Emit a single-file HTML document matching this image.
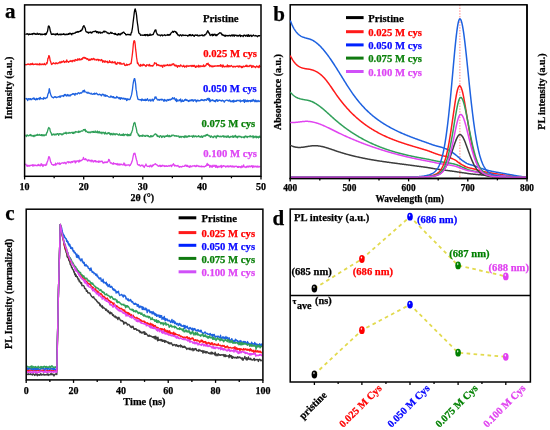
<!DOCTYPE html>
<html><head><meta charset="utf-8"><style>
html,body{margin:0;padding:0;background:#fff;width:550px;height:430px;overflow:hidden}
svg{display:block;will-change:transform}
text{font-family:"Liberation Serif",serif;font-weight:bold;stroke-width:0.25px;paint-order:stroke fill}
</style></head><body>
<svg width="550" height="430" viewBox="0 0 550 430">
<rect width="550" height="430" fill="#fff"/>
<text x="5" y="18.2" font-size="21" font-family="Liberation Serif, serif" font-weight="bold" stroke="#000">a</text>
<path d="M25.40,34.20 L25.85,34.34 L26.30,34.08 L26.75,33.81 L27.20,34.01 L27.65,33.77 L28.10,34.25 L28.55,34.83 L29.00,34.00 L29.45,33.95 L29.90,34.45 L30.35,34.40 L30.80,34.29 L31.25,33.82 L31.70,34.23 L32.15,34.56 L32.60,33.65 L33.05,34.05 L33.50,33.40 L33.95,33.68 L34.40,33.44 L34.85,34.16 L35.30,33.70 L35.75,34.40 L36.20,34.35 L36.65,34.20 L37.10,33.15 L37.55,34.05 L38.00,34.27 L38.45,34.34 L38.90,33.61 L39.35,34.09 L39.80,33.86 L40.25,33.94 L40.70,34.79 L41.15,33.95 L41.60,34.30 L42.05,34.72 L42.50,34.06 L42.95,34.27 L43.40,34.38 L43.85,34.36 L44.30,33.78 L44.75,34.36 L45.20,34.92 L45.65,33.54 L46.10,34.40 L46.55,33.53 L47.00,32.15 L47.45,31.69 L47.90,29.08 L48.35,26.32 L48.80,25.93 L49.25,26.54 L49.70,27.76 L50.15,30.22 L50.60,31.76 L51.05,33.41 L51.50,34.50 L51.95,33.89 L52.40,34.41 L52.85,34.16 L53.30,34.43 L53.75,33.84 L54.20,34.12 L54.65,34.29 L55.10,34.78 L55.55,34.90 L56.00,33.78 L56.45,34.02 L56.90,34.67 L57.35,33.48 L57.80,34.17 L58.25,34.33 L58.70,34.94 L59.15,34.68 L59.60,34.22 L60.05,34.20 L60.50,34.25 L60.95,35.04 L61.40,34.16 L61.85,34.21 L62.30,34.49 L62.75,34.27 L63.20,34.23 L63.65,33.81 L64.10,34.30 L64.55,34.09 L65.00,34.81 L65.45,34.57 L65.90,34.25 L66.35,34.54 L66.80,34.08 L67.25,34.68 L67.70,34.19 L68.15,34.43 L68.60,33.56 L69.05,34.27 L69.50,33.31 L69.95,33.12 L70.40,33.85 L70.85,33.53 L71.30,33.94 L71.75,34.80 L72.20,33.33 L72.65,33.33 L73.10,33.60 L73.55,33.61 L74.00,33.17 L74.45,33.02 L74.90,33.27 L75.35,33.03 L75.80,32.17 L76.25,32.43 L76.70,32.31 L77.15,31.66 L77.60,32.10 L78.05,31.46 L78.50,32.16 L78.95,31.70 L79.40,31.57 L79.85,31.20 L80.30,31.35 L80.75,30.39 L81.20,30.56 L81.65,30.78 L82.10,28.89 L82.55,29.12 L83.00,26.70 L83.45,26.76 L83.90,25.56 L84.35,26.62 L84.80,27.38 L85.25,28.04 L85.70,30.67 L86.15,31.83 L86.60,31.86 L87.05,32.16 L87.50,32.41 L87.95,32.15 L88.40,33.13 L88.85,32.41 L89.30,32.64 L89.75,32.30 L90.20,32.36 L90.65,32.02 L91.10,33.10 L91.55,32.37 L92.00,32.75 L92.45,32.18 L92.90,31.70 L93.35,31.70 L93.80,31.44 L94.25,31.58 L94.70,31.34 L95.15,31.37 L95.60,30.94 L96.05,31.31 L96.50,32.56 L96.95,31.69 L97.40,31.69 L97.85,32.48 L98.30,33.11 L98.75,31.94 L99.20,32.59 L99.65,32.48 L100.10,32.02 L100.55,33.18 L101.00,32.85 L101.45,32.87 L101.90,32.43 L102.35,32.84 L102.80,32.19 L103.25,32.11 L103.70,31.38 L104.15,31.07 L104.60,32.05 L105.05,31.20 L105.50,31.69 L105.95,31.81 L106.40,31.97 L106.85,32.29 L107.30,33.10 L107.75,32.90 L108.20,33.10 L108.65,33.23 L109.10,33.74 L109.55,33.46 L110.00,33.24 L110.45,32.73 L110.90,32.29 L111.35,33.29 L111.80,33.29 L112.25,32.84 L112.70,33.24 L113.15,33.48 L113.60,33.66 L114.05,33.87 L114.50,33.42 L114.95,34.47 L115.40,33.36 L115.85,34.43 L116.30,34.35 L116.75,34.60 L117.20,35.11 L117.65,34.98 L118.10,33.83 L118.55,33.62 L119.00,34.78 L119.45,33.98 L119.90,34.45 L120.35,34.82 L120.80,33.62 L121.25,33.21 L121.70,33.93 L122.15,33.34 L122.60,32.71 L123.05,32.51 L123.50,32.11 L123.95,32.15 L124.40,33.29 L124.85,33.46 L125.30,33.57 L125.75,34.79 L126.20,34.67 L126.65,34.94 L127.10,34.34 L127.55,34.51 L128.00,34.37 L128.45,34.42 L128.90,34.90 L129.35,34.43 L129.80,34.86 L130.25,34.65 L130.70,35.01 L131.15,32.74 L131.60,32.54 L132.05,30.20 L132.50,27.55 L132.95,23.45 L133.40,19.88 L133.85,16.31 L134.30,12.31 L134.75,9.89 L135.20,8.83 L135.65,10.38 L136.10,12.36 L136.55,15.02 L137.00,19.83 L137.45,23.28 L137.90,26.17 L138.35,30.09 L138.80,32.84 L139.25,33.51 L139.70,33.70 L140.15,34.22 L140.60,35.37 L141.05,35.03 L141.50,35.03 L141.95,35.00 L142.40,35.05 L142.85,35.41 L143.30,35.30 L143.75,35.15 L144.20,34.59 L144.65,35.29 L145.10,34.76 L145.55,35.56 L146.00,34.50 L146.45,35.01 L146.90,35.07 L147.35,34.48 L147.80,35.86 L148.25,35.74 L148.70,34.88 L149.15,35.44 L149.60,35.27 L150.05,33.92 L150.50,35.22 L150.95,35.07 L151.40,35.12 L151.85,34.55 L152.30,34.78 L152.75,34.52 L153.20,34.58 L153.65,33.34 L154.10,32.10 L154.55,31.71 L155.00,30.04 L155.45,30.00 L155.90,29.91 L156.35,32.44 L156.80,33.30 L157.25,34.23 L157.70,34.78 L158.15,34.91 L158.60,35.15 L159.05,35.02 L159.50,35.07 L159.95,35.20 L160.40,35.86 L160.85,35.43 L161.30,35.16 L161.75,34.93 L162.20,34.90 L162.65,35.91 L163.10,35.42 L163.55,35.23 L164.00,35.05 L164.45,34.71 L164.90,35.18 L165.35,35.61 L165.80,35.04 L166.25,35.11 L166.70,35.12 L167.15,35.26 L167.60,34.47 L168.05,35.05 L168.50,34.70 L168.95,35.36 L169.40,34.42 L169.85,34.75 L170.30,34.80 L170.75,33.50 L171.20,32.85 L171.65,32.67 L172.10,32.10 L172.55,31.28 L173.00,31.70 L173.45,32.31 L173.90,31.32 L174.35,31.45 L174.80,31.24 L175.25,32.06 L175.70,31.63 L176.15,32.05 L176.60,33.55 L177.05,33.05 L177.50,34.42 L177.95,35.05 L178.40,34.83 L178.85,35.21 L179.30,36.01 L179.75,35.14 L180.20,35.01 L180.65,34.70 L181.10,35.34 L181.55,35.99 L182.00,35.76 L182.45,34.91 L182.90,34.95 L183.35,35.12 L183.80,35.48 L184.25,35.26 L184.70,35.45 L185.15,35.49 L185.60,35.22 L186.05,35.34 L186.50,35.46 L186.95,35.33 L187.40,35.60 L187.85,36.22 L188.30,35.65 L188.75,35.41 L189.20,34.63 L189.65,35.56 L190.10,34.52 L190.55,34.76 L191.00,35.78 L191.45,35.72 L191.90,35.34 L192.35,34.64 L192.80,35.24 L193.25,35.11 L193.70,35.70 L194.15,36.44 L194.60,35.52 L195.05,35.08 L195.50,34.90 L195.95,35.41 L196.40,35.36 L196.85,34.92 L197.30,35.50 L197.75,34.93 L198.20,35.95 L198.65,35.93 L199.10,35.95 L199.55,35.25 L200.00,35.70 L200.45,35.41 L200.90,35.30 L201.35,35.32 L201.80,34.89 L202.25,34.83 L202.70,35.84 L203.15,35.40 L203.60,35.57 L204.05,35.90 L204.50,34.60 L204.95,34.84 L205.40,34.91 L205.85,34.40 L206.30,33.21 L206.75,32.90 L207.20,31.74 L207.65,30.75 L208.10,31.08 L208.55,32.54 L209.00,33.27 L209.45,33.02 L209.90,35.06 L210.35,35.03 L210.80,35.45 L211.25,34.64 L211.70,34.59 L212.15,34.13 L212.60,35.72 L213.05,34.48 L213.50,35.31 L213.95,34.38 L214.40,34.86 L214.85,34.16 L215.30,34.87 L215.75,35.59 L216.20,34.64 L216.65,35.67 L217.10,35.23 L217.55,34.39 L218.00,34.30 L218.45,33.90 L218.90,33.65 L219.35,33.08 L219.80,32.75 L220.25,33.01 L220.70,32.91 L221.15,33.17 L221.60,34.18 L222.05,35.04 L222.50,34.31 L222.95,35.27 L223.40,35.15 L223.85,35.10 L224.30,35.98 L224.75,35.39 L225.20,36.31 L225.65,35.30 L226.10,35.83 L226.55,35.55 L227.00,35.32 L227.45,35.93 L227.90,35.60 L228.35,35.94 L228.80,35.65 L229.25,35.19 L229.70,35.63 L230.15,35.71 L230.60,36.12 L231.05,35.28 L231.50,35.67 L231.95,34.92 L232.40,35.99 L232.85,35.21 L233.30,34.89 L233.75,35.68 L234.20,36.21 L234.65,35.03 L235.10,35.23 L235.55,35.39 L236.00,35.22 L236.45,35.90 L236.90,35.37 L237.35,35.41 L237.80,36.00 L238.25,35.40 L238.70,35.94 L239.15,35.31 L239.60,35.20 L240.05,34.93 L240.50,36.59 L240.95,35.62 L241.40,35.87 L241.85,35.75 L242.30,35.84 L242.75,35.80 L243.20,36.63 L243.65,35.31 L244.10,35.08 L244.55,35.33 L245.00,35.19 L245.45,36.13 L245.90,36.16 L246.35,35.37 L246.80,35.18 L247.25,35.65 L247.70,36.43 L248.15,34.54 L248.60,36.05 L249.05,35.33 L249.50,36.29 L249.95,35.34 L250.40,35.70 L250.85,35.15 L251.30,35.40 L251.75,36.46 L252.20,36.21 L252.65,35.66 L253.10,35.46 L253.55,35.00 L254.00,35.68 L254.45,35.84 L254.90,35.82 L255.35,35.82 L255.80,35.36 L256.25,35.84 L256.70,35.86 L257.15,36.46 L257.60,36.72 L258.05,35.82 L258.50,35.54 L258.95,35.86 L259.40,35.62 L259.85,35.56 L260.30,35.87" fill="none" stroke="#000000" stroke-width="1.3" stroke-linejoin="round"/>
<path d="M25.40,63.93 L25.85,64.92 L26.30,64.49 L26.75,64.71 L27.20,64.45 L27.65,64.12 L28.10,63.99 L28.55,64.41 L29.00,64.22 L29.45,64.69 L29.90,64.55 L30.35,63.73 L30.80,64.59 L31.25,63.74 L31.70,64.17 L32.15,64.36 L32.60,63.29 L33.05,64.58 L33.50,64.61 L33.95,64.42 L34.40,64.26 L34.85,64.28 L35.30,63.91 L35.75,64.33 L36.20,64.15 L36.65,64.53 L37.10,63.74 L37.55,64.60 L38.00,64.53 L38.45,64.35 L38.90,64.16 L39.35,64.74 L39.80,63.40 L40.25,64.66 L40.70,64.51 L41.15,64.52 L41.60,64.56 L42.05,63.92 L42.50,64.14 L42.95,64.66 L43.40,64.51 L43.85,64.36 L44.30,63.30 L44.75,64.51 L45.20,64.86 L45.65,64.71 L46.10,64.14 L46.55,62.77 L47.00,63.60 L47.45,61.67 L47.90,58.37 L48.35,58.11 L48.80,55.67 L49.25,55.84 L49.70,57.60 L50.15,60.70 L50.60,61.46 L51.05,62.97 L51.50,64.41 L51.95,64.50 L52.40,63.51 L52.85,63.40 L53.30,62.75 L53.75,63.04 L54.20,63.66 L54.65,63.59 L55.10,63.37 L55.55,63.84 L56.00,62.73 L56.45,63.10 L56.90,63.52 L57.35,63.37 L57.80,63.60 L58.25,63.13 L58.70,62.65 L59.15,62.98 L59.60,62.10 L60.05,61.65 L60.50,62.92 L60.95,62.47 L61.40,62.61 L61.85,61.34 L62.30,62.07 L62.75,61.85 L63.20,61.62 L63.65,60.71 L64.10,61.79 L64.55,62.45 L65.00,62.07 L65.45,61.40 L65.90,61.68 L66.35,62.06 L66.80,59.88 L67.25,61.38 L67.70,61.70 L68.15,61.71 L68.60,62.24 L69.05,61.82 L69.50,61.25 L69.95,61.17 L70.40,61.38 L70.85,60.51 L71.30,60.73 L71.75,61.23 L72.20,61.78 L72.65,60.44 L73.10,60.43 L73.55,60.51 L74.00,61.12 L74.45,60.23 L74.90,61.06 L75.35,59.53 L75.80,59.94 L76.25,59.87 L76.70,60.39 L77.15,60.49 L77.60,58.90 L78.05,59.20 L78.50,59.89 L78.95,59.24 L79.40,58.66 L79.85,60.13 L80.30,59.72 L80.75,59.61 L81.20,58.86 L81.65,59.55 L82.10,58.52 L82.55,59.02 L83.00,57.53 L83.45,57.33 L83.90,57.85 L84.35,57.32 L84.80,58.29 L85.25,58.26 L85.70,57.81 L86.15,58.65 L86.60,58.59 L87.05,59.49 L87.50,58.65 L87.95,58.82 L88.40,59.84 L88.85,60.48 L89.30,60.35 L89.75,59.21 L90.20,59.32 L90.65,60.13 L91.10,59.16 L91.55,58.67 L92.00,59.36 L92.45,59.59 L92.90,58.85 L93.35,58.40 L93.80,58.57 L94.25,59.87 L94.70,59.06 L95.15,59.48 L95.60,59.74 L96.05,60.04 L96.50,59.52 L96.95,60.08 L97.40,59.31 L97.85,59.69 L98.30,59.35 L98.75,60.71 L99.20,60.08 L99.65,59.72 L100.10,60.03 L100.55,60.18 L101.00,60.81 L101.45,59.50 L101.90,59.92 L102.35,60.39 L102.80,62.22 L103.25,61.35 L103.70,60.79 L104.15,61.37 L104.60,62.26 L105.05,60.97 L105.50,60.97 L105.95,62.00 L106.40,61.66 L106.85,61.85 L107.30,61.23 L107.75,62.77 L108.20,62.73 L108.65,62.13 L109.10,62.28 L109.55,60.74 L110.00,62.43 L110.45,62.01 L110.90,62.47 L111.35,62.71 L111.80,62.18 L112.25,61.45 L112.70,62.77 L113.15,62.18 L113.60,62.51 L114.05,62.42 L114.50,62.66 L114.95,61.56 L115.40,63.75 L115.85,63.25 L116.30,63.84 L116.75,64.43 L117.20,63.33 L117.65,62.30 L118.10,62.92 L118.55,62.80 L119.00,63.29 L119.45,63.71 L119.90,62.52 L120.35,63.99 L120.80,62.94 L121.25,64.09 L121.70,63.90 L122.15,63.84 L122.60,64.04 L123.05,63.82 L123.50,63.83 L123.95,63.24 L124.40,64.28 L124.85,65.46 L125.30,65.58 L125.75,65.24 L126.20,64.91 L126.65,64.13 L127.10,65.44 L127.55,64.59 L128.00,64.62 L128.45,64.51 L128.90,64.76 L129.35,64.41 L129.80,64.49 L130.25,63.54 L130.70,63.25 L131.15,63.53 L131.60,59.96 L132.05,56.72 L132.50,53.16 L132.95,48.79 L133.40,43.51 L133.85,41.07 L134.30,40.67 L134.75,41.40 L135.20,44.36 L135.65,49.45 L136.10,52.63 L136.55,57.16 L137.00,59.99 L137.45,63.41 L137.90,62.72 L138.35,64.25 L138.80,64.73 L139.25,65.63 L139.70,65.69 L140.15,66.20 L140.60,64.44 L141.05,65.86 L141.50,65.24 L141.95,65.04 L142.40,65.77 L142.85,64.91 L143.30,64.23 L143.75,65.26 L144.20,64.60 L144.65,65.12 L145.10,65.74 L145.55,65.71 L146.00,66.49 L146.45,65.43 L146.90,64.64 L147.35,65.11 L147.80,65.02 L148.25,64.85 L148.70,65.85 L149.15,65.21 L149.60,64.42 L150.05,66.03 L150.50,65.55 L150.95,65.84 L151.40,65.68 L151.85,65.98 L152.30,65.56 L152.75,66.13 L153.20,65.37 L153.65,64.93 L154.10,64.40 L154.55,62.75 L155.00,63.16 L155.45,63.05 L155.90,63.61 L156.35,63.18 L156.80,65.54 L157.25,65.10 L157.70,64.65 L158.15,64.54 L158.60,65.50 L159.05,65.65 L159.50,65.30 L159.95,65.79 L160.40,65.36 L160.85,66.08 L161.30,65.32 L161.75,65.73 L162.20,66.35 L162.65,67.31 L163.10,65.16 L163.55,65.49 L164.00,65.27 L164.45,66.25 L164.90,65.10 L165.35,65.50 L165.80,65.77 L166.25,65.21 L166.70,65.22 L167.15,65.51 L167.60,64.53 L168.05,64.91 L168.50,65.50 L168.95,65.79 L169.40,65.51 L169.85,64.44 L170.30,65.07 L170.75,65.63 L171.20,65.26 L171.65,64.66 L172.10,63.99 L172.55,64.78 L173.00,64.01 L173.45,63.70 L173.90,64.06 L174.35,65.60 L174.80,65.09 L175.25,65.88 L175.70,65.10 L176.15,66.12 L176.60,65.32 L177.05,65.68 L177.50,67.32 L177.95,66.32 L178.40,65.59 L178.85,65.85 L179.30,66.10 L179.75,66.64 L180.20,65.62 L180.65,64.88 L181.10,65.76 L181.55,65.94 L182.00,66.00 L182.45,66.73 L182.90,66.13 L183.35,66.43 L183.80,65.29 L184.25,66.47 L184.70,67.21 L185.15,66.42 L185.60,66.12 L186.05,66.06 L186.50,67.04 L186.95,65.42 L187.40,65.91 L187.85,66.26 L188.30,66.43 L188.75,65.73 L189.20,66.18 L189.65,65.83 L190.10,66.07 L190.55,65.93 L191.00,65.32 L191.45,66.00 L191.90,66.54 L192.35,65.44 L192.80,65.88 L193.25,66.43 L193.70,65.39 L194.15,66.15 L194.60,65.40 L195.05,66.73 L195.50,67.44 L195.95,67.27 L196.40,65.92 L196.85,66.50 L197.30,66.14 L197.75,66.13 L198.20,67.00 L198.65,65.28 L199.10,66.71 L199.55,66.05 L200.00,66.93 L200.45,66.20 L200.90,65.69 L201.35,66.26 L201.80,66.54 L202.25,66.13 L202.70,66.40 L203.15,65.80 L203.60,64.82 L204.05,66.62 L204.50,66.43 L204.95,65.96 L205.40,65.63 L205.85,65.79 L206.30,64.35 L206.75,63.66 L207.20,63.61 L207.65,64.38 L208.10,63.12 L208.55,65.17 L209.00,64.64 L209.45,64.84 L209.90,66.59 L210.35,65.97 L210.80,65.34 L211.25,65.95 L211.70,66.74 L212.15,66.90 L212.60,65.94 L213.05,66.44 L213.50,66.63 L213.95,65.82 L214.40,66.42 L214.85,66.19 L215.30,65.89 L215.75,65.90 L216.20,66.22 L216.65,66.15 L217.10,65.71 L217.55,65.66 L218.00,66.41 L218.45,65.67 L218.90,65.86 L219.35,65.88 L219.80,65.42 L220.25,66.44 L220.70,64.69 L221.15,65.86 L221.60,65.40 L222.05,66.92 L222.50,67.00 L222.95,64.94 L223.40,65.61 L223.85,66.64 L224.30,66.75 L224.75,66.73 L225.20,66.26 L225.65,66.58 L226.10,66.70 L226.55,66.27 L227.00,66.93 L227.45,64.96 L227.90,66.70 L228.35,65.71 L228.80,66.91 L229.25,66.20 L229.70,65.81 L230.15,66.57 L230.60,65.80 L231.05,65.80 L231.50,65.41 L231.95,66.34 L232.40,66.66 L232.85,66.98 L233.30,66.29 L233.75,67.00 L234.20,66.39 L234.65,66.33 L235.10,66.73 L235.55,67.02 L236.00,66.19 L236.45,66.25 L236.90,66.30 L237.35,66.45 L237.80,65.87 L238.25,67.03 L238.70,66.18 L239.15,66.70 L239.60,65.93 L240.05,66.64 L240.50,66.67 L240.95,66.18 L241.40,67.65 L241.85,66.67 L242.30,67.51 L242.75,67.03 L243.20,66.06 L243.65,66.23 L244.10,66.72 L244.55,66.50 L245.00,66.50 L245.45,66.30 L245.90,65.39 L246.35,66.35 L246.80,65.15 L247.25,66.71 L247.70,66.06 L248.15,66.07 L248.60,66.37 L249.05,66.67 L249.50,65.65 L249.95,65.46 L250.40,65.88 L250.85,65.29 L251.30,65.94 L251.75,67.48 L252.20,65.90 L252.65,66.93 L253.10,65.72 L253.55,66.72 L254.00,66.35 L254.45,66.51 L254.90,66.90 L255.35,67.61 L255.80,66.68 L256.25,66.64 L256.70,65.99 L257.15,66.92 L257.60,66.43 L258.05,67.08 L258.50,66.56 L258.95,67.63 L259.40,65.40 L259.85,66.42 L260.30,67.13" fill="none" stroke="#ff1a1a" stroke-width="1.3" stroke-linejoin="round"/>
<path d="M25.40,99.01 L25.85,98.76 L26.30,99.05 L26.75,98.43 L27.20,99.25 L27.65,100.52 L28.10,99.80 L28.55,98.56 L29.00,98.68 L29.45,98.93 L29.90,99.70 L30.35,98.69 L30.80,98.75 L31.25,99.61 L31.70,99.59 L32.15,98.90 L32.60,98.48 L33.05,98.23 L33.50,98.69 L33.95,97.83 L34.40,99.46 L34.85,98.68 L35.30,99.28 L35.75,100.03 L36.20,99.63 L36.65,98.33 L37.10,99.43 L37.55,99.57 L38.00,98.50 L38.45,98.36 L38.90,98.81 L39.35,97.96 L39.80,99.63 L40.25,97.47 L40.70,98.16 L41.15,98.59 L41.60,98.59 L42.05,98.78 L42.50,98.81 L42.95,98.51 L43.40,99.22 L43.85,97.38 L44.30,98.52 L44.75,98.09 L45.20,98.51 L45.65,98.50 L46.10,97.75 L46.55,97.60 L47.00,97.77 L47.45,96.37 L47.90,94.04 L48.35,93.42 L48.80,91.71 L49.25,88.76 L49.70,90.22 L50.15,93.03 L50.60,94.10 L51.05,95.57 L51.50,96.53 L51.95,96.97 L52.40,97.40 L52.85,97.27 L53.30,97.95 L53.75,97.27 L54.20,97.19 L54.65,96.71 L55.10,97.27 L55.55,96.74 L56.00,97.07 L56.45,97.67 L56.90,97.23 L57.35,97.23 L57.80,97.08 L58.25,96.84 L58.70,96.66 L59.15,96.49 L59.60,97.00 L60.05,95.91 L60.50,97.17 L60.95,96.37 L61.40,95.86 L61.85,95.92 L62.30,95.74 L62.75,96.12 L63.20,95.56 L63.65,96.50 L64.10,95.36 L64.55,94.46 L65.00,95.23 L65.45,94.44 L65.90,95.44 L66.35,95.97 L66.80,95.66 L67.25,94.49 L67.70,94.72 L68.15,96.04 L68.60,95.16 L69.05,94.91 L69.50,95.41 L69.95,96.10 L70.40,95.39 L70.85,94.68 L71.30,94.72 L71.75,94.79 L72.20,94.04 L72.65,93.73 L73.10,94.27 L73.55,93.65 L74.00,94.08 L74.45,94.10 L74.90,95.27 L75.35,93.46 L75.80,93.80 L76.25,93.72 L76.70,94.00 L77.15,94.28 L77.60,93.39 L78.05,93.16 L78.50,92.66 L78.95,93.00 L79.40,93.76 L79.85,93.43 L80.30,92.76 L80.75,92.98 L81.20,93.01 L81.65,93.01 L82.10,92.07 L82.55,91.89 L83.00,90.66 L83.45,90.74 L83.90,92.13 L84.35,90.07 L84.80,91.29 L85.25,91.92 L85.70,91.95 L86.15,92.05 L86.60,92.74 L87.05,92.97 L87.50,93.06 L87.95,92.16 L88.40,93.16 L88.85,92.81 L89.30,93.01 L89.75,93.46 L90.20,93.72 L90.65,93.89 L91.10,93.16 L91.55,93.98 L92.00,94.16 L92.45,94.18 L92.90,94.37 L93.35,93.57 L93.80,93.60 L94.25,94.21 L94.70,93.05 L95.15,93.98 L95.60,93.63 L96.05,93.78 L96.50,93.09 L96.95,93.62 L97.40,94.17 L97.85,94.74 L98.30,94.87 L98.75,94.35 L99.20,94.36 L99.65,94.09 L100.10,94.84 L100.55,94.56 L101.00,95.11 L101.45,95.82 L101.90,94.92 L102.35,94.20 L102.80,94.63 L103.25,94.39 L103.70,94.62 L104.15,96.08 L104.60,95.57 L105.05,94.70 L105.50,95.98 L105.95,96.40 L106.40,95.60 L106.85,95.51 L107.30,95.79 L107.75,96.22 L108.20,96.50 L108.65,96.88 L109.10,96.99 L109.55,97.06 L110.00,97.24 L110.45,96.94 L110.90,95.82 L111.35,96.68 L111.80,97.01 L112.25,96.70 L112.70,97.50 L113.15,96.88 L113.60,96.65 L114.05,98.03 L114.50,97.69 L114.95,97.52 L115.40,97.98 L115.85,98.13 L116.30,97.81 L116.75,96.35 L117.20,97.40 L117.65,97.59 L118.10,97.37 L118.55,98.09 L119.00,98.70 L119.45,97.85 L119.90,97.55 L120.35,99.36 L120.80,98.05 L121.25,97.69 L121.70,98.55 L122.15,98.72 L122.60,98.15 L123.05,99.03 L123.50,98.38 L123.95,98.19 L124.40,98.85 L124.85,99.23 L125.30,98.50 L125.75,99.08 L126.20,98.89 L126.65,100.54 L127.10,98.64 L127.55,99.84 L128.00,99.08 L128.45,99.06 L128.90,99.52 L129.35,99.55 L129.80,99.57 L130.25,98.64 L130.70,97.34 L131.15,96.06 L131.60,94.63 L132.05,91.95 L132.50,89.09 L132.95,85.02 L133.40,82.18 L133.85,80.20 L134.30,78.67 L134.75,78.60 L135.20,81.05 L135.65,84.15 L136.10,89.40 L136.55,91.42 L137.00,95.34 L137.45,97.04 L137.90,99.03 L138.35,99.48 L138.80,99.34 L139.25,99.53 L139.70,99.81 L140.15,99.92 L140.60,99.56 L141.05,99.86 L141.50,100.78 L141.95,98.97 L142.40,100.06 L142.85,99.43 L143.30,100.05 L143.75,100.42 L144.20,99.94 L144.65,100.41 L145.10,99.12 L145.55,100.61 L146.00,99.68 L146.45,100.36 L146.90,100.13 L147.35,98.62 L147.80,99.63 L148.25,100.18 L148.70,100.92 L149.15,100.23 L149.60,100.22 L150.05,99.31 L150.50,100.88 L150.95,101.09 L151.40,100.11 L151.85,99.97 L152.30,99.15 L152.75,100.41 L153.20,101.17 L153.65,99.68 L154.10,99.42 L154.55,98.40 L155.00,97.04 L155.45,98.10 L155.90,96.84 L156.35,97.87 L156.80,98.77 L157.25,99.70 L157.70,99.89 L158.15,100.15 L158.60,99.67 L159.05,99.45 L159.50,100.22 L159.95,99.81 L160.40,99.49 L160.85,99.51 L161.30,99.95 L161.75,99.20 L162.20,99.48 L162.65,99.33 L163.10,100.33 L163.55,100.46 L164.00,101.34 L164.45,99.42 L164.90,99.87 L165.35,100.75 L165.80,100.13 L166.25,100.07 L166.70,101.19 L167.15,100.07 L167.60,99.61 L168.05,99.50 L168.50,100.38 L168.95,100.30 L169.40,99.28 L169.85,99.35 L170.30,99.99 L170.75,99.78 L171.20,98.85 L171.65,99.28 L172.10,99.02 L172.55,97.58 L173.00,98.33 L173.45,98.79 L173.90,98.41 L174.35,97.78 L174.80,99.07 L175.25,99.91 L175.70,100.61 L176.15,98.73 L176.60,101.52 L177.05,99.57 L177.50,100.78 L177.95,100.98 L178.40,100.86 L178.85,100.42 L179.30,99.71 L179.75,100.69 L180.20,99.96 L180.65,98.97 L181.10,101.92 L181.55,100.75 L182.00,101.37 L182.45,99.87 L182.90,101.18 L183.35,101.25 L183.80,101.23 L184.25,100.37 L184.70,99.72 L185.15,100.29 L185.60,99.18 L186.05,99.46 L186.50,100.45 L186.95,99.86 L187.40,100.31 L187.85,100.35 L188.30,101.47 L188.75,101.13 L189.20,100.39 L189.65,101.08 L190.10,99.99 L190.55,100.24 L191.00,100.93 L191.45,99.75 L191.90,100.28 L192.35,99.71 L192.80,100.50 L193.25,101.34 L193.70,100.03 L194.15,100.57 L194.60,99.96 L195.05,99.82 L195.50,99.78 L195.95,101.26 L196.40,101.76 L196.85,100.73 L197.30,100.08 L197.75,100.86 L198.20,100.29 L198.65,100.92 L199.10,100.64 L199.55,100.64 L200.00,100.82 L200.45,100.17 L200.90,100.27 L201.35,99.55 L201.80,100.26 L202.25,99.72 L202.70,100.43 L203.15,99.98 L203.60,100.56 L204.05,100.74 L204.50,99.66 L204.95,99.89 L205.40,99.62 L205.85,100.24 L206.30,100.38 L206.75,99.52 L207.20,98.60 L207.65,99.56 L208.10,98.12 L208.55,100.14 L209.00,99.37 L209.45,98.54 L209.90,101.77 L210.35,101.32 L210.80,99.95 L211.25,100.65 L211.70,100.45 L212.15,100.63 L212.60,99.76 L213.05,100.20 L213.50,100.84 L213.95,100.71 L214.40,101.25 L214.85,100.63 L215.30,101.89 L215.75,100.20 L216.20,100.74 L216.65,99.55 L217.10,99.92 L217.55,101.34 L218.00,100.09 L218.45,100.91 L218.90,100.58 L219.35,100.05 L219.80,100.43 L220.25,100.34 L220.70,100.36 L221.15,101.05 L221.60,101.00 L222.05,100.32 L222.50,100.14 L222.95,100.80 L223.40,100.59 L223.85,101.22 L224.30,102.12 L224.75,101.12 L225.20,100.64 L225.65,100.57 L226.10,100.20 L226.55,100.17 L227.00,100.12 L227.45,100.46 L227.90,100.44 L228.35,101.09 L228.80,100.47 L229.25,100.58 L229.70,100.02 L230.15,101.60 L230.60,100.98 L231.05,101.68 L231.50,101.14 L231.95,101.53 L232.40,100.57 L232.85,101.11 L233.30,102.20 L233.75,100.05 L234.20,101.37 L234.65,101.66 L235.10,100.96 L235.55,101.15 L236.00,101.44 L236.45,100.37 L236.90,100.97 L237.35,100.26 L237.80,100.37 L238.25,100.40 L238.70,100.67 L239.15,100.84 L239.60,101.01 L240.05,99.96 L240.50,101.88 L240.95,101.42 L241.40,101.18 L241.85,100.57 L242.30,100.73 L242.75,101.09 L243.20,101.02 L243.65,99.84 L244.10,101.21 L244.55,102.44 L245.00,99.75 L245.45,101.36 L245.90,101.01 L246.35,100.74 L246.80,101.58 L247.25,100.14 L247.70,100.91 L248.15,101.64 L248.60,100.71 L249.05,100.59 L249.50,100.89 L249.95,100.58 L250.40,101.71 L250.85,100.32 L251.30,101.33 L251.75,100.13 L252.20,101.22 L252.65,100.79 L253.10,99.39 L253.55,100.85 L254.00,100.25 L254.45,100.61 L254.90,101.73 L255.35,100.23 L255.80,100.27 L256.25,101.69 L256.70,100.94 L257.15,101.75 L257.60,101.06 L258.05,100.39 L258.50,100.85 L258.95,101.59 L259.40,101.43 L259.85,100.90 L260.30,100.93" fill="none" stroke="#1e62e0" stroke-width="1.3" stroke-linejoin="round"/>
<path d="M25.40,135.47 L25.85,135.20 L26.30,136.62 L26.75,135.53 L27.20,134.88 L27.65,135.25 L28.10,135.93 L28.55,135.88 L29.00,135.43 L29.45,135.13 L29.90,135.51 L30.35,134.55 L30.80,134.76 L31.25,135.94 L31.70,135.21 L32.15,135.69 L32.60,136.16 L33.05,135.83 L33.50,135.47 L33.95,136.65 L34.40,135.82 L34.85,135.23 L35.30,135.84 L35.75,135.65 L36.20,134.92 L36.65,135.44 L37.10,135.29 L37.55,134.26 L38.00,135.26 L38.45,135.19 L38.90,135.09 L39.35,134.39 L39.80,135.11 L40.25,135.27 L40.70,135.34 L41.15,134.62 L41.60,135.61 L42.05,134.55 L42.50,135.09 L42.95,135.94 L43.40,134.79 L43.85,134.87 L44.30,135.74 L44.75,134.89 L45.20,134.88 L45.65,135.06 L46.10,135.27 L46.55,132.91 L47.00,132.79 L47.45,131.37 L47.90,129.74 L48.35,128.40 L48.80,127.52 L49.25,128.19 L49.70,128.44 L50.15,130.46 L50.60,132.13 L51.05,132.72 L51.50,134.00 L51.95,135.27 L52.40,134.71 L52.85,134.22 L53.30,134.54 L53.75,134.04 L54.20,134.67 L54.65,134.97 L55.10,133.98 L55.55,134.29 L56.00,134.99 L56.45,134.05 L56.90,134.39 L57.35,133.67 L57.80,133.75 L58.25,133.88 L58.70,135.32 L59.15,133.85 L59.60,133.74 L60.05,133.68 L60.50,133.86 L60.95,134.26 L61.40,133.96 L61.85,134.94 L62.30,133.88 L62.75,134.52 L63.20,133.83 L63.65,133.96 L64.10,132.79 L64.55,133.46 L65.00,133.45 L65.45,133.31 L65.90,132.21 L66.35,133.83 L66.80,133.08 L67.25,133.01 L67.70,133.06 L68.15,133.03 L68.60,133.33 L69.05,132.36 L69.50,132.50 L69.95,133.13 L70.40,133.01 L70.85,132.67 L71.30,132.52 L71.75,132.33 L72.20,132.72 L72.65,133.35 L73.10,132.08 L73.55,133.46 L74.00,133.05 L74.45,132.29 L74.90,132.93 L75.35,131.66 L75.80,131.48 L76.25,131.68 L76.70,132.13 L77.15,132.14 L77.60,132.01 L78.05,132.31 L78.50,131.05 L78.95,132.46 L79.40,131.37 L79.85,131.74 L80.30,131.80 L80.75,131.27 L81.20,130.97 L81.65,130.91 L82.10,131.13 L82.55,131.08 L83.00,130.71 L83.45,129.56 L83.90,129.54 L84.35,129.50 L84.80,130.46 L85.25,129.40 L85.70,131.56 L86.15,130.94 L86.60,131.04 L87.05,131.85 L87.50,132.35 L87.95,132.05 L88.40,132.47 L88.85,131.99 L89.30,132.61 L89.75,132.62 L90.20,131.90 L90.65,132.75 L91.10,132.07 L91.55,132.04 L92.00,131.50 L92.45,131.86 L92.90,132.47 L93.35,131.34 L93.80,132.44 L94.25,132.30 L94.70,132.29 L95.15,130.95 L95.60,132.13 L96.05,132.58 L96.50,131.83 L96.95,132.33 L97.40,131.01 L97.85,132.72 L98.30,132.02 L98.75,132.90 L99.20,131.45 L99.65,132.88 L100.10,132.41 L100.55,133.03 L101.00,132.12 L101.45,132.33 L101.90,133.95 L102.35,132.30 L102.80,132.42 L103.25,132.70 L103.70,132.34 L104.15,133.60 L104.60,133.94 L105.05,132.66 L105.50,132.14 L105.95,133.79 L106.40,133.80 L106.85,133.70 L107.30,133.93 L107.75,132.87 L108.20,133.31 L108.65,132.69 L109.10,132.72 L109.55,134.09 L110.00,133.24 L110.45,134.91 L110.90,133.75 L111.35,133.41 L111.80,134.25 L112.25,134.86 L112.70,134.18 L113.15,133.30 L113.60,134.22 L114.05,134.83 L114.50,133.85 L114.95,133.74 L115.40,134.78 L115.85,134.34 L116.30,133.71 L116.75,134.15 L117.20,134.00 L117.65,134.62 L118.10,134.57 L118.55,135.18 L119.00,134.99 L119.45,133.78 L119.90,134.91 L120.35,135.22 L120.80,135.02 L121.25,135.38 L121.70,134.55 L122.15,134.37 L122.60,135.45 L123.05,134.39 L123.50,133.83 L123.95,135.61 L124.40,134.69 L124.85,134.96 L125.30,134.39 L125.75,134.47 L126.20,134.59 L126.65,135.06 L127.10,135.50 L127.55,134.06 L128.00,135.76 L128.45,134.72 L128.90,134.77 L129.35,135.69 L129.80,135.15 L130.25,134.09 L130.70,135.48 L131.15,133.22 L131.60,132.68 L132.05,131.11 L132.50,129.90 L132.95,126.82 L133.40,125.69 L133.85,123.21 L134.30,123.43 L134.75,122.46 L135.20,123.62 L135.65,126.48 L136.10,127.63 L136.55,129.59 L137.00,132.66 L137.45,133.17 L137.90,133.66 L138.35,135.29 L138.80,134.72 L139.25,136.27 L139.70,136.47 L140.15,135.58 L140.60,135.59 L141.05,136.06 L141.50,135.99 L141.95,135.46 L142.40,136.32 L142.85,134.90 L143.30,135.79 L143.75,135.82 L144.20,135.90 L144.65,136.23 L145.10,135.40 L145.55,136.41 L146.00,135.99 L146.45,135.74 L146.90,135.36 L147.35,135.47 L147.80,136.32 L148.25,135.60 L148.70,136.18 L149.15,136.73 L149.60,136.72 L150.05,137.02 L150.50,136.00 L150.95,135.57 L151.40,136.71 L151.85,136.28 L152.30,136.64 L152.75,135.84 L153.20,136.18 L153.65,135.56 L154.10,134.97 L154.55,134.38 L155.00,134.01 L155.45,133.87 L155.90,134.11 L156.35,134.98 L156.80,134.67 L157.25,136.39 L157.70,135.74 L158.15,136.57 L158.60,136.11 L159.05,136.09 L159.50,137.37 L159.95,136.09 L160.40,135.57 L160.85,135.88 L161.30,136.10 L161.75,137.47 L162.20,136.40 L162.65,136.80 L163.10,135.74 L163.55,136.49 L164.00,136.67 L164.45,137.29 L164.90,135.92 L165.35,136.64 L165.80,136.48 L166.25,135.75 L166.70,136.30 L167.15,136.17 L167.60,135.03 L168.05,136.63 L168.50,136.57 L168.95,135.99 L169.40,135.43 L169.85,136.89 L170.30,136.09 L170.75,136.35 L171.20,136.39 L171.65,135.15 L172.10,135.73 L172.55,135.05 L173.00,135.12 L173.45,135.14 L173.90,135.30 L174.35,136.07 L174.80,135.70 L175.25,135.73 L175.70,135.82 L176.15,136.30 L176.60,135.72 L177.05,136.00 L177.50,136.29 L177.95,136.04 L178.40,136.30 L178.85,136.04 L179.30,137.49 L179.75,137.12 L180.20,136.64 L180.65,136.36 L181.10,137.60 L181.55,136.57 L182.00,136.35 L182.45,136.57 L182.90,136.57 L183.35,137.18 L183.80,136.40 L184.25,137.57 L184.70,135.93 L185.15,136.80 L185.60,135.87 L186.05,137.42 L186.50,136.24 L186.95,136.39 L187.40,136.94 L187.85,137.12 L188.30,135.82 L188.75,136.24 L189.20,135.67 L189.65,136.51 L190.10,136.39 L190.55,136.25 L191.00,136.07 L191.45,136.24 L191.90,136.04 L192.35,136.74 L192.80,137.29 L193.25,135.40 L193.70,136.40 L194.15,136.23 L194.60,136.74 L195.05,135.94 L195.50,136.39 L195.95,135.90 L196.40,136.86 L196.85,136.53 L197.30,136.39 L197.75,136.68 L198.20,136.35 L198.65,135.63 L199.10,136.81 L199.55,136.65 L200.00,136.41 L200.45,137.04 L200.90,137.17 L201.35,135.90 L201.80,136.07 L202.25,137.35 L202.70,137.29 L203.15,136.10 L203.60,135.85 L204.05,136.13 L204.50,136.16 L204.95,135.46 L205.40,136.15 L205.85,135.12 L206.30,134.77 L206.75,135.55 L207.20,134.41 L207.65,134.71 L208.10,135.29 L208.55,135.76 L209.00,135.53 L209.45,136.08 L209.90,135.84 L210.35,137.40 L210.80,136.86 L211.25,135.93 L211.70,136.55 L212.15,136.95 L212.60,136.82 L213.05,137.56 L213.50,137.32 L213.95,136.27 L214.40,136.52 L214.85,135.86 L215.30,136.71 L215.75,136.66 L216.20,138.06 L216.65,136.63 L217.10,135.43 L217.55,136.21 L218.00,136.65 L218.45,135.90 L218.90,136.11 L219.35,136.39 L219.80,136.78 L220.25,136.50 L220.70,136.11 L221.15,137.03 L221.60,136.31 L222.05,136.33 L222.50,135.85 L222.95,136.18 L223.40,136.97 L223.85,135.72 L224.30,136.58 L224.75,137.01 L225.20,136.41 L225.65,136.75 L226.10,136.01 L226.55,137.35 L227.00,137.24 L227.45,136.76 L227.90,135.67 L228.35,136.06 L228.80,137.18 L229.25,137.58 L229.70,136.81 L230.15,137.33 L230.60,136.31 L231.05,136.55 L231.50,136.65 L231.95,136.89 L232.40,135.82 L232.85,137.18 L233.30,137.39 L233.75,136.03 L234.20,135.92 L234.65,136.86 L235.10,136.31 L235.55,135.37 L236.00,137.12 L236.45,136.76 L236.90,136.42 L237.35,137.85 L237.80,136.76 L238.25,136.27 L238.70,136.75 L239.15,136.12 L239.60,136.28 L240.05,136.91 L240.50,136.39 L240.95,136.45 L241.40,137.62 L241.85,137.18 L242.30,137.15 L242.75,137.00 L243.20,136.98 L243.65,137.52 L244.10,136.71 L244.55,137.74 L245.00,136.20 L245.45,136.58 L245.90,135.97 L246.35,136.54 L246.80,137.02 L247.25,137.53 L247.70,136.37 L248.15,136.74 L248.60,136.54 L249.05,136.34 L249.50,136.09 L249.95,136.78 L250.40,135.80 L250.85,136.81 L251.30,136.77 L251.75,136.39 L252.20,136.20 L252.65,136.00 L253.10,137.79 L253.55,136.03 L254.00,137.62 L254.45,137.10 L254.90,136.57 L255.35,136.14 L255.80,137.35 L256.25,137.73 L256.70,136.27 L257.15,136.62 L257.60,137.36 L258.05,136.97 L258.50,137.89 L258.95,136.48 L259.40,137.09 L259.85,136.11 L260.30,137.95" fill="none" stroke="#31a05a" stroke-width="1.3" stroke-linejoin="round"/>
<path d="M25.40,164.96 L25.85,164.15 L26.30,165.29 L26.75,165.28 L27.20,166.41 L27.65,165.17 L28.10,165.35 L28.55,165.68 L29.00,166.23 L29.45,165.32 L29.90,165.92 L30.35,165.63 L30.80,165.18 L31.25,165.38 L31.70,165.35 L32.15,164.83 L32.60,166.00 L33.05,164.56 L33.50,165.96 L33.95,165.84 L34.40,165.26 L34.85,164.88 L35.30,165.17 L35.75,165.55 L36.20,165.69 L36.65,165.43 L37.10,165.81 L37.55,164.95 L38.00,165.37 L38.45,164.37 L38.90,165.64 L39.35,165.30 L39.80,164.97 L40.25,165.83 L40.70,165.55 L41.15,163.61 L41.60,165.17 L42.05,164.33 L42.50,165.70 L42.95,166.46 L43.40,164.79 L43.85,165.10 L44.30,164.90 L44.75,165.19 L45.20,165.30 L45.65,165.52 L46.10,163.98 L46.55,164.82 L47.00,162.44 L47.45,161.64 L47.90,160.36 L48.35,158.47 L48.80,156.58 L49.25,156.74 L49.70,157.89 L50.15,159.74 L50.60,162.08 L51.05,162.10 L51.50,163.95 L51.95,164.51 L52.40,164.68 L52.85,164.68 L53.30,165.25 L53.75,164.66 L54.20,164.82 L54.65,164.61 L55.10,165.25 L55.55,163.17 L56.00,164.87 L56.45,163.97 L56.90,163.91 L57.35,163.48 L57.80,162.94 L58.25,163.70 L58.70,163.48 L59.15,164.08 L59.60,162.94 L60.05,164.48 L60.50,163.79 L60.95,163.44 L61.40,163.13 L61.85,163.03 L62.30,162.78 L62.75,163.04 L63.20,163.28 L63.65,163.12 L64.10,162.37 L64.55,162.94 L65.00,162.53 L65.45,163.04 L65.90,163.92 L66.35,163.17 L66.80,162.59 L67.25,161.80 L67.70,161.85 L68.15,161.64 L68.60,162.90 L69.05,162.01 L69.50,162.40 L69.95,161.96 L70.40,162.29 L70.85,162.94 L71.30,161.73 L71.75,161.85 L72.20,161.54 L72.65,162.40 L73.10,161.29 L73.55,161.17 L74.00,160.97 L74.45,160.90 L74.90,161.88 L75.35,162.97 L75.80,160.96 L76.25,161.98 L76.70,161.54 L77.15,160.74 L77.60,161.15 L78.05,161.12 L78.50,160.82 L78.95,162.21 L79.40,160.05 L79.85,161.23 L80.30,161.10 L80.75,160.44 L81.20,160.61 L81.65,160.68 L82.10,159.87 L82.55,159.54 L83.00,159.23 L83.45,157.37 L83.90,159.12 L84.35,159.60 L84.80,159.14 L85.25,159.54 L85.70,158.65 L86.15,159.77 L86.60,159.72 L87.05,160.08 L87.50,161.09 L87.95,160.20 L88.40,160.62 L88.85,159.67 L89.30,160.64 L89.75,160.80 L90.20,160.37 L90.65,160.38 L91.10,161.83 L91.55,160.15 L92.00,160.26 L92.45,160.42 L92.90,161.55 L93.35,162.08 L93.80,161.14 L94.25,160.60 L94.70,160.79 L95.15,161.65 L95.60,160.61 L96.05,161.95 L96.50,161.97 L96.95,161.28 L97.40,161.65 L97.85,161.75 L98.30,162.25 L98.75,160.87 L99.20,162.15 L99.65,161.35 L100.10,161.20 L100.55,161.73 L101.00,161.62 L101.45,161.26 L101.90,160.99 L102.35,161.41 L102.80,162.79 L103.25,163.14 L103.70,162.48 L104.15,162.85 L104.60,161.98 L105.05,162.29 L105.50,162.56 L105.95,161.87 L106.40,161.99 L106.85,162.66 L107.30,162.43 L107.75,161.71 L108.20,161.39 L108.65,159.37 L109.10,159.58 L109.55,160.40 L110.00,161.94 L110.45,163.03 L110.90,163.12 L111.35,162.94 L111.80,163.16 L112.25,163.86 L112.70,163.87 L113.15,164.29 L113.60,162.72 L114.05,163.50 L114.50,163.55 L114.95,163.94 L115.40,163.65 L115.85,163.68 L116.30,164.46 L116.75,164.19 L117.20,163.51 L117.65,164.94 L118.10,164.81 L118.55,164.00 L119.00,164.83 L119.45,164.02 L119.90,165.10 L120.35,164.41 L120.80,164.14 L121.25,164.43 L121.70,164.26 L122.15,164.84 L122.60,164.87 L123.05,164.84 L123.50,164.56 L123.95,162.90 L124.40,165.00 L124.85,163.95 L125.30,165.17 L125.75,165.69 L126.20,165.26 L126.65,164.93 L127.10,165.08 L127.55,165.14 L128.00,164.94 L128.45,164.94 L128.90,164.75 L129.35,165.87 L129.80,165.09 L130.25,165.38 L130.70,164.26 L131.15,163.70 L131.60,162.47 L132.05,161.33 L132.50,159.72 L132.95,157.43 L133.40,155.06 L133.85,153.54 L134.30,154.11 L134.75,153.11 L135.20,154.01 L135.65,156.53 L136.10,158.26 L136.55,159.96 L137.00,161.26 L137.45,164.26 L137.90,164.28 L138.35,165.11 L138.80,165.18 L139.25,164.76 L139.70,164.96 L140.15,165.99 L140.60,166.03 L141.05,165.70 L141.50,165.21 L141.95,165.07 L142.40,165.69 L142.85,165.08 L143.30,166.39 L143.75,166.54 L144.20,167.47 L144.65,166.40 L145.10,165.60 L145.55,165.45 L146.00,164.04 L146.45,165.62 L146.90,165.86 L147.35,166.49 L147.80,166.30 L148.25,166.30 L148.70,166.10 L149.15,166.35 L149.60,166.79 L150.05,165.41 L150.50,165.75 L150.95,165.23 L151.40,166.88 L151.85,166.66 L152.30,166.28 L152.75,165.04 L153.20,165.53 L153.65,164.92 L154.10,164.64 L154.55,164.07 L155.00,164.19 L155.45,163.64 L155.90,164.54 L156.35,164.60 L156.80,164.77 L157.25,165.29 L157.70,165.42 L158.15,166.32 L158.60,165.83 L159.05,166.20 L159.50,165.85 L159.95,165.26 L160.40,166.58 L160.85,165.50 L161.30,166.46 L161.75,166.32 L162.20,165.18 L162.65,165.58 L163.10,165.82 L163.55,165.65 L164.00,165.45 L164.45,166.51 L164.90,165.98 L165.35,166.32 L165.80,165.88 L166.25,166.28 L166.70,165.70 L167.15,166.10 L167.60,166.43 L168.05,166.12 L168.50,165.83 L168.95,165.44 L169.40,166.06 L169.85,166.07 L170.30,165.61 L170.75,165.17 L171.20,165.71 L171.65,166.61 L172.10,164.92 L172.55,165.17 L173.00,165.16 L173.45,163.58 L173.90,165.17 L174.35,164.87 L174.80,166.20 L175.25,165.48 L175.70,165.35 L176.15,165.79 L176.60,166.10 L177.05,165.77 L177.50,166.10 L177.95,165.41 L178.40,166.04 L178.85,166.60 L179.30,167.27 L179.75,166.58 L180.20,166.34 L180.65,166.84 L181.10,166.76 L181.55,167.11 L182.00,166.80 L182.45,166.14 L182.90,166.35 L183.35,166.31 L183.80,166.38 L184.25,166.32 L184.70,165.78 L185.15,165.06 L185.60,165.85 L186.05,165.11 L186.50,166.26 L186.95,166.23 L187.40,165.31 L187.85,166.61 L188.30,166.71 L188.75,166.29 L189.20,167.15 L189.65,167.27 L190.10,165.58 L190.55,166.81 L191.00,166.49 L191.45,166.48 L191.90,166.76 L192.35,165.86 L192.80,165.93 L193.25,165.80 L193.70,165.84 L194.15,166.21 L194.60,165.47 L195.05,165.69 L195.50,166.59 L195.95,166.23 L196.40,166.48 L196.85,165.24 L197.30,165.85 L197.75,165.97 L198.20,166.30 L198.65,165.96 L199.10,166.80 L199.55,166.26 L200.00,166.30 L200.45,166.30 L200.90,166.69 L201.35,166.04 L201.80,166.92 L202.25,166.56 L202.70,166.39 L203.15,166.33 L203.60,166.59 L204.05,166.84 L204.50,166.76 L204.95,166.34 L205.40,166.41 L205.85,165.69 L206.30,165.92 L206.75,164.83 L207.20,163.44 L207.65,165.28 L208.10,164.80 L208.55,164.46 L209.00,165.40 L209.45,165.37 L209.90,167.25 L210.35,166.51 L210.80,165.44 L211.25,166.64 L211.70,166.13 L212.15,167.41 L212.60,165.78 L213.05,165.12 L213.50,166.40 L213.95,166.17 L214.40,166.14 L214.85,165.19 L215.30,166.60 L215.75,167.29 L216.20,165.32 L216.65,167.02 L217.10,166.07 L217.55,167.67 L218.00,166.62 L218.45,166.28 L218.90,167.00 L219.35,166.68 L219.80,166.07 L220.25,166.79 L220.70,166.12 L221.15,165.42 L221.60,167.52 L222.05,166.21 L222.50,166.07 L222.95,166.60 L223.40,165.55 L223.85,165.67 L224.30,166.14 L224.75,166.13 L225.20,166.46 L225.65,167.04 L226.10,166.16 L226.55,166.70 L227.00,166.76 L227.45,165.84 L227.90,166.56 L228.35,165.92 L228.80,167.02 L229.25,166.69 L229.70,166.45 L230.15,165.71 L230.60,166.51 L231.05,166.03 L231.50,166.84 L231.95,166.39 L232.40,166.01 L232.85,166.97 L233.30,166.86 L233.75,166.14 L234.20,167.11 L234.65,166.30 L235.10,166.30 L235.55,166.54 L236.00,166.06 L236.45,166.24 L236.90,166.39 L237.35,167.32 L237.80,167.31 L238.25,166.34 L238.70,167.38 L239.15,166.47 L239.60,166.70 L240.05,166.98 L240.50,166.66 L240.95,167.83 L241.40,166.64 L241.85,165.85 L242.30,167.23 L242.75,166.28 L243.20,166.35 L243.65,164.87 L244.10,167.07 L244.55,166.97 L245.00,166.96 L245.45,167.06 L245.90,167.46 L246.35,166.50 L246.80,167.05 L247.25,166.12 L247.70,166.34 L248.15,167.12 L248.60,166.76 L249.05,165.81 L249.50,166.74 L249.95,166.45 L250.40,166.10 L250.85,166.79 L251.30,166.33 L251.75,165.69 L252.20,165.95 L252.65,167.53 L253.10,165.73 L253.55,166.69 L254.00,166.90 L254.45,166.92 L254.90,165.90 L255.35,166.40 L255.80,166.65 L256.25,167.02 L256.70,166.23 L257.15,165.94 L257.60,167.14 L258.05,167.20 L258.50,166.79 L258.95,166.26 L259.40,166.82 L259.85,166.66 L260.30,167.06" fill="none" stroke="#e044f0" stroke-width="1.3" stroke-linejoin="round"/>
<rect x="24.6" y="4.9" width="236.4" height="171.4" fill="none" stroke="#000" stroke-width="1.5"/>
<line x1="24.60" y1="176.3" x2="24.60" y2="179.5" stroke="#000" stroke-width="1.3"/>
<text x="24.60" y="189.6" font-size="10" text-anchor="middle" font-family="Liberation Serif, serif" font-weight="bold" stroke="#000">10</text>
<line x1="54.15" y1="176.3" x2="54.15" y2="178.3" stroke="#000" stroke-width="1.3"/>
<line x1="83.70" y1="176.3" x2="83.70" y2="179.5" stroke="#000" stroke-width="1.3"/>
<text x="83.70" y="189.6" font-size="10" text-anchor="middle" font-family="Liberation Serif, serif" font-weight="bold" stroke="#000">20</text>
<line x1="113.25" y1="176.3" x2="113.25" y2="178.3" stroke="#000" stroke-width="1.3"/>
<line x1="142.80" y1="176.3" x2="142.80" y2="179.5" stroke="#000" stroke-width="1.3"/>
<text x="142.80" y="189.6" font-size="10" text-anchor="middle" font-family="Liberation Serif, serif" font-weight="bold" stroke="#000">30</text>
<line x1="172.35" y1="176.3" x2="172.35" y2="178.3" stroke="#000" stroke-width="1.3"/>
<line x1="201.90" y1="176.3" x2="201.90" y2="179.5" stroke="#000" stroke-width="1.3"/>
<text x="201.90" y="189.6" font-size="10" text-anchor="middle" font-family="Liberation Serif, serif" font-weight="bold" stroke="#000">40</text>
<line x1="231.45" y1="176.3" x2="231.45" y2="178.3" stroke="#000" stroke-width="1.3"/>
<line x1="261.00" y1="176.3" x2="261.00" y2="179.5" stroke="#000" stroke-width="1.3"/>
<text x="261.00" y="189.6" font-size="10" text-anchor="middle" font-family="Liberation Serif, serif" font-weight="bold" stroke="#000">50</text>
<text x="142.3" y="200.8" font-size="10" text-anchor="middle" font-family="Liberation Serif, serif" font-weight="bold" stroke="#000">2θ (°)</text>
<text transform="translate(12.3,87.9) rotate(-90)" font-size="10" text-anchor="middle" font-family="Liberation Serif, serif" font-weight="bold" stroke="#000">Intensity (a.u.)</text>
<text x="203.0" y="22.2" font-size="10.7" fill="#000000" font-family="Liberation Serif, serif" font-weight="bold" stroke="#000000">Pristine</text>
<text x="203.2" y="57.1" font-size="10.7" fill="#ff0000" font-family="Liberation Serif, serif" font-weight="bold" stroke="#ff0000">0.025 M cys</text>
<text x="203.0" y="92.4" font-size="10.7" fill="#0a0aff" font-family="Liberation Serif, serif" font-weight="bold" stroke="#0a0aff">0.050 M cys</text>
<text x="201.5" y="126.6" font-size="10.7" fill="#0a800a" font-family="Liberation Serif, serif" font-weight="bold" stroke="#0a800a">0.075 M cys</text>
<text x="203.2" y="156.5" font-size="10.7" fill="#dd44f4" font-family="Liberation Serif, serif" font-weight="bold" stroke="#dd44f4">0.100 M cys</text>
<text x="273.3" y="20.6" font-size="21" font-family="Liberation Serif, serif" font-weight="bold" stroke="#000">b</text>
<line x1="459.9" y1="4.8" x2="459.9" y2="178.4" stroke="#ff7070" stroke-width="0.9" stroke-dasharray="1.4,1.4"/>
<rect x="290.2" y="4.8" width="236.8" height="173.6" fill="none" stroke="#000" stroke-width="1.5"/>
<path d="M290.30,145.11 L290.80,145.40 L291.30,145.67 L291.80,145.91 L292.30,146.14 L292.80,146.34 L293.30,146.52 L293.80,146.69 L294.30,146.83 L294.80,146.96 L295.30,147.07 L295.80,147.17 L296.30,147.25 L296.80,147.32 L297.30,147.37 L297.80,147.41 L298.30,147.43 L298.80,147.45 L299.30,147.45 L299.80,147.44 L300.30,147.42 L300.80,147.40 L301.30,147.36 L301.80,147.32 L302.30,147.27 L302.80,147.21 L303.30,147.15 L303.80,147.08 L304.30,147.01 L304.80,146.93 L305.30,146.85 L305.80,146.77 L306.30,146.69 L306.80,146.60 L307.30,146.52 L307.80,146.44 L308.30,146.35 L308.80,146.27 L309.30,146.19 L309.80,146.12 L310.30,146.05 L310.80,145.98 L311.30,145.92 L311.80,145.87 L312.30,145.82 L312.80,145.78 L313.30,145.74 L313.80,145.72 L314.30,145.70 L314.80,145.70 L315.30,145.70 L315.80,145.71 L316.30,145.74 L316.80,145.77 L317.30,145.81 L317.80,145.85 L318.30,145.91 L318.80,145.97 L319.30,146.04 L319.80,146.12 L320.30,146.20 L320.80,146.29 L321.30,146.39 L321.80,146.50 L322.30,146.60 L322.80,146.72 L323.30,146.84 L323.80,146.97 L324.30,147.10 L324.80,147.23 L325.30,147.37 L325.80,147.51 L326.30,147.66 L326.80,147.81 L327.30,147.97 L327.80,148.12 L328.30,148.28 L328.80,148.45 L329.30,148.61 L329.80,148.78 L330.30,148.95 L330.80,149.12 L331.30,149.29 L331.80,149.46 L332.30,149.63 L332.80,149.81 L333.30,149.98 L333.80,150.15 L334.30,150.33 L334.80,150.50 L335.30,150.67 L335.80,150.85 L336.30,151.02 L336.80,151.18 L337.30,151.35 L337.80,151.52 L338.30,151.68 L338.80,151.84 L339.30,152.00 L339.80,152.16 L340.30,152.32 L340.80,152.48 L341.30,152.63 L341.80,152.78 L342.30,152.94 L342.80,153.09 L343.30,153.24 L343.80,153.38 L344.30,153.53 L344.80,153.67 L345.30,153.82 L345.80,153.96 L346.30,154.10 L346.80,154.24 L347.30,154.38 L347.80,154.51 L348.30,154.65 L348.80,154.78 L349.30,154.91 L349.80,155.05 L350.30,155.18 L350.80,155.30 L351.30,155.43 L351.80,155.56 L352.30,155.68 L352.80,155.81 L353.30,155.93 L353.80,156.05 L354.30,156.17 L354.80,156.29 L355.30,156.41 L355.80,156.53 L356.30,156.64 L356.80,156.76 L357.30,156.87 L357.80,156.98 L358.30,157.09 L358.80,157.20 L359.30,157.31 L359.80,157.42 L360.30,157.53 L360.80,157.64 L361.30,157.74 L361.80,157.84 L362.30,157.95 L362.80,158.05 L363.30,158.15 L363.80,158.25 L364.30,158.35 L364.80,158.45 L365.30,158.55 L365.80,158.64 L366.30,158.74 L366.80,158.84 L367.30,158.93 L367.80,159.02 L368.30,159.12 L368.80,159.21 L369.30,159.30 L369.80,159.39 L370.30,159.48 L370.80,159.57 L371.30,159.66 L371.80,159.74 L372.30,159.83 L372.80,159.91 L373.30,160.00 L373.80,160.08 L374.30,160.17 L374.80,160.25 L375.30,160.33 L375.80,160.41 L376.30,160.50 L376.80,160.58 L377.30,160.66 L377.80,160.73 L378.30,160.81 L378.80,160.89 L379.30,160.97 L379.80,161.05 L380.30,161.12 L380.80,161.20 L381.30,161.27 L381.80,161.35 L382.30,161.42 L382.80,161.50 L383.30,161.57 L383.80,161.64 L384.30,161.72 L384.80,161.79 L385.30,161.86 L385.80,161.93 L386.30,162.00 L386.80,162.07 L387.30,162.14 L387.80,162.21 L388.30,162.28 L388.80,162.35 L389.30,162.42 L389.80,162.49 L390.30,162.56 L390.80,162.63 L391.30,162.69 L391.80,162.76 L392.30,162.83 L392.80,162.90 L393.30,162.96 L393.80,163.03 L394.30,163.10 L394.80,163.16 L395.30,163.23 L395.80,163.30 L396.30,163.36 L396.80,163.43 L397.30,163.49 L397.80,163.56 L398.30,163.62 L398.80,163.69 L399.30,163.76 L399.80,163.82 L400.30,163.89 L400.80,163.95 L401.30,164.02 L401.80,164.08 L402.30,164.15 L402.80,164.21 L403.30,164.28 L403.80,164.34 L404.30,164.41 L404.80,164.47 L405.30,164.54 L405.80,164.60 L406.30,164.67 L406.80,164.74 L407.30,164.80 L407.80,164.87 L408.30,164.93 L408.80,165.00 L409.30,165.07 L409.80,165.13 L410.30,165.20 L410.80,165.27 L411.30,165.33 L411.80,165.40 L412.30,165.47 L412.80,165.53 L413.30,165.60 L413.80,165.67 L414.30,165.73 L414.80,165.80 L415.30,165.87 L415.80,165.94 L416.30,166.00 L416.80,166.07 L417.30,166.14 L417.80,166.20 L418.30,166.27 L418.80,166.34 L419.30,166.41 L419.80,166.48 L420.30,166.54 L420.80,166.61 L421.30,166.68 L421.80,166.75 L422.30,166.81 L422.80,166.88 L423.30,166.95 L423.80,167.02 L424.30,167.09 L424.80,167.15 L425.30,167.22 L425.80,167.29 L426.30,167.36 L426.80,167.42 L427.30,167.49 L427.80,167.56 L428.30,167.64 L428.80,167.73 L429.30,167.82 L429.80,167.91 L430.30,168.00 L430.80,168.10 L431.30,168.19 L431.80,168.28 L432.30,168.36 L432.80,168.45 L433.30,168.54 L433.80,168.63 L434.30,168.71 L434.80,168.79 L435.30,168.87 L435.80,168.95 L436.30,169.03 L436.80,169.11 L437.30,169.19 L437.80,169.26 L438.30,169.34 L438.80,169.41 L439.30,169.49 L439.80,169.56 L440.30,169.63 L440.80,169.69 L441.30,169.75 L441.80,169.81 L442.30,169.87 L442.80,169.94 L443.30,170.00 L443.80,170.06 L444.30,170.12 L444.80,170.19 L445.30,170.25 L445.80,170.31 L446.30,170.38 L446.80,170.44 L447.30,170.50 L447.80,170.57 L448.30,170.63 L448.80,170.70 L449.30,170.76 L449.80,170.83 L450.30,170.90 L450.80,170.96 L451.30,171.03 L451.80,171.10 L452.30,171.17 L452.80,171.24 L453.30,171.31 L453.80,171.38 L454.30,171.45 L454.80,171.52 L455.30,171.60 L455.80,171.67 L456.30,171.74 L456.80,171.82 L457.30,171.89 L457.80,171.97 L458.30,172.04 L458.80,172.12 L459.30,172.19 L459.80,172.27 L460.30,172.34 L460.80,172.42 L461.30,172.49 L461.80,172.57 L462.30,172.64 L462.80,172.71 L463.30,172.79 L463.80,172.87 L464.30,172.95 L464.80,173.03 L465.30,173.11 L465.80,173.19 L466.30,173.27 L466.80,173.35 L467.30,173.42 L467.80,173.50 L468.30,173.57 L468.80,173.64 L469.30,173.71 L469.80,173.78 L470.30,173.84 L470.80,173.89 L471.30,173.95 L471.80,174.01 L472.30,174.06 L472.80,174.11 L473.30,174.17 L473.80,174.22 L474.30,174.27 L474.80,174.31 L475.30,174.36 L475.80,174.41 L476.30,174.45 L476.80,174.50 L477.30,174.55 L477.80,174.59 L478.30,174.64 L478.80,174.68 L479.30,174.73 L479.80,174.77 L480.30,174.82 L480.80,174.86 L481.30,174.90 L481.80,174.95 L482.30,174.99 L482.80,175.03 L483.30,175.07 L483.80,175.11 L484.30,175.15 L484.80,175.19 L485.30,175.24 L485.80,175.28 L486.30,175.31 L486.80,175.35 L487.30,175.39 L487.80,175.43 L488.30,175.47 L488.80,175.51 L489.30,175.55 L489.80,175.58 L490.30,175.62 L490.80,175.66 L491.30,175.70 L491.80,175.73 L492.30,175.77 L492.80,175.81 L493.30,175.84 L493.80,175.88 L494.30,175.91 L494.80,175.95 L495.30,175.98 L495.80,176.02 L496.30,176.05 L496.80,176.09 L497.30,176.12 L497.80,176.16 L498.30,176.19 L498.80,176.22 L499.30,176.25 L499.80,176.29 L500.30,176.32 L500.80,176.35 L501.30,176.38 L501.80,176.42 L502.30,176.45 L502.80,176.48 L503.30,176.52 L503.80,176.55 L504.30,176.58 L504.80,176.61 L505.30,176.64 L505.80,176.67 L506.30,176.70 L506.80,176.73 L507.30,176.76 L507.80,176.79 L508.30,176.82 L508.80,176.84 L509.30,176.87 L509.80,176.89 L510.30,176.91 L510.80,176.94 L511.30,176.96 L511.80,176.98 L512.30,177.00 L512.80,177.01 L513.30,177.03 L513.80,177.05 L514.30,177.07 L514.80,177.09 L515.30,177.10 L515.80,177.12 L516.30,177.14 L516.80,177.16 L517.30,177.17 L517.80,177.19 L518.30,177.21 L518.80,177.23 L519.30,177.25 L519.80,177.27 L520.30,177.29 L520.80,177.30 L521.30,177.32 L521.80,177.34 L522.30,177.36 L522.80,177.38 L523.30,177.40 L523.80,177.42 L524.30,177.44 L524.80,177.45 L525.30,177.47 L525.80,177.49 L526.30,177.50" fill="none" stroke="#3c3c3c" stroke-width="1.5"/>
<path d="M290.30,55.54 L290.80,56.56 L291.30,57.51 L291.80,58.42 L292.30,59.27 L292.80,60.07 L293.30,60.83 L293.80,61.53 L294.30,62.19 L294.80,62.81 L295.30,63.39 L295.80,63.92 L296.30,64.42 L296.80,64.88 L297.30,65.30 L297.80,65.70 L298.30,66.05 L298.80,66.38 L299.30,66.68 L299.80,66.96 L300.30,67.21 L300.80,67.43 L301.30,67.63 L301.80,67.81 L302.30,67.98 L302.80,68.13 L303.30,68.26 L303.80,68.38 L304.30,68.48 L304.80,68.58 L305.30,68.67 L305.80,68.75 L306.30,68.82 L306.80,68.90 L307.30,68.97 L307.80,69.04 L308.30,69.11 L308.80,69.18 L309.30,69.26 L309.80,69.35 L310.30,69.45 L310.80,69.55 L311.30,69.67 L311.80,69.80 L312.30,69.94 L312.80,70.10 L313.30,70.27 L313.80,70.45 L314.30,70.65 L314.80,70.86 L315.30,71.09 L315.80,71.34 L316.30,71.60 L316.80,71.87 L317.30,72.16 L317.80,72.47 L318.30,72.79 L318.80,73.13 L319.30,73.49 L319.80,73.87 L320.30,74.26 L320.80,74.67 L321.30,75.09 L321.80,75.54 L322.30,76.00 L322.80,76.48 L323.30,76.98 L323.80,77.50 L324.30,78.04 L324.80,78.60 L325.30,79.18 L325.80,79.78 L326.30,80.39 L326.80,81.03 L327.30,81.68 L327.80,82.34 L328.30,83.02 L328.80,83.70 L329.30,84.40 L329.80,85.11 L330.30,85.83 L330.80,86.55 L331.30,87.28 L331.80,88.02 L332.30,88.75 L332.80,89.49 L333.30,90.23 L333.80,90.97 L334.30,91.70 L334.80,92.44 L335.30,93.16 L335.80,93.89 L336.30,94.60 L336.80,95.31 L337.30,96.01 L337.80,96.70 L338.30,97.38 L338.80,98.06 L339.30,98.72 L339.80,99.39 L340.30,100.04 L340.80,100.69 L341.30,101.33 L341.80,101.96 L342.30,102.58 L342.80,103.20 L343.30,103.81 L343.80,104.42 L344.30,105.01 L344.80,105.60 L345.30,106.19 L345.80,106.76 L346.30,107.33 L346.80,107.90 L347.30,108.45 L347.80,109.01 L348.30,109.55 L348.80,110.09 L349.30,110.62 L349.80,111.15 L350.30,111.66 L350.80,112.18 L351.30,112.69 L351.80,113.19 L352.30,113.68 L352.80,114.17 L353.30,114.66 L353.80,115.13 L354.30,115.61 L354.80,116.07 L355.30,116.53 L355.80,116.99 L356.30,117.44 L356.80,117.88 L357.30,118.32 L357.80,118.76 L358.30,119.19 L358.80,119.61 L359.30,120.03 L359.80,120.45 L360.30,120.85 L360.80,121.26 L361.30,121.66 L361.80,122.05 L362.30,122.44 L362.80,122.83 L363.30,123.21 L363.80,123.58 L364.30,123.96 L364.80,124.32 L365.30,124.69 L365.80,125.05 L366.30,125.40 L366.80,125.75 L367.30,126.10 L367.80,126.44 L368.30,126.78 L368.80,127.11 L369.30,127.44 L369.80,127.77 L370.30,128.09 L370.80,128.41 L371.30,128.73 L371.80,129.04 L372.30,129.35 L372.80,129.65 L373.30,129.95 L373.80,130.25 L374.30,130.55 L374.80,130.84 L375.30,131.13 L375.80,131.41 L376.30,131.69 L376.80,131.97 L377.30,132.25 L377.80,132.52 L378.30,132.79 L378.80,133.06 L379.30,133.32 L379.80,133.58 L380.30,133.84 L380.80,134.09 L381.30,134.35 L381.80,134.60 L382.30,134.84 L382.80,135.09 L383.30,135.33 L383.80,135.57 L384.30,135.80 L384.80,136.04 L385.30,136.27 L385.80,136.50 L386.30,136.72 L386.80,136.95 L387.30,137.17 L387.80,137.39 L388.30,137.60 L388.80,137.82 L389.30,138.03 L389.80,138.24 L390.30,138.45 L390.80,138.65 L391.30,138.86 L391.80,139.06 L392.30,139.26 L392.80,139.46 L393.30,139.65 L393.80,139.85 L394.30,140.04 L394.80,140.23 L395.30,140.42 L395.80,140.60 L396.30,140.79 L396.80,140.97 L397.30,141.16 L397.80,141.34 L398.30,141.51 L398.80,141.69 L399.30,141.87 L399.80,142.04 L400.30,142.22 L400.80,142.39 L401.30,142.56 L401.80,142.73 L402.30,142.89 L402.80,143.06 L403.30,143.23 L403.80,143.39 L404.30,143.55 L404.80,143.72 L405.30,143.88 L405.80,144.04 L406.30,144.20 L406.80,144.36 L407.30,144.51 L407.80,144.67 L408.30,144.83 L408.80,144.98 L409.30,145.14 L409.80,145.29 L410.30,145.44 L410.80,145.59 L411.30,145.75 L411.80,145.90 L412.30,146.05 L412.80,146.20 L413.30,146.35 L413.80,146.50 L414.30,146.65 L414.80,146.80 L415.30,146.95 L415.80,147.10 L416.30,147.24 L416.80,147.39 L417.30,147.54 L417.80,147.69 L418.30,147.84 L418.80,147.98 L419.30,148.13 L419.80,148.28 L420.30,148.43 L420.80,148.58 L421.30,148.73 L421.80,148.87 L422.30,149.02 L422.80,149.17 L423.30,149.32 L423.80,149.47 L424.30,149.62 L424.80,149.77 L425.30,149.92 L425.80,150.08 L426.30,150.23 L426.80,150.38 L427.30,150.54 L427.80,150.69 L428.30,150.86 L428.80,151.05 L429.30,151.24 L429.80,151.43 L430.30,151.63 L430.80,151.82 L431.30,152.02 L431.80,152.21 L432.30,152.40 L432.80,152.60 L433.30,152.79 L433.80,152.98 L434.30,153.16 L434.80,153.35 L435.30,153.53 L435.80,153.71 L436.30,153.88 L436.80,154.05 L437.30,154.22 L437.80,154.38 L438.30,154.55 L438.80,154.70 L439.30,154.86 L439.80,155.01 L440.30,155.14 L440.80,155.27 L441.30,155.40 L441.80,155.53 L442.30,155.65 L442.80,155.76 L443.30,155.88 L443.80,155.99 L444.30,156.11 L444.80,156.23 L445.30,156.35 L445.80,156.47 L446.30,156.60 L446.80,156.74 L447.30,156.89 L447.80,157.04 L448.30,157.21 L448.80,157.37 L449.30,157.55 L449.80,157.73 L450.30,157.91 L450.80,158.11 L451.30,158.30 L451.80,158.50 L452.30,158.70 L452.80,158.91 L453.30,159.12 L453.80,159.34 L454.30,159.57 L454.80,159.82 L455.30,160.09 L455.80,160.39 L456.30,160.74 L456.80,161.14 L457.30,161.55 L457.80,161.95 L458.30,162.33 L458.80,162.67 L459.30,163.01 L459.80,163.34 L460.30,163.67 L460.80,163.98 L461.30,164.29 L461.80,164.59 L462.30,164.88 L462.80,165.15 L463.30,165.43 L463.80,165.70 L464.30,165.97 L464.80,166.23 L465.30,166.48 L465.80,166.72 L466.30,166.93 L466.80,167.13 L467.30,167.30 L467.80,167.46 L468.30,167.61 L468.80,167.74 L469.30,167.87 L469.80,167.99 L470.30,168.11 L470.80,168.23 L471.30,168.34 L471.80,168.46 L472.30,168.57 L472.80,168.69 L473.30,168.82 L473.80,168.95 L474.30,169.09 L474.80,169.24 L475.30,169.39 L475.80,169.54 L476.30,169.69 L476.80,169.84 L477.30,169.99 L477.80,170.14 L478.30,170.29 L478.80,170.44 L479.30,170.58 L479.80,170.72 L480.30,170.85 L480.80,170.98 L481.30,171.10 L481.80,171.21 L482.30,171.33 L482.80,171.44 L483.30,171.54 L483.80,171.65 L484.30,171.75 L484.80,171.85 L485.30,171.94 L485.80,172.04 L486.30,172.13 L486.80,172.23 L487.30,172.32 L487.80,172.41 L488.30,172.50 L488.80,172.59 L489.30,172.68 L489.80,172.76 L490.30,172.85 L490.80,172.94 L491.30,173.03 L491.80,173.11 L492.30,173.19 L492.80,173.28 L493.30,173.36 L493.80,173.44 L494.30,173.52 L494.80,173.60 L495.30,173.68 L495.80,173.76 L496.30,173.84 L496.80,173.92 L497.30,173.99 L497.80,174.07 L498.30,174.14 L498.80,174.22 L499.30,174.30 L499.80,174.37 L500.30,174.44 L500.80,174.52 L501.30,174.59 L501.80,174.67 L502.30,174.74 L502.80,174.81 L503.30,174.89 L503.80,174.96 L504.30,175.03 L504.80,175.10 L505.30,175.17 L505.80,175.24 L506.30,175.31 L506.80,175.38 L507.30,175.45 L507.80,175.52 L508.30,175.58 L508.80,175.65 L509.30,175.71 L509.80,175.78 L510.30,175.84 L510.80,175.90 L511.30,175.96 L511.80,176.02 L512.30,176.08 L512.80,176.14 L513.30,176.20 L513.80,176.25 L514.30,176.31 L514.80,176.37 L515.30,176.42 L515.80,176.47 L516.30,176.53 L516.80,176.58 L517.30,176.63 L517.80,176.68 L518.30,176.73 L518.80,176.78 L519.30,176.83 L519.80,176.87 L520.30,176.92 L520.80,176.97 L521.30,177.01 L521.80,177.06 L522.30,177.10 L522.80,177.14 L523.30,177.19 L523.80,177.23 L524.30,177.27 L524.80,177.31 L525.30,177.35 L525.80,177.38 L526.30,177.40" fill="none" stroke="#ff1a1a" stroke-width="1.5"/>
<path d="M290.30,20.52 L290.80,21.83 L291.30,23.06 L291.80,24.23 L292.30,25.33 L292.80,26.37 L293.30,27.34 L293.80,28.26 L294.30,29.12 L294.80,29.92 L295.30,30.67 L295.80,31.37 L296.30,32.02 L296.80,32.62 L297.30,33.18 L297.80,33.70 L298.30,34.17 L298.80,34.61 L299.30,35.02 L299.80,35.39 L300.30,35.73 L300.80,36.04 L301.30,36.32 L301.80,36.58 L302.30,36.82 L302.80,37.03 L303.30,37.23 L303.80,37.41 L304.30,37.58 L304.80,37.74 L305.30,37.88 L305.80,38.02 L306.30,38.16 L306.80,38.29 L307.30,38.42 L307.80,38.55 L308.30,38.69 L308.80,38.83 L309.30,38.98 L309.80,39.14 L310.30,39.32 L310.80,39.50 L311.30,39.71 L311.80,39.93 L312.30,40.17 L312.80,40.43 L313.30,40.71 L313.80,41.01 L314.30,41.32 L314.80,41.65 L315.30,42.00 L315.80,42.36 L316.30,42.74 L316.80,43.14 L317.30,43.55 L317.80,43.98 L318.30,44.42 L318.80,44.87 L319.30,45.35 L319.80,45.83 L320.30,46.33 L320.80,46.85 L321.30,47.37 L321.80,47.91 L322.30,48.46 L322.80,49.03 L323.30,49.61 L323.80,50.20 L324.30,50.80 L324.80,51.41 L325.30,52.03 L325.80,52.66 L326.30,53.31 L326.80,53.96 L327.30,54.63 L327.80,55.30 L328.30,55.98 L328.80,56.67 L329.30,57.37 L329.80,58.08 L330.30,58.80 L330.80,59.52 L331.30,60.25 L331.80,60.99 L332.30,61.74 L332.80,62.49 L333.30,63.25 L333.80,64.01 L334.30,64.78 L334.80,65.56 L335.30,66.34 L335.80,67.12 L336.30,67.91 L336.80,68.70 L337.30,69.50 L337.80,70.30 L338.30,71.10 L338.80,71.91 L339.30,72.71 L339.80,73.52 L340.30,74.33 L340.80,75.14 L341.30,75.95 L341.80,76.76 L342.30,77.57 L342.80,78.38 L343.30,79.19 L343.80,79.99 L344.30,80.80 L344.80,81.60 L345.30,82.40 L345.80,83.20 L346.30,83.99 L346.80,84.78 L347.30,85.56 L347.80,86.34 L348.30,87.12 L348.80,87.89 L349.30,88.65 L349.80,89.41 L350.30,90.16 L350.80,90.91 L351.30,91.65 L351.80,92.38 L352.30,93.10 L352.80,93.81 L353.30,94.51 L353.80,95.21 L354.30,95.90 L354.80,96.57 L355.30,97.24 L355.80,97.90 L356.30,98.55 L356.80,99.20 L357.30,99.83 L357.80,100.46 L358.30,101.07 L358.80,101.68 L359.30,102.28 L359.80,102.88 L360.30,103.46 L360.80,104.04 L361.30,104.61 L361.80,105.17 L362.30,105.73 L362.80,106.28 L363.30,106.82 L363.80,107.35 L364.30,107.88 L364.80,108.40 L365.30,108.91 L365.80,109.41 L366.30,109.91 L366.80,110.40 L367.30,110.89 L367.80,111.36 L368.30,111.84 L368.80,112.30 L369.30,112.76 L369.80,113.21 L370.30,113.66 L370.80,114.10 L371.30,114.54 L371.80,114.96 L372.30,115.39 L372.80,115.81 L373.30,116.22 L373.80,116.62 L374.30,117.02 L374.80,117.42 L375.30,117.81 L375.80,118.20 L376.30,118.58 L376.80,118.95 L377.30,119.32 L377.80,119.69 L378.30,120.05 L378.80,120.41 L379.30,120.76 L379.80,121.11 L380.30,121.45 L380.80,121.79 L381.30,122.13 L381.80,122.46 L382.30,122.78 L382.80,123.11 L383.30,123.43 L383.80,123.74 L384.30,124.05 L384.80,124.36 L385.30,124.67 L385.80,124.97 L386.30,125.27 L386.80,125.56 L387.30,125.86 L387.80,126.15 L388.30,126.43 L388.80,126.72 L389.30,127.00 L389.80,127.27 L390.30,127.55 L390.80,127.82 L391.30,128.09 L391.80,128.36 L392.30,128.62 L392.80,128.88 L393.30,129.14 L393.80,129.40 L394.30,129.65 L394.80,129.91 L395.30,130.15 L395.80,130.40 L396.30,130.65 L396.80,130.89 L397.30,131.13 L397.80,131.37 L398.30,131.60 L398.80,131.84 L399.30,132.07 L399.80,132.30 L400.30,132.52 L400.80,132.75 L401.30,132.97 L401.80,133.19 L402.30,133.41 L402.80,133.63 L403.30,133.85 L403.80,134.06 L404.30,134.27 L404.80,134.48 L405.30,134.69 L405.80,134.90 L406.30,135.11 L406.80,135.31 L407.30,135.51 L407.80,135.72 L408.30,135.92 L408.80,136.11 L409.30,136.31 L409.80,136.51 L410.30,136.70 L410.80,136.90 L411.30,137.09 L411.80,137.28 L412.30,137.47 L412.80,137.66 L413.30,137.85 L413.80,138.03 L414.30,138.22 L414.80,138.41 L415.30,138.59 L415.80,138.77 L416.30,138.96 L416.80,139.14 L417.30,139.32 L417.80,139.50 L418.30,139.68 L418.80,139.86 L419.30,140.04 L419.80,140.22 L420.30,140.40 L420.80,140.57 L421.30,140.75 L421.80,140.93 L422.30,141.10 L422.80,141.28 L423.30,141.46 L423.80,141.63 L424.30,141.81 L424.80,141.98 L425.30,142.16 L425.80,142.33 L426.30,142.51 L426.80,142.68 L427.30,142.86 L427.80,143.03 L428.30,143.21 L428.80,143.40 L429.30,143.59 L429.80,143.78 L430.30,143.97 L430.80,144.15 L431.30,144.33 L431.80,144.51 L432.30,144.68 L432.80,144.85 L433.30,145.01 L433.80,145.17 L434.30,145.33 L434.80,145.48 L435.30,145.63 L435.80,145.77 L436.30,145.90 L436.80,146.04 L437.30,146.17 L437.80,146.29 L438.30,146.42 L438.80,146.54 L439.30,146.66 L439.80,146.78 L440.30,146.91 L440.80,147.07 L441.30,147.23 L441.80,147.39 L442.30,147.55 L442.80,147.71 L443.30,147.88 L443.80,148.05 L444.30,148.23 L444.80,148.41 L445.30,148.60 L445.80,148.79 L446.30,149.00 L446.80,149.21 L447.30,149.44 L447.80,149.67 L448.30,149.93 L448.80,150.19 L449.30,150.47 L449.80,150.76 L450.30,151.06 L450.80,151.37 L451.30,151.68 L451.80,152.00 L452.30,152.33 L452.80,152.68 L453.30,153.04 L453.80,153.42 L454.30,153.80 L454.80,154.19 L455.30,154.59 L455.80,154.98 L456.30,155.38 L456.80,155.78 L457.30,156.20 L457.80,156.63 L458.30,157.06 L458.80,157.50 L459.30,157.94 L459.80,158.38 L460.30,158.81 L460.80,159.23 L461.30,159.64 L461.80,160.04 L462.30,160.41 L462.80,160.77 L463.30,161.12 L463.80,161.46 L464.30,161.80 L464.80,162.14 L465.30,162.46 L465.80,162.77 L466.30,163.06 L466.80,163.34 L467.30,163.59 L467.80,163.82 L468.30,164.02 L468.80,164.20 L469.30,164.37 L469.80,164.52 L470.30,164.67 L470.80,164.80 L471.30,164.94 L471.80,165.07 L472.30,165.21 L472.80,165.35 L473.30,165.50 L473.80,165.67 L474.30,165.84 L474.80,166.01 L475.30,166.20 L475.80,166.38 L476.30,166.57 L476.80,166.76 L477.30,166.95 L477.80,167.14 L478.30,167.33 L478.80,167.52 L479.30,167.71 L479.80,167.89 L480.30,168.06 L480.80,168.24 L481.30,168.40 L481.80,168.56 L482.30,168.72 L482.80,168.88 L483.30,169.04 L483.80,169.19 L484.30,169.35 L484.80,169.50 L485.30,169.65 L485.80,169.79 L486.30,169.94 L486.80,170.08 L487.30,170.22 L487.80,170.35 L488.30,170.48 L488.80,170.61 L489.30,170.73 L489.80,170.85 L490.30,170.97 L490.80,171.08 L491.30,171.19 L491.80,171.29 L492.30,171.39 L492.80,171.49 L493.30,171.59 L493.80,171.68 L494.30,171.78 L494.80,171.87 L495.30,171.96 L495.80,172.05 L496.30,172.14 L496.80,172.23 L497.30,172.32 L497.80,172.40 L498.30,172.49 L498.80,172.58 L499.30,172.67 L499.80,172.76 L500.30,172.86 L500.80,172.95 L501.30,173.04 L501.80,173.13 L502.30,173.22 L502.80,173.31 L503.30,173.40 L503.80,173.49 L504.30,173.58 L504.80,173.67 L505.30,173.76 L505.80,173.85 L506.30,173.94 L506.80,174.03 L507.30,174.12 L507.80,174.21 L508.30,174.30 L508.80,174.39 L509.30,174.48 L509.80,174.56 L510.30,174.65 L510.80,174.74 L511.30,174.83 L511.80,174.92 L512.30,175.01 L512.80,175.10 L513.30,175.19 L513.80,175.28 L514.30,175.37 L514.80,175.46 L515.30,175.54 L515.80,175.63 L516.30,175.72 L516.80,175.80 L517.30,175.89 L517.80,175.97 L518.30,176.05 L518.80,176.13 L519.30,176.21 L519.80,176.29 L520.30,176.36 L520.80,176.44 L521.30,176.52 L521.80,176.59 L522.30,176.67 L522.80,176.74 L523.30,176.82 L523.80,176.89 L524.30,176.96 L524.80,177.03 L525.30,177.10 L525.80,177.17 L526.30,177.20" fill="none" stroke="#1e62e0" stroke-width="1.5"/>
<path d="M290.30,92.02 L290.80,92.64 L291.30,93.22 L291.80,93.77 L292.30,94.28 L292.80,94.76 L293.30,95.21 L293.80,95.63 L294.30,96.01 L294.80,96.37 L295.30,96.71 L295.80,97.02 L296.30,97.30 L296.80,97.56 L297.30,97.80 L297.80,98.03 L298.30,98.23 L298.80,98.41 L299.30,98.58 L299.80,98.74 L300.30,98.88 L300.80,99.01 L301.30,99.13 L301.80,99.24 L302.30,99.34 L302.80,99.44 L303.30,99.53 L303.80,99.62 L304.30,99.70 L304.80,99.78 L305.30,99.87 L305.80,99.95 L306.30,100.04 L306.80,100.13 L307.30,100.23 L307.80,100.33 L308.30,100.44 L308.80,100.57 L309.30,100.70 L309.80,100.84 L310.30,101.00 L310.80,101.17 L311.30,101.36 L311.80,101.56 L312.30,101.78 L312.80,102.00 L313.30,102.24 L313.80,102.50 L314.30,102.76 L314.80,103.04 L315.30,103.33 L315.80,103.63 L316.30,103.94 L316.80,104.26 L317.30,104.59 L317.80,104.93 L318.30,105.28 L318.80,105.64 L319.30,106.00 L319.80,106.38 L320.30,106.76 L320.80,107.15 L321.30,107.54 L321.80,107.94 L322.30,108.35 L322.80,108.77 L323.30,109.19 L323.80,109.61 L324.30,110.04 L324.80,110.47 L325.30,110.91 L325.80,111.35 L326.30,111.80 L326.80,112.24 L327.30,112.69 L327.80,113.14 L328.30,113.59 L328.80,114.05 L329.30,114.50 L329.80,114.96 L330.30,115.41 L330.80,115.87 L331.30,116.32 L331.80,116.77 L332.30,117.23 L332.80,117.68 L333.30,118.12 L333.80,118.57 L334.30,119.01 L334.80,119.45 L335.30,119.88 L335.80,120.32 L336.30,120.75 L336.80,121.17 L337.30,121.59 L337.80,122.01 L338.30,122.43 L338.80,122.84 L339.30,123.25 L339.80,123.65 L340.30,124.05 L340.80,124.45 L341.30,124.85 L341.80,125.24 L342.30,125.63 L342.80,126.01 L343.30,126.40 L343.80,126.78 L344.30,127.15 L344.80,127.53 L345.30,127.90 L345.80,128.26 L346.30,128.63 L346.80,128.99 L347.30,129.35 L347.80,129.70 L348.30,130.05 L348.80,130.40 L349.30,130.75 L349.80,131.09 L350.30,131.43 L350.80,131.77 L351.30,132.10 L351.80,132.43 L352.30,132.76 L352.80,133.09 L353.30,133.41 L353.80,133.73 L354.30,134.05 L354.80,134.36 L355.30,134.67 L355.80,134.98 L356.30,135.29 L356.80,135.59 L357.30,135.89 L357.80,136.19 L358.30,136.48 L358.80,136.78 L359.30,137.07 L359.80,137.35 L360.30,137.64 L360.80,137.92 L361.30,138.20 L361.80,138.48 L362.30,138.75 L362.80,139.02 L363.30,139.29 L363.80,139.56 L364.30,139.82 L364.80,140.08 L365.30,140.34 L365.80,140.60 L366.30,140.86 L366.80,141.11 L367.30,141.36 L367.80,141.61 L368.30,141.85 L368.80,142.09 L369.30,142.33 L369.80,142.57 L370.30,142.81 L370.80,143.04 L371.30,143.27 L371.80,143.50 L372.30,143.73 L372.80,143.96 L373.30,144.18 L373.80,144.40 L374.30,144.62 L374.80,144.84 L375.30,145.05 L375.80,145.26 L376.30,145.47 L376.80,145.68 L377.30,145.89 L377.80,146.09 L378.30,146.29 L378.80,146.49 L379.30,146.69 L379.80,146.89 L380.30,147.08 L380.80,147.27 L381.30,147.46 L381.80,147.65 L382.30,147.84 L382.80,148.02 L383.30,148.21 L383.80,148.39 L384.30,148.57 L384.80,148.75 L385.30,148.92 L385.80,149.10 L386.30,149.27 L386.80,149.44 L387.30,149.61 L387.80,149.78 L388.30,149.94 L388.80,150.11 L389.30,150.27 L389.80,150.43 L390.30,150.59 L390.80,150.75 L391.30,150.90 L391.80,151.06 L392.30,151.21 L392.80,151.36 L393.30,151.51 L393.80,151.66 L394.30,151.81 L394.80,151.95 L395.30,152.10 L395.80,152.24 L396.30,152.38 L396.80,152.52 L397.30,152.66 L397.80,152.80 L398.30,152.93 L398.80,153.07 L399.30,153.20 L399.80,153.33 L400.30,153.46 L400.80,153.59 L401.30,153.72 L401.80,153.85 L402.30,153.98 L402.80,154.10 L403.30,154.22 L403.80,154.35 L404.30,154.47 L404.80,154.59 L405.30,154.71 L405.80,154.83 L406.30,154.94 L406.80,155.06 L407.30,155.17 L407.80,155.29 L408.30,155.40 L408.80,155.51 L409.30,155.62 L409.80,155.73 L410.30,155.84 L410.80,155.95 L411.30,156.06 L411.80,156.17 L412.30,156.27 L412.80,156.38 L413.30,156.48 L413.80,156.58 L414.30,156.69 L414.80,156.79 L415.30,156.89 L415.80,156.99 L416.30,157.09 L416.80,157.19 L417.30,157.29 L417.80,157.38 L418.30,157.48 L418.80,157.58 L419.30,157.67 L419.80,157.77 L420.30,157.86 L420.80,157.96 L421.30,158.05 L421.80,158.14 L422.30,158.23 L422.80,158.33 L423.30,158.42 L423.80,158.51 L424.30,158.60 L424.80,158.69 L425.30,158.78 L425.80,158.87 L426.30,158.96 L426.80,159.04 L427.30,159.13 L427.80,159.22 L428.30,159.32 L428.80,159.43 L429.30,159.55 L429.80,159.66 L430.30,159.77 L430.80,159.89 L431.30,160.00 L431.80,160.11 L432.30,160.22 L432.80,160.33 L433.30,160.44 L433.80,160.54 L434.30,160.65 L434.80,160.75 L435.30,160.84 L435.80,160.94 L436.30,161.03 L436.80,161.12 L437.30,161.21 L437.80,161.30 L438.30,161.39 L438.80,161.47 L439.30,161.55 L439.80,161.63 L440.30,161.71 L440.80,161.78 L441.30,161.86 L441.80,161.93 L442.30,162.01 L442.80,162.08 L443.30,162.15 L443.80,162.22 L444.30,162.29 L444.80,162.36 L445.30,162.43 L445.80,162.50 L446.30,162.57 L446.80,162.64 L447.30,162.72 L447.80,162.79 L448.30,162.87 L448.80,162.95 L449.30,163.04 L449.80,163.12 L450.30,163.21 L450.80,163.30 L451.30,163.40 L451.80,163.50 L452.30,163.61 L452.80,163.72 L453.30,163.84 L453.80,163.96 L454.30,164.09 L454.80,164.23 L455.30,164.37 L455.80,164.52 L456.30,164.68 L456.80,164.83 L457.30,165.00 L457.80,165.18 L458.30,165.37 L458.80,165.58 L459.30,165.79 L459.80,166.01 L460.30,166.23 L460.80,166.46 L461.30,166.68 L461.80,166.91 L462.30,167.13 L462.80,167.34 L463.30,167.56 L463.80,167.79 L464.30,168.02 L464.80,168.26 L465.30,168.49 L465.80,168.72 L466.30,168.94 L466.80,169.15 L467.30,169.35 L467.80,169.53 L468.30,169.70 L468.80,169.85 L469.30,170.00 L469.80,170.14 L470.30,170.28 L470.80,170.41 L471.30,170.54 L471.80,170.66 L472.30,170.78 L472.80,170.90 L473.30,171.03 L473.80,171.15 L474.30,171.27 L474.80,171.40 L475.30,171.52 L475.80,171.65 L476.30,171.77 L476.80,171.89 L477.30,172.01 L477.80,172.12 L478.30,172.24 L478.80,172.35 L479.30,172.46 L479.80,172.56 L480.30,172.67 L480.80,172.76 L481.30,172.86 L481.80,172.95 L482.30,173.04 L482.80,173.12 L483.30,173.21 L483.80,173.29 L484.30,173.37 L484.80,173.45 L485.30,173.53 L485.80,173.60 L486.30,173.68 L486.80,173.75 L487.30,173.82 L487.80,173.90 L488.30,173.97 L488.80,174.04 L489.30,174.10 L489.80,174.17 L490.30,174.24 L490.80,174.31 L491.30,174.37 L491.80,174.44 L492.30,174.50 L492.80,174.57 L493.30,174.63 L493.80,174.69 L494.30,174.75 L494.80,174.81 L495.30,174.87 L495.80,174.93 L496.30,174.99 L496.80,175.04 L497.30,175.10 L497.80,175.16 L498.30,175.21 L498.80,175.27 L499.30,175.32 L499.80,175.38 L500.30,175.43 L500.80,175.49 L501.30,175.54 L501.80,175.59 L502.30,175.65 L502.80,175.70 L503.30,175.75 L503.80,175.81 L504.30,175.86 L504.80,175.91 L505.30,175.96 L505.80,176.01 L506.30,176.06 L506.80,176.11 L507.30,176.16 L507.80,176.20 L508.30,176.25 L508.80,176.29 L509.30,176.34 L509.80,176.38 L510.30,176.43 L510.80,176.47 L511.30,176.51 L511.80,176.55 L512.30,176.59 L512.80,176.63 L513.30,176.66 L513.80,176.70 L514.30,176.74 L514.80,176.78 L515.30,176.81 L515.80,176.85 L516.30,176.88 L516.80,176.92 L517.30,176.95 L517.80,176.99 L518.30,177.02 L518.80,177.05 L519.30,177.09 L519.80,177.12 L520.30,177.15 L520.80,177.19 L521.30,177.22 L521.80,177.25 L522.30,177.28 L522.80,177.31 L523.30,177.34 L523.80,177.37 L524.30,177.40 L524.80,177.43 L525.30,177.46 L525.80,177.49 L526.30,177.50" fill="none" stroke="#31a05a" stroke-width="1.5"/>
<path d="M290.30,122.38 L290.80,122.42 L291.30,122.46 L291.80,122.48 L292.30,122.49 L292.80,122.50 L293.30,122.49 L293.80,122.48 L294.30,122.45 L294.80,122.42 L295.30,122.39 L295.80,122.35 L296.30,122.30 L296.80,122.25 L297.30,122.19 L297.80,122.14 L298.30,122.08 L298.80,122.02 L299.30,121.95 L299.80,121.89 L300.30,121.83 L300.80,121.76 L301.30,121.70 L301.80,121.65 L302.30,121.59 L302.80,121.54 L303.30,121.49 L303.80,121.45 L304.30,121.41 L304.80,121.38 L305.30,121.36 L305.80,121.34 L306.30,121.33 L306.80,121.33 L307.30,121.34 L307.80,121.36 L308.30,121.39 L308.80,121.43 L309.30,121.47 L309.80,121.53 L310.30,121.59 L310.80,121.66 L311.30,121.74 L311.80,121.82 L312.30,121.92 L312.80,122.02 L313.30,122.12 L313.80,122.24 L314.30,122.36 L314.80,122.49 L315.30,122.62 L315.80,122.76 L316.30,122.91 L316.80,123.06 L317.30,123.22 L317.80,123.38 L318.30,123.55 L318.80,123.73 L319.30,123.91 L319.80,124.09 L320.30,124.28 L320.80,124.47 L321.30,124.67 L321.80,124.87 L322.30,125.08 L322.80,125.29 L323.30,125.50 L323.80,125.72 L324.30,125.94 L324.80,126.16 L325.30,126.39 L325.80,126.62 L326.30,126.85 L326.80,127.08 L327.30,127.32 L327.80,127.56 L328.30,127.80 L328.80,128.04 L329.30,128.28 L329.80,128.53 L330.30,128.77 L330.80,129.02 L331.30,129.27 L331.80,129.52 L332.30,129.77 L332.80,130.02 L333.30,130.27 L333.80,130.52 L334.30,130.76 L334.80,131.01 L335.30,131.26 L335.80,131.51 L336.30,131.76 L336.80,132.00 L337.30,132.25 L337.80,132.49 L338.30,132.73 L338.80,132.97 L339.30,133.22 L339.80,133.45 L340.30,133.69 L340.80,133.93 L341.30,134.17 L341.80,134.40 L342.30,134.63 L342.80,134.87 L343.30,135.10 L343.80,135.33 L344.30,135.56 L344.80,135.79 L345.30,136.01 L345.80,136.24 L346.30,136.47 L346.80,136.69 L347.30,136.91 L347.80,137.13 L348.30,137.36 L348.80,137.58 L349.30,137.79 L349.80,138.01 L350.30,138.23 L350.80,138.45 L351.30,138.66 L351.80,138.87 L352.30,139.09 L352.80,139.30 L353.30,139.51 L353.80,139.72 L354.30,139.93 L354.80,140.14 L355.30,140.34 L355.80,140.55 L356.30,140.75 L356.80,140.96 L357.30,141.16 L357.80,141.36 L358.30,141.56 L358.80,141.76 L359.30,141.96 L359.80,142.16 L360.30,142.36 L360.80,142.55 L361.30,142.75 L361.80,142.94 L362.30,143.13 L362.80,143.32 L363.30,143.52 L363.80,143.71 L364.30,143.89 L364.80,144.08 L365.30,144.27 L365.80,144.46 L366.30,144.64 L366.80,144.83 L367.30,145.01 L367.80,145.19 L368.30,145.37 L368.80,145.55 L369.30,145.73 L369.80,145.91 L370.30,146.09 L370.80,146.27 L371.30,146.44 L371.80,146.62 L372.30,146.79 L372.80,146.97 L373.30,147.14 L373.80,147.31 L374.30,147.48 L374.80,147.65 L375.30,147.82 L375.80,147.99 L376.30,148.16 L376.80,148.32 L377.30,148.49 L377.80,148.65 L378.30,148.81 L378.80,148.98 L379.30,149.14 L379.80,149.30 L380.30,149.46 L380.80,149.62 L381.30,149.78 L381.80,149.94 L382.30,150.09 L382.80,150.25 L383.30,150.40 L383.80,150.56 L384.30,150.71 L384.80,150.86 L385.30,151.01 L385.80,151.17 L386.30,151.32 L386.80,151.46 L387.30,151.61 L387.80,151.76 L388.30,151.91 L388.80,152.05 L389.30,152.20 L389.80,152.34 L390.30,152.49 L390.80,152.63 L391.30,152.77 L391.80,152.91 L392.30,153.05 L392.80,153.19 L393.30,153.33 L393.80,153.47 L394.30,153.60 L394.80,153.74 L395.30,153.88 L395.80,154.01 L396.30,154.15 L396.80,154.28 L397.30,154.41 L397.80,154.54 L398.30,154.67 L398.80,154.80 L399.30,154.93 L399.80,155.06 L400.30,155.19 L400.80,155.32 L401.30,155.44 L401.80,155.57 L402.30,155.69 L402.80,155.82 L403.30,155.94 L403.80,156.06 L404.30,156.19 L404.80,156.31 L405.30,156.43 L405.80,156.55 L406.30,156.67 L406.80,156.79 L407.30,156.90 L407.80,157.02 L408.30,157.14 L408.80,157.25 L409.30,157.37 L409.80,157.48 L410.30,157.60 L410.80,157.71 L411.30,157.82 L411.80,157.93 L412.30,158.04 L412.80,158.15 L413.30,158.26 L413.80,158.37 L414.30,158.48 L414.80,158.59 L415.30,158.69 L415.80,158.80 L416.30,158.91 L416.80,159.01 L417.30,159.11 L417.80,159.22 L418.30,159.32 L418.80,159.42 L419.30,159.52 L419.80,159.63 L420.30,159.73 L420.80,159.83 L421.30,159.92 L421.80,160.02 L422.30,160.12 L422.80,160.22 L423.30,160.31 L423.80,160.41 L424.30,160.51 L424.80,160.60 L425.30,160.70 L425.80,160.79 L426.30,160.88 L426.80,160.97 L427.30,161.07 L427.80,161.16 L428.30,161.25 L428.80,161.35 L429.30,161.45 L429.80,161.55 L430.30,161.65 L430.80,161.75 L431.30,161.86 L431.80,161.96 L432.30,162.06 L432.80,162.17 L433.30,162.27 L433.80,162.37 L434.30,162.48 L434.80,162.58 L435.30,162.69 L435.80,162.79 L436.30,162.90 L436.80,163.00 L437.30,163.11 L437.80,163.21 L438.30,163.31 L438.80,163.41 L439.30,163.51 L439.80,163.61 L440.30,163.70 L440.80,163.78 L441.30,163.86 L441.80,163.94 L442.30,164.01 L442.80,164.08 L443.30,164.15 L443.80,164.22 L444.30,164.28 L444.80,164.35 L445.30,164.41 L445.80,164.48 L446.30,164.54 L446.80,164.61 L447.30,164.68 L447.80,164.75 L448.30,164.83 L448.80,164.90 L449.30,164.98 L449.80,165.07 L450.30,165.15 L450.80,165.24 L451.30,165.34 L451.80,165.44 L452.30,165.54 L452.80,165.65 L453.30,165.76 L453.80,165.87 L454.30,166.00 L454.80,166.12 L455.30,166.25 L455.80,166.40 L456.30,166.55 L456.80,166.72 L457.30,166.89 L457.80,167.07 L458.30,167.25 L458.80,167.44 L459.30,167.64 L459.80,167.83 L460.30,168.02 L460.80,168.21 L461.30,168.40 L461.80,168.59 L462.30,168.76 L462.80,168.93 L463.30,169.11 L463.80,169.28 L464.30,169.46 L464.80,169.63 L465.30,169.80 L465.80,169.97 L466.30,170.13 L466.80,170.28 L467.30,170.42 L467.80,170.55 L468.30,170.67 L468.80,170.77 L469.30,170.87 L469.80,170.96 L470.30,171.05 L470.80,171.13 L471.30,171.21 L471.80,171.29 L472.30,171.37 L472.80,171.46 L473.30,171.54 L473.80,171.64 L474.30,171.74 L474.80,171.84 L475.30,171.94 L475.80,172.04 L476.30,172.15 L476.80,172.26 L477.30,172.36 L477.80,172.47 L478.30,172.57 L478.80,172.68 L479.30,172.78 L479.80,172.88 L480.30,172.97 L480.80,173.06 L481.30,173.15 L481.80,173.24 L482.30,173.33 L482.80,173.41 L483.30,173.50 L483.80,173.58 L484.30,173.66 L484.80,173.74 L485.30,173.82 L485.80,173.90 L486.30,173.98 L486.80,174.05 L487.30,174.13 L487.80,174.20 L488.30,174.27 L488.80,174.34 L489.30,174.41 L489.80,174.47 L490.30,174.54 L490.80,174.60 L491.30,174.66 L491.80,174.72 L492.30,174.78 L492.80,174.84 L493.30,174.90 L493.80,174.96 L494.30,175.01 L494.80,175.07 L495.30,175.12 L495.80,175.17 L496.30,175.23 L496.80,175.28 L497.30,175.33 L497.80,175.38 L498.30,175.43 L498.80,175.48 L499.30,175.53 L499.80,175.58 L500.30,175.63 L500.80,175.68 L501.30,175.73 L501.80,175.78 L502.30,175.83 L502.80,175.87 L503.30,175.92 L503.80,175.97 L504.30,176.02 L504.80,176.06 L505.30,176.11 L505.80,176.15 L506.30,176.20 L506.80,176.24 L507.30,176.29 L507.80,176.33 L508.30,176.37 L508.80,176.41 L509.30,176.45 L509.80,176.49 L510.30,176.52 L510.80,176.56 L511.30,176.59 L511.80,176.62 L512.30,176.66 L512.80,176.69 L513.30,176.72 L513.80,176.75 L514.30,176.78 L514.80,176.81 L515.30,176.84 L515.80,176.87 L516.30,176.90 L516.80,176.93 L517.30,176.96 L517.80,176.99 L518.30,177.02 L518.80,177.05 L519.30,177.08 L519.80,177.11 L520.30,177.14 L520.80,177.18 L521.30,177.21 L521.80,177.24 L522.30,177.27 L522.80,177.30 L523.30,177.33 L523.80,177.36 L524.30,177.39 L524.80,177.43 L525.30,177.46 L525.80,177.49 L526.30,177.50" fill="none" stroke="#e044f0" stroke-width="1.5"/>
<path d="M291.00,177.30 L291.40,177.30 L291.80,177.30 L292.20,177.30 L292.60,177.30 L293.00,177.30 L293.40,177.30 L293.80,177.30 L294.20,177.30 L294.60,177.30 L295.00,177.30 L295.40,177.30 L295.80,177.30 L296.20,177.30 L296.60,177.30 L297.00,177.30 L297.40,177.30 L297.80,177.30 L298.20,177.30 L298.60,177.30 L299.00,177.30 L299.40,177.30 L299.80,177.30 L300.20,177.30 L300.60,177.30 L301.00,177.30 L301.40,177.30 L301.80,177.30 L302.20,177.30 L302.60,177.30 L303.00,177.30 L303.40,177.30 L303.80,177.30 L304.20,177.30 L304.60,177.30 L305.00,177.30 L305.40,177.30 L305.80,177.30 L306.20,177.30 L306.60,177.30 L307.00,177.30 L307.40,177.30 L307.80,177.30 L308.20,177.30 L308.60,177.30 L309.00,177.30 L309.40,177.30 L309.80,177.30 L310.20,177.30 L310.60,177.30 L311.00,177.30 L311.40,177.30 L311.80,177.30 L312.20,177.30 L312.60,177.30 L313.00,177.30 L313.40,177.30 L313.80,177.30 L314.20,177.30 L314.60,177.30 L315.00,177.30 L315.40,177.30 L315.80,177.30 L316.20,177.30 L316.60,177.30 L317.00,177.30 L317.40,177.30 L317.80,177.30 L318.20,177.30 L318.60,177.30 L319.00,177.30 L319.40,177.30 L319.80,177.30 L320.20,177.30 L320.60,177.30 L321.00,177.30 L321.40,177.30 L321.80,177.30 L322.20,177.30 L322.60,177.30 L323.00,177.30 L323.40,177.30 L323.80,177.30 L324.20,177.30 L324.60,177.30 L325.00,177.30 L325.40,177.30 L325.80,177.30 L326.20,177.30 L326.60,177.30 L327.00,177.30 L327.40,177.30 L327.80,177.30 L328.20,177.30 L328.60,177.30 L329.00,177.30 L329.40,177.30 L329.80,177.30 L330.20,177.30 L330.60,177.30 L331.00,177.30 L331.40,177.30 L331.80,177.30 L332.20,177.30 L332.60,177.30 L333.00,177.30 L333.40,177.30 L333.80,177.30 L334.20,177.30 L334.60,177.30 L335.00,177.30 L335.40,177.30 L335.80,177.30 L336.20,177.30 L336.60,177.30 L337.00,177.30 L337.40,177.30 L337.80,177.30 L338.20,177.30 L338.60,177.30 L339.00,177.30 L339.40,177.30 L339.80,177.30 L340.20,177.30 L340.60,177.30 L341.00,177.30 L341.40,177.30 L341.80,177.30 L342.20,177.30 L342.60,177.30 L343.00,177.30 L343.40,177.30 L343.80,177.30 L344.20,177.30 L344.60,177.30 L345.00,177.30 L345.40,177.30 L345.80,177.30 L346.20,177.30 L346.60,177.30 L347.00,177.30 L347.40,177.30 L347.80,177.30 L348.20,177.30 L348.60,177.30 L349.00,177.30 L349.40,177.30 L349.80,177.30 L350.20,177.30 L350.60,177.30 L351.00,177.30 L351.40,177.30 L351.80,177.30 L352.20,177.30 L352.60,177.30 L353.00,177.30 L353.40,177.30 L353.80,177.30 L354.20,177.30 L354.60,177.30 L355.00,177.30 L355.40,177.30 L355.80,177.30 L356.20,177.30 L356.60,177.30 L357.00,177.30 L357.40,177.30 L357.80,177.30 L358.20,177.30 L358.60,177.30 L359.00,177.30 L359.40,177.30 L359.80,177.30 L360.20,177.30 L360.60,177.30 L361.00,177.30 L361.40,177.30 L361.80,177.30 L362.20,177.30 L362.60,177.30 L363.00,177.30 L363.40,177.30 L363.80,177.30 L364.20,177.30 L364.60,177.30 L365.00,177.30 L365.40,177.30 L365.80,177.30 L366.20,177.30 L366.60,177.30 L367.00,177.30 L367.40,177.30 L367.80,177.30 L368.20,177.30 L368.60,177.30 L369.00,177.30 L369.40,177.30 L369.80,177.30 L370.20,177.30 L370.60,177.30 L371.00,177.30 L371.40,177.30 L371.80,177.30 L372.20,177.30 L372.60,177.30 L373.00,177.30 L373.40,177.30 L373.80,177.30 L374.20,177.30 L374.60,177.30 L375.00,177.30 L375.40,177.30 L375.80,177.30 L376.20,177.30 L376.60,177.30 L377.00,177.30 L377.40,177.30 L377.80,177.30 L378.20,177.30 L378.60,177.30 L379.00,177.30 L379.40,177.30 L379.80,177.30 L380.20,177.30 L380.60,177.30 L381.00,177.30 L381.40,177.30 L381.80,177.30 L382.20,177.30 L382.60,177.30 L383.00,177.30 L383.40,177.30 L383.80,177.30 L384.20,177.30 L384.60,177.30 L385.00,177.30 L385.40,177.30 L385.80,177.30 L386.20,177.30 L386.60,177.30 L387.00,177.30 L387.40,177.30 L387.80,177.30 L388.20,177.30 L388.60,177.30 L389.00,177.30 L389.40,177.30 L389.80,177.30 L390.20,177.30 L390.60,177.30 L391.00,177.30 L391.40,177.30 L391.80,177.30 L392.20,177.30 L392.60,177.30 L393.00,177.30 L393.40,177.30 L393.80,177.29 L394.20,177.29 L394.60,177.29 L395.00,177.29 L395.40,177.29 L395.80,177.29 L396.20,177.29 L396.60,177.29 L397.00,177.29 L397.40,177.29 L397.80,177.29 L398.20,177.29 L398.60,177.29 L399.00,177.29 L399.40,177.29 L399.80,177.29 L400.20,177.29 L400.60,177.29 L401.00,177.28 L401.40,177.28 L401.80,177.28 L402.20,177.28 L402.60,177.28 L403.00,177.28 L403.40,177.28 L403.80,177.28 L404.20,177.28 L404.60,177.27 L405.00,177.27 L405.40,177.27 L405.80,177.27 L406.20,177.27 L406.60,177.27 L407.00,177.26 L407.40,177.26 L407.80,177.26 L408.20,177.26 L408.60,177.25 L409.00,177.25 L409.40,177.25 L409.80,177.25 L410.20,177.24 L410.60,177.24 L411.00,177.24 L411.40,177.23 L411.80,177.23 L412.20,177.22 L412.60,177.22 L413.00,177.22 L413.40,177.21 L413.80,177.21 L414.20,177.20 L414.60,177.20 L415.00,177.19 L415.40,177.19 L415.80,177.18 L416.20,177.17 L416.60,177.17 L417.00,177.16 L417.40,177.15 L417.80,177.14 L418.20,177.14 L418.60,177.13 L419.00,177.12 L419.40,177.11 L419.80,177.10 L420.20,177.09 L420.60,177.08 L421.00,177.07 L421.40,177.05 L421.80,177.04 L422.20,177.03 L422.60,177.01 L423.00,177.00 L423.40,176.98 L423.80,176.97 L424.20,176.95 L424.60,176.93 L425.00,176.92 L425.40,176.90 L425.80,176.88 L426.20,176.85 L426.60,176.83 L427.00,176.81 L427.40,176.78 L427.80,176.75 L428.20,176.72 L428.60,176.69 L429.00,176.66 L429.40,176.63 L429.80,176.59 L430.20,176.55 L430.60,176.51 L431.00,176.46 L431.40,176.42 L431.80,176.36 L432.20,176.31 L432.60,176.25 L433.00,176.19 L433.40,176.12 L433.80,176.04 L434.20,175.96 L434.60,175.87 L435.00,175.78 L435.40,175.68 L435.80,175.57 L436.20,175.45 L436.60,175.32 L437.00,175.18 L437.40,175.02 L437.80,174.86 L438.20,174.68 L438.60,174.48 L439.00,174.27 L439.40,174.04 L439.80,173.79 L440.20,173.53 L440.60,173.24 L441.00,172.92 L441.40,172.59 L441.80,172.22 L442.20,171.83 L442.60,171.42 L443.00,170.97 L443.40,170.49 L443.80,169.98 L444.20,169.44 L444.60,168.86 L445.00,168.24 L445.40,167.59 L445.80,166.90 L446.20,166.18 L446.60,165.41 L447.00,164.61 L447.40,163.77 L447.80,162.89 L448.20,161.97 L448.60,161.02 L449.00,160.03 L449.40,159.01 L449.80,157.95 L450.20,156.86 L450.60,155.75 L451.00,154.61 L451.40,153.45 L451.80,152.27 L452.20,151.07 L452.60,149.87 L453.00,148.66 L453.40,147.46 L453.80,146.26 L454.20,145.07 L454.60,143.91 L455.00,142.78 L455.40,141.68 L455.80,140.63 L456.20,139.64 L456.60,138.71 L457.00,137.85 L457.40,137.08 L457.80,136.40 L458.20,135.82 L458.60,135.34 L459.00,134.98 L459.40,134.74 L459.80,134.62 L460.20,134.61 L460.60,134.72 L461.00,134.93 L461.40,135.24 L461.80,135.66 L462.20,136.16 L462.60,136.76 L463.00,137.43 L463.40,138.19 L463.80,139.01 L464.20,139.89 L464.60,140.83 L465.00,141.81 L465.40,142.83 L465.80,143.89 L466.20,144.97 L466.60,146.07 L467.00,147.18 L467.40,148.30 L467.80,149.42 L468.20,150.55 L468.60,151.66 L469.00,152.77 L469.40,153.86 L469.80,154.94 L470.20,155.99 L470.60,157.03 L471.00,158.04 L471.40,159.02 L471.80,159.98 L472.20,160.90 L472.60,161.80 L473.00,162.66 L473.40,163.49 L473.80,164.29 L474.20,165.06 L474.60,165.79 L475.00,166.49 L475.40,167.16 L475.80,167.79 L476.20,168.39 L476.60,168.96 L477.00,169.50 L477.40,170.01 L477.80,170.49 L478.20,170.95 L478.60,171.37 L479.00,171.77 L479.40,172.15 L479.80,172.50 L480.20,172.82 L480.60,173.13 L481.00,173.41 L481.40,173.68 L481.80,173.93 L482.20,174.16 L482.60,174.37 L483.00,174.57 L483.40,174.75 L483.80,174.92 L484.20,175.08 L484.60,175.23 L485.00,175.36 L485.40,175.49 L485.80,175.60 L486.20,175.71 L486.60,175.81 L487.00,175.90 L487.40,175.99 L487.80,176.07 L488.20,176.14 L488.60,176.21 L489.00,176.27 L489.40,176.33 L489.80,176.39 L490.20,176.44 L490.60,176.48 L491.00,176.53 L491.40,176.57 L491.80,176.61 L492.20,176.65 L492.60,176.68 L493.00,176.71 L493.40,176.74 L493.80,176.77 L494.20,176.80 L494.60,176.82 L495.00,176.85 L495.40,176.87 L495.80,176.89 L496.20,176.91 L496.60,176.93 L497.00,176.95 L497.40,176.97 L497.80,176.98 L498.20,177.00 L498.60,177.01 L499.00,177.03 L499.40,177.04 L499.80,177.05 L500.20,177.07 L500.60,177.08 L501.00,177.09 L501.40,177.10 L501.80,177.11 L502.20,177.12 L502.60,177.13 L503.00,177.14 L503.40,177.15 L503.80,177.15 L504.20,177.16 L504.60,177.17 L505.00,177.17 L505.40,177.18 L505.80,177.19 L506.20,177.19 L506.60,177.20 L507.00,177.20 L507.40,177.21 L507.80,177.21 L508.20,177.22 L508.60,177.22 L509.00,177.23 L509.40,177.23 L509.80,177.23 L510.20,177.24 L510.60,177.24 L511.00,177.24 L511.40,177.25 L511.80,177.25 L512.20,177.25 L512.60,177.25 L513.00,177.26 L513.40,177.26 L513.80,177.26 L514.20,177.26 L514.60,177.27 L515.00,177.27 L515.40,177.27 L515.80,177.27 L516.20,177.27 L516.60,177.27 L517.00,177.28 L517.40,177.28 L517.80,177.28 L518.20,177.28 L518.60,177.28 L519.00,177.28 L519.40,177.28 L519.80,177.28 L520.20,177.28 L520.60,177.29 L521.00,177.29 L521.40,177.29 L521.80,177.29 L522.20,177.29 L522.60,177.29 L523.00,177.29 L523.40,177.29 L523.80,177.29 L524.20,177.29 L524.60,177.29 L525.00,177.29 L525.40,177.29 L525.80,177.29 L526.20,177.29" fill="none" stroke="#3c3c3c" stroke-width="1.5"/>
<path d="M291.00,177.30 L291.40,177.30 L291.80,177.30 L292.20,177.30 L292.60,177.30 L293.00,177.30 L293.40,177.30 L293.80,177.30 L294.20,177.30 L294.60,177.30 L295.00,177.30 L295.40,177.30 L295.80,177.30 L296.20,177.30 L296.60,177.30 L297.00,177.30 L297.40,177.30 L297.80,177.30 L298.20,177.30 L298.60,177.30 L299.00,177.30 L299.40,177.30 L299.80,177.30 L300.20,177.30 L300.60,177.30 L301.00,177.30 L301.40,177.30 L301.80,177.30 L302.20,177.30 L302.60,177.30 L303.00,177.30 L303.40,177.30 L303.80,177.30 L304.20,177.30 L304.60,177.30 L305.00,177.30 L305.40,177.30 L305.80,177.30 L306.20,177.30 L306.60,177.30 L307.00,177.30 L307.40,177.30 L307.80,177.30 L308.20,177.30 L308.60,177.30 L309.00,177.30 L309.40,177.30 L309.80,177.30 L310.20,177.30 L310.60,177.30 L311.00,177.30 L311.40,177.30 L311.80,177.30 L312.20,177.30 L312.60,177.30 L313.00,177.30 L313.40,177.30 L313.80,177.30 L314.20,177.30 L314.60,177.30 L315.00,177.30 L315.40,177.30 L315.80,177.30 L316.20,177.30 L316.60,177.30 L317.00,177.30 L317.40,177.30 L317.80,177.30 L318.20,177.30 L318.60,177.30 L319.00,177.30 L319.40,177.30 L319.80,177.30 L320.20,177.30 L320.60,177.30 L321.00,177.30 L321.40,177.30 L321.80,177.30 L322.20,177.30 L322.60,177.30 L323.00,177.30 L323.40,177.30 L323.80,177.30 L324.20,177.30 L324.60,177.30 L325.00,177.30 L325.40,177.30 L325.80,177.30 L326.20,177.30 L326.60,177.30 L327.00,177.30 L327.40,177.30 L327.80,177.30 L328.20,177.30 L328.60,177.30 L329.00,177.30 L329.40,177.30 L329.80,177.30 L330.20,177.30 L330.60,177.30 L331.00,177.30 L331.40,177.30 L331.80,177.30 L332.20,177.30 L332.60,177.30 L333.00,177.30 L333.40,177.30 L333.80,177.30 L334.20,177.30 L334.60,177.30 L335.00,177.30 L335.40,177.30 L335.80,177.30 L336.20,177.30 L336.60,177.30 L337.00,177.30 L337.40,177.30 L337.80,177.30 L338.20,177.30 L338.60,177.30 L339.00,177.30 L339.40,177.30 L339.80,177.30 L340.20,177.30 L340.60,177.30 L341.00,177.30 L341.40,177.30 L341.80,177.30 L342.20,177.30 L342.60,177.30 L343.00,177.30 L343.40,177.30 L343.80,177.30 L344.20,177.30 L344.60,177.30 L345.00,177.30 L345.40,177.30 L345.80,177.30 L346.20,177.30 L346.60,177.30 L347.00,177.30 L347.40,177.30 L347.80,177.30 L348.20,177.30 L348.60,177.30 L349.00,177.30 L349.40,177.30 L349.80,177.30 L350.20,177.30 L350.60,177.30 L351.00,177.30 L351.40,177.30 L351.80,177.30 L352.20,177.30 L352.60,177.30 L353.00,177.30 L353.40,177.30 L353.80,177.30 L354.20,177.30 L354.60,177.30 L355.00,177.30 L355.40,177.30 L355.80,177.30 L356.20,177.30 L356.60,177.30 L357.00,177.30 L357.40,177.30 L357.80,177.30 L358.20,177.30 L358.60,177.30 L359.00,177.30 L359.40,177.30 L359.80,177.30 L360.20,177.30 L360.60,177.30 L361.00,177.30 L361.40,177.30 L361.80,177.30 L362.20,177.30 L362.60,177.30 L363.00,177.30 L363.40,177.30 L363.80,177.30 L364.20,177.30 L364.60,177.30 L365.00,177.30 L365.40,177.30 L365.80,177.30 L366.20,177.30 L366.60,177.30 L367.00,177.30 L367.40,177.30 L367.80,177.30 L368.20,177.30 L368.60,177.30 L369.00,177.30 L369.40,177.30 L369.80,177.30 L370.20,177.30 L370.60,177.30 L371.00,177.30 L371.40,177.30 L371.80,177.30 L372.20,177.30 L372.60,177.30 L373.00,177.30 L373.40,177.30 L373.80,177.30 L374.20,177.30 L374.60,177.30 L375.00,177.30 L375.40,177.30 L375.80,177.30 L376.20,177.30 L376.60,177.30 L377.00,177.30 L377.40,177.30 L377.80,177.30 L378.20,177.30 L378.60,177.30 L379.00,177.30 L379.40,177.30 L379.80,177.30 L380.20,177.30 L380.60,177.30 L381.00,177.30 L381.40,177.30 L381.80,177.30 L382.20,177.30 L382.60,177.30 L383.00,177.30 L383.40,177.30 L383.80,177.30 L384.20,177.30 L384.60,177.30 L385.00,177.30 L385.40,177.30 L385.80,177.30 L386.20,177.30 L386.60,177.30 L387.00,177.30 L387.40,177.30 L387.80,177.30 L388.20,177.30 L388.60,177.30 L389.00,177.30 L389.40,177.30 L389.80,177.29 L390.20,177.29 L390.60,177.29 L391.00,177.29 L391.40,177.29 L391.80,177.29 L392.20,177.29 L392.60,177.29 L393.00,177.29 L393.40,177.29 L393.80,177.29 L394.20,177.29 L394.60,177.29 L395.00,177.29 L395.40,177.29 L395.80,177.29 L396.20,177.29 L396.60,177.28 L397.00,177.28 L397.40,177.28 L397.80,177.28 L398.20,177.28 L398.60,177.28 L399.00,177.28 L399.40,177.28 L399.80,177.27 L400.20,177.27 L400.60,177.27 L401.00,177.27 L401.40,177.27 L401.80,177.27 L402.20,177.26 L402.60,177.26 L403.00,177.26 L403.40,177.26 L403.80,177.25 L404.20,177.25 L404.60,177.25 L405.00,177.25 L405.40,177.24 L405.80,177.24 L406.20,177.24 L406.60,177.23 L407.00,177.23 L407.40,177.22 L407.80,177.22 L408.20,177.22 L408.60,177.21 L409.00,177.21 L409.40,177.20 L409.80,177.20 L410.20,177.19 L410.60,177.18 L411.00,177.18 L411.40,177.17 L411.80,177.16 L412.20,177.16 L412.60,177.15 L413.00,177.14 L413.40,177.13 L413.80,177.12 L414.20,177.11 L414.60,177.10 L415.00,177.09 L415.40,177.08 L415.80,177.07 L416.20,177.06 L416.60,177.04 L417.00,177.03 L417.40,177.02 L417.80,177.00 L418.20,176.98 L418.60,176.97 L419.00,176.95 L419.40,176.93 L419.80,176.91 L420.20,176.89 L420.60,176.87 L421.00,176.85 L421.40,176.83 L421.80,176.80 L422.20,176.78 L422.60,176.75 L423.00,176.72 L423.40,176.70 L423.80,176.67 L424.20,176.63 L424.60,176.60 L425.00,176.56 L425.40,176.53 L425.80,176.49 L426.20,176.45 L426.60,176.40 L427.00,176.36 L427.40,176.31 L427.80,176.26 L428.20,176.21 L428.60,176.15 L429.00,176.09 L429.40,176.03 L429.80,175.96 L430.20,175.89 L430.60,175.82 L431.00,175.74 L431.40,175.66 L431.80,175.57 L432.20,175.47 L432.60,175.37 L433.00,175.26 L433.40,175.14 L433.80,175.01 L434.20,174.88 L434.60,174.73 L435.00,174.57 L435.40,174.39 L435.80,174.21 L436.20,174.00 L436.60,173.78 L437.00,173.54 L437.40,173.27 L437.80,172.98 L438.20,172.67 L438.60,172.33 L439.00,171.95 L439.40,171.55 L439.80,171.10 L440.20,170.62 L440.60,170.09 L441.00,169.51 L441.40,168.88 L441.80,168.20 L442.20,167.46 L442.60,166.66 L443.00,165.79 L443.40,164.86 L443.80,163.85 L444.20,162.76 L444.60,161.60 L445.00,160.35 L445.40,159.01 L445.80,157.58 L446.20,156.06 L446.60,154.45 L447.00,152.74 L447.40,150.94 L447.80,149.04 L448.20,147.04 L448.60,144.95 L449.00,142.77 L449.40,140.49 L449.80,138.13 L450.20,135.68 L450.60,133.16 L451.00,130.57 L451.40,127.91 L451.80,125.21 L452.20,122.46 L452.60,119.68 L453.00,116.88 L453.40,114.08 L453.80,111.30 L454.20,108.54 L454.60,105.84 L455.00,103.22 L455.40,100.68 L455.80,98.27 L456.20,96.00 L456.60,93.90 L457.00,91.99 L457.40,90.30 L457.80,88.85 L458.20,87.67 L458.60,86.76 L459.00,86.15 L459.40,85.84 L459.80,85.83 L460.20,86.07 L460.60,86.56 L461.00,87.28 L461.40,88.23 L461.80,89.39 L462.20,90.75 L462.60,92.30 L463.00,94.02 L463.40,95.89 L463.80,97.89 L464.20,100.02 L464.60,102.24 L465.00,104.54 L465.40,106.92 L465.80,109.34 L466.20,111.80 L466.60,114.28 L467.00,116.78 L467.40,119.27 L467.80,121.75 L468.20,124.21 L468.60,126.64 L469.00,129.04 L469.40,131.38 L469.80,133.68 L470.20,135.93 L470.60,138.11 L471.00,140.23 L471.40,142.27 L471.80,144.25 L472.20,146.16 L472.60,147.99 L473.00,149.75 L473.40,151.43 L473.80,153.03 L474.20,154.56 L474.60,156.01 L475.00,157.39 L475.40,158.69 L475.80,159.92 L476.20,161.09 L476.60,162.18 L477.00,163.21 L477.40,164.18 L477.80,165.08 L478.20,165.93 L478.60,166.72 L479.00,167.46 L479.40,168.14 L479.80,168.78 L480.20,169.38 L480.60,169.93 L481.00,170.44 L481.40,170.91 L481.80,171.35 L482.20,171.76 L482.60,172.13 L483.00,172.48 L483.40,172.80 L483.80,173.10 L484.20,173.37 L484.60,173.62 L485.00,173.86 L485.40,174.07 L485.80,174.27 L486.20,174.46 L486.60,174.63 L487.00,174.79 L487.40,174.93 L487.80,175.07 L488.20,175.20 L488.60,175.32 L489.00,175.43 L489.40,175.53 L489.80,175.62 L490.20,175.71 L490.60,175.80 L491.00,175.88 L491.40,175.95 L491.80,176.02 L492.20,176.09 L492.60,176.15 L493.00,176.21 L493.40,176.26 L493.80,176.31 L494.20,176.36 L494.60,176.41 L495.00,176.45 L495.40,176.49 L495.80,176.53 L496.20,176.57 L496.60,176.61 L497.00,176.64 L497.40,176.67 L497.80,176.70 L498.20,176.73 L498.60,176.76 L499.00,176.79 L499.40,176.81 L499.80,176.84 L500.20,176.86 L500.60,176.88 L501.00,176.90 L501.40,176.92 L501.80,176.94 L502.20,176.96 L502.60,176.97 L503.00,176.99 L503.40,177.01 L503.80,177.02 L504.20,177.04 L504.60,177.05 L505.00,177.06 L505.40,177.07 L505.80,177.09 L506.20,177.10 L506.60,177.11 L507.00,177.12 L507.40,177.13 L507.80,177.14 L508.20,177.14 L508.60,177.15 L509.00,177.16 L509.40,177.17 L509.80,177.17 L510.20,177.18 L510.60,177.19 L511.00,177.19 L511.40,177.20 L511.80,177.20 L512.20,177.21 L512.60,177.21 L513.00,177.22 L513.40,177.22 L513.80,177.23 L514.20,177.23 L514.60,177.24 L515.00,177.24 L515.40,177.24 L515.80,177.25 L516.20,177.25 L516.60,177.25 L517.00,177.25 L517.40,177.26 L517.80,177.26 L518.20,177.26 L518.60,177.26 L519.00,177.27 L519.40,177.27 L519.80,177.27 L520.20,177.27 L520.60,177.27 L521.00,177.27 L521.40,177.28 L521.80,177.28 L522.20,177.28 L522.60,177.28 L523.00,177.28 L523.40,177.28 L523.80,177.28 L524.20,177.28 L524.60,177.29 L525.00,177.29 L525.40,177.29 L525.80,177.29 L526.20,177.29" fill="none" stroke="#ff1a1a" stroke-width="1.5"/>
<path d="M291.00,177.30 L291.40,177.30 L291.80,177.30 L292.20,177.30 L292.60,177.30 L293.00,177.30 L293.40,177.30 L293.80,177.30 L294.20,177.30 L294.60,177.30 L295.00,177.30 L295.40,177.30 L295.80,177.30 L296.20,177.30 L296.60,177.30 L297.00,177.30 L297.40,177.30 L297.80,177.30 L298.20,177.30 L298.60,177.30 L299.00,177.30 L299.40,177.30 L299.80,177.30 L300.20,177.30 L300.60,177.30 L301.00,177.30 L301.40,177.30 L301.80,177.30 L302.20,177.30 L302.60,177.30 L303.00,177.30 L303.40,177.30 L303.80,177.30 L304.20,177.30 L304.60,177.30 L305.00,177.30 L305.40,177.30 L305.80,177.30 L306.20,177.30 L306.60,177.30 L307.00,177.30 L307.40,177.30 L307.80,177.30 L308.20,177.30 L308.60,177.30 L309.00,177.30 L309.40,177.30 L309.80,177.30 L310.20,177.30 L310.60,177.30 L311.00,177.30 L311.40,177.30 L311.80,177.30 L312.20,177.30 L312.60,177.30 L313.00,177.30 L313.40,177.30 L313.80,177.30 L314.20,177.30 L314.60,177.30 L315.00,177.30 L315.40,177.30 L315.80,177.30 L316.20,177.30 L316.60,177.30 L317.00,177.30 L317.40,177.30 L317.80,177.30 L318.20,177.30 L318.60,177.30 L319.00,177.30 L319.40,177.30 L319.80,177.30 L320.20,177.30 L320.60,177.30 L321.00,177.30 L321.40,177.30 L321.80,177.30 L322.20,177.30 L322.60,177.30 L323.00,177.30 L323.40,177.30 L323.80,177.30 L324.20,177.30 L324.60,177.30 L325.00,177.30 L325.40,177.30 L325.80,177.30 L326.20,177.30 L326.60,177.30 L327.00,177.30 L327.40,177.30 L327.80,177.30 L328.20,177.30 L328.60,177.30 L329.00,177.30 L329.40,177.30 L329.80,177.30 L330.20,177.30 L330.60,177.30 L331.00,177.30 L331.40,177.30 L331.80,177.30 L332.20,177.30 L332.60,177.30 L333.00,177.30 L333.40,177.30 L333.80,177.30 L334.20,177.30 L334.60,177.30 L335.00,177.30 L335.40,177.30 L335.80,177.30 L336.20,177.30 L336.60,177.30 L337.00,177.30 L337.40,177.30 L337.80,177.30 L338.20,177.30 L338.60,177.30 L339.00,177.30 L339.40,177.30 L339.80,177.30 L340.20,177.30 L340.60,177.30 L341.00,177.30 L341.40,177.30 L341.80,177.30 L342.20,177.30 L342.60,177.30 L343.00,177.30 L343.40,177.30 L343.80,177.30 L344.20,177.30 L344.60,177.30 L345.00,177.30 L345.40,177.30 L345.80,177.30 L346.20,177.30 L346.60,177.30 L347.00,177.30 L347.40,177.30 L347.80,177.30 L348.20,177.30 L348.60,177.30 L349.00,177.30 L349.40,177.30 L349.80,177.30 L350.20,177.30 L350.60,177.30 L351.00,177.30 L351.40,177.30 L351.80,177.30 L352.20,177.30 L352.60,177.30 L353.00,177.30 L353.40,177.30 L353.80,177.30 L354.20,177.30 L354.60,177.30 L355.00,177.30 L355.40,177.30 L355.80,177.30 L356.20,177.30 L356.60,177.30 L357.00,177.30 L357.40,177.30 L357.80,177.30 L358.20,177.30 L358.60,177.30 L359.00,177.30 L359.40,177.30 L359.80,177.30 L360.20,177.30 L360.60,177.30 L361.00,177.30 L361.40,177.30 L361.80,177.30 L362.20,177.30 L362.60,177.30 L363.00,177.30 L363.40,177.30 L363.80,177.30 L364.20,177.30 L364.60,177.30 L365.00,177.30 L365.40,177.30 L365.80,177.30 L366.20,177.30 L366.60,177.30 L367.00,177.30 L367.40,177.30 L367.80,177.30 L368.20,177.30 L368.60,177.30 L369.00,177.30 L369.40,177.30 L369.80,177.30 L370.20,177.30 L370.60,177.30 L371.00,177.30 L371.40,177.30 L371.80,177.30 L372.20,177.30 L372.60,177.30 L373.00,177.30 L373.40,177.30 L373.80,177.30 L374.20,177.30 L374.60,177.30 L375.00,177.30 L375.40,177.30 L375.80,177.30 L376.20,177.30 L376.60,177.30 L377.00,177.30 L377.40,177.30 L377.80,177.30 L378.20,177.30 L378.60,177.30 L379.00,177.30 L379.40,177.30 L379.80,177.30 L380.20,177.30 L380.60,177.30 L381.00,177.30 L381.40,177.30 L381.80,177.30 L382.20,177.30 L382.60,177.30 L383.00,177.30 L383.40,177.30 L383.80,177.30 L384.20,177.30 L384.60,177.30 L385.00,177.30 L385.40,177.30 L385.80,177.29 L386.20,177.29 L386.60,177.29 L387.00,177.29 L387.40,177.29 L387.80,177.29 L388.20,177.29 L388.60,177.29 L389.00,177.29 L389.40,177.29 L389.80,177.29 L390.20,177.29 L390.60,177.29 L391.00,177.29 L391.40,177.29 L391.80,177.29 L392.20,177.28 L392.60,177.28 L393.00,177.28 L393.40,177.28 L393.80,177.28 L394.20,177.28 L394.60,177.28 L395.00,177.28 L395.40,177.28 L395.80,177.27 L396.20,177.27 L396.60,177.27 L397.00,177.27 L397.40,177.27 L397.80,177.26 L398.20,177.26 L398.60,177.26 L399.00,177.26 L399.40,177.25 L399.80,177.25 L400.20,177.25 L400.60,177.24 L401.00,177.24 L401.40,177.24 L401.80,177.23 L402.20,177.23 L402.60,177.23 L403.00,177.22 L403.40,177.22 L403.80,177.21 L404.20,177.21 L404.60,177.20 L405.00,177.20 L405.40,177.19 L405.80,177.18 L406.20,177.18 L406.60,177.17 L407.00,177.16 L407.40,177.15 L407.80,177.14 L408.20,177.14 L408.60,177.13 L409.00,177.12 L409.40,177.11 L409.80,177.10 L410.20,177.08 L410.60,177.07 L411.00,177.06 L411.40,177.05 L411.80,177.03 L412.20,177.02 L412.60,177.00 L413.00,176.99 L413.40,176.97 L413.80,176.95 L414.20,176.93 L414.60,176.91 L415.00,176.89 L415.40,176.87 L415.80,176.85 L416.20,176.82 L416.60,176.80 L417.00,176.77 L417.40,176.74 L417.80,176.71 L418.20,176.68 L418.60,176.65 L419.00,176.62 L419.40,176.58 L419.80,176.54 L420.20,176.51 L420.60,176.47 L421.00,176.42 L421.40,176.38 L421.80,176.33 L422.20,176.28 L422.60,176.23 L423.00,176.17 L423.40,176.12 L423.80,176.06 L424.20,175.99 L424.60,175.93 L425.00,175.85 L425.40,175.78 L425.80,175.70 L426.20,175.62 L426.60,175.53 L427.00,175.44 L427.40,175.34 L427.80,175.24 L428.20,175.13 L428.60,175.02 L429.00,174.90 L429.40,174.77 L429.80,174.63 L430.20,174.48 L430.60,174.32 L431.00,174.15 L431.40,173.97 L431.80,173.77 L432.20,173.57 L432.60,173.34 L433.00,173.10 L433.40,172.84 L433.80,172.56 L434.20,172.25 L434.60,171.92 L435.00,171.57 L435.40,171.18 L435.80,170.76 L436.20,170.31 L436.60,169.82 L437.00,169.28 L437.40,168.70 L437.80,168.07 L438.20,167.39 L438.60,166.65 L439.00,165.85 L439.40,164.98 L439.80,164.04 L440.20,163.03 L440.60,161.93 L441.00,160.75 L441.40,159.48 L441.80,158.11 L442.20,156.64 L442.60,155.06 L443.00,153.37 L443.40,151.56 L443.80,149.64 L444.20,147.58 L444.60,145.40 L445.00,143.09 L445.40,140.63 L445.80,138.04 L446.20,135.31 L446.60,132.44 L447.00,129.43 L447.40,126.27 L447.80,122.97 L448.20,119.53 L448.60,115.96 L449.00,112.26 L449.40,108.43 L449.80,104.48 L450.20,100.42 L450.60,96.26 L451.00,92.00 L451.40,87.67 L451.80,83.28 L452.20,78.84 L452.60,74.36 L453.00,69.88 L453.40,65.41 L453.80,60.97 L454.20,56.59 L454.60,52.30 L455.00,48.12 L455.40,44.10 L455.80,40.25 L456.20,36.62 L456.60,33.23 L457.00,30.13 L457.40,27.35 L457.80,24.91 L458.20,22.85 L458.60,21.19 L459.00,19.95 L459.40,19.16 L459.80,18.81 L460.20,18.90 L460.60,19.33 L461.00,20.10 L461.40,21.20 L461.80,22.62 L462.20,24.34 L462.60,26.36 L463.00,28.65 L463.40,31.19 L463.80,33.96 L464.20,36.94 L464.60,40.10 L465.00,43.43 L465.40,46.90 L465.80,50.48 L466.20,54.17 L466.60,57.94 L467.00,61.76 L467.40,65.63 L467.80,69.52 L468.20,73.43 L468.60,77.33 L469.00,81.21 L469.40,85.07 L469.80,88.88 L470.20,92.65 L470.60,96.35 L471.00,99.99 L471.40,103.55 L471.80,107.03 L472.20,110.42 L472.60,113.72 L473.00,116.93 L473.40,120.04 L473.80,123.04 L474.20,125.94 L474.60,128.74 L475.00,131.42 L475.40,134.00 L475.80,136.48 L476.20,138.84 L476.60,141.11 L477.00,143.26 L477.40,145.31 L477.80,147.26 L478.20,149.12 L478.60,150.87 L479.00,152.53 L479.40,154.10 L479.80,155.58 L480.20,156.98 L480.60,158.30 L481.00,159.53 L481.40,160.69 L481.80,161.78 L482.20,162.80 L482.60,163.76 L483.00,164.65 L483.40,165.48 L483.80,166.26 L484.20,166.99 L484.60,167.66 L485.00,168.29 L485.40,168.88 L485.80,169.43 L486.20,169.94 L486.60,170.41 L487.00,170.85 L487.40,171.25 L487.80,171.63 L488.20,171.99 L488.60,172.31 L489.00,172.62 L489.40,172.90 L489.80,173.17 L490.20,173.41 L490.60,173.64 L491.00,173.85 L491.40,174.05 L491.80,174.24 L492.20,174.41 L492.60,174.57 L493.00,174.72 L493.40,174.86 L493.80,175.00 L494.20,175.12 L494.60,175.24 L495.00,175.35 L495.40,175.45 L495.80,175.55 L496.20,175.64 L496.60,175.72 L497.00,175.81 L497.40,175.88 L497.80,175.95 L498.20,176.02 L498.60,176.09 L499.00,176.15 L499.40,176.21 L499.80,176.26 L500.20,176.31 L500.60,176.36 L501.00,176.41 L501.40,176.46 L501.80,176.50 L502.20,176.54 L502.60,176.58 L503.00,176.61 L503.40,176.65 L503.80,176.68 L504.20,176.71 L504.60,176.74 L505.00,176.77 L505.40,176.80 L505.80,176.82 L506.20,176.85 L506.60,176.87 L507.00,176.89 L507.40,176.91 L507.80,176.93 L508.20,176.95 L508.60,176.97 L509.00,176.99 L509.40,177.01 L509.80,177.02 L510.20,177.04 L510.60,177.05 L511.00,177.06 L511.40,177.08 L511.80,177.09 L512.20,177.10 L512.60,177.11 L513.00,177.12 L513.40,177.13 L513.80,177.14 L514.20,177.15 L514.60,177.16 L515.00,177.16 L515.40,177.17 L515.80,177.18 L516.20,177.19 L516.60,177.19 L517.00,177.20 L517.40,177.20 L517.80,177.21 L518.20,177.21 L518.60,177.22 L519.00,177.22 L519.40,177.23 L519.80,177.23 L520.20,177.24 L520.60,177.24 L521.00,177.24 L521.40,177.25 L521.80,177.25 L522.20,177.25 L522.60,177.26 L523.00,177.26 L523.40,177.26 L523.80,177.26 L524.20,177.27 L524.60,177.27 L525.00,177.27 L525.40,177.27 L525.80,177.27 L526.20,177.27" fill="none" stroke="#1e62e0" stroke-width="1.5"/>
<path d="M291.00,177.30 L291.40,177.30 L291.80,177.30 L292.20,177.30 L292.60,177.30 L293.00,177.30 L293.40,177.30 L293.80,177.30 L294.20,177.30 L294.60,177.30 L295.00,177.30 L295.40,177.30 L295.80,177.30 L296.20,177.30 L296.60,177.30 L297.00,177.30 L297.40,177.30 L297.80,177.30 L298.20,177.30 L298.60,177.30 L299.00,177.30 L299.40,177.30 L299.80,177.30 L300.20,177.30 L300.60,177.30 L301.00,177.30 L301.40,177.30 L301.80,177.30 L302.20,177.30 L302.60,177.30 L303.00,177.30 L303.40,177.30 L303.80,177.30 L304.20,177.30 L304.60,177.30 L305.00,177.30 L305.40,177.30 L305.80,177.30 L306.20,177.30 L306.60,177.30 L307.00,177.30 L307.40,177.30 L307.80,177.30 L308.20,177.30 L308.60,177.30 L309.00,177.30 L309.40,177.30 L309.80,177.30 L310.20,177.30 L310.60,177.30 L311.00,177.30 L311.40,177.30 L311.80,177.30 L312.20,177.30 L312.60,177.30 L313.00,177.30 L313.40,177.30 L313.80,177.30 L314.20,177.30 L314.60,177.30 L315.00,177.30 L315.40,177.30 L315.80,177.30 L316.20,177.30 L316.60,177.30 L317.00,177.30 L317.40,177.30 L317.80,177.30 L318.20,177.30 L318.60,177.30 L319.00,177.30 L319.40,177.30 L319.80,177.30 L320.20,177.30 L320.60,177.30 L321.00,177.30 L321.40,177.30 L321.80,177.30 L322.20,177.30 L322.60,177.30 L323.00,177.30 L323.40,177.30 L323.80,177.30 L324.20,177.30 L324.60,177.30 L325.00,177.30 L325.40,177.30 L325.80,177.30 L326.20,177.30 L326.60,177.30 L327.00,177.30 L327.40,177.30 L327.80,177.30 L328.20,177.30 L328.60,177.30 L329.00,177.30 L329.40,177.30 L329.80,177.30 L330.20,177.30 L330.60,177.30 L331.00,177.30 L331.40,177.30 L331.80,177.30 L332.20,177.30 L332.60,177.30 L333.00,177.30 L333.40,177.30 L333.80,177.30 L334.20,177.30 L334.60,177.30 L335.00,177.30 L335.40,177.30 L335.80,177.30 L336.20,177.30 L336.60,177.30 L337.00,177.30 L337.40,177.30 L337.80,177.30 L338.20,177.30 L338.60,177.30 L339.00,177.30 L339.40,177.30 L339.80,177.30 L340.20,177.30 L340.60,177.30 L341.00,177.30 L341.40,177.30 L341.80,177.30 L342.20,177.30 L342.60,177.30 L343.00,177.30 L343.40,177.30 L343.80,177.30 L344.20,177.30 L344.60,177.30 L345.00,177.30 L345.40,177.30 L345.80,177.30 L346.20,177.30 L346.60,177.30 L347.00,177.30 L347.40,177.30 L347.80,177.30 L348.20,177.30 L348.60,177.30 L349.00,177.30 L349.40,177.30 L349.80,177.30 L350.20,177.30 L350.60,177.30 L351.00,177.30 L351.40,177.30 L351.80,177.30 L352.20,177.30 L352.60,177.30 L353.00,177.30 L353.40,177.30 L353.80,177.30 L354.20,177.30 L354.60,177.30 L355.00,177.30 L355.40,177.30 L355.80,177.30 L356.20,177.30 L356.60,177.30 L357.00,177.30 L357.40,177.30 L357.80,177.30 L358.20,177.30 L358.60,177.30 L359.00,177.30 L359.40,177.30 L359.80,177.30 L360.20,177.30 L360.60,177.30 L361.00,177.30 L361.40,177.30 L361.80,177.30 L362.20,177.30 L362.60,177.30 L363.00,177.30 L363.40,177.30 L363.80,177.30 L364.20,177.30 L364.60,177.30 L365.00,177.30 L365.40,177.30 L365.80,177.30 L366.20,177.30 L366.60,177.30 L367.00,177.30 L367.40,177.30 L367.80,177.30 L368.20,177.30 L368.60,177.30 L369.00,177.30 L369.40,177.30 L369.80,177.30 L370.20,177.30 L370.60,177.30 L371.00,177.30 L371.40,177.30 L371.80,177.30 L372.20,177.30 L372.60,177.30 L373.00,177.30 L373.40,177.30 L373.80,177.30 L374.20,177.30 L374.60,177.30 L375.00,177.30 L375.40,177.30 L375.80,177.30 L376.20,177.30 L376.60,177.30 L377.00,177.30 L377.40,177.30 L377.80,177.30 L378.20,177.30 L378.60,177.30 L379.00,177.30 L379.40,177.30 L379.80,177.30 L380.20,177.30 L380.60,177.30 L381.00,177.30 L381.40,177.30 L381.80,177.30 L382.20,177.30 L382.60,177.30 L383.00,177.30 L383.40,177.30 L383.80,177.30 L384.20,177.30 L384.60,177.30 L385.00,177.30 L385.40,177.30 L385.80,177.30 L386.20,177.30 L386.60,177.30 L387.00,177.30 L387.40,177.30 L387.80,177.30 L388.20,177.30 L388.60,177.30 L389.00,177.30 L389.40,177.30 L389.80,177.30 L390.20,177.30 L390.60,177.30 L391.00,177.30 L391.40,177.30 L391.80,177.29 L392.20,177.29 L392.60,177.29 L393.00,177.29 L393.40,177.29 L393.80,177.29 L394.20,177.29 L394.60,177.29 L395.00,177.29 L395.40,177.29 L395.80,177.29 L396.20,177.29 L396.60,177.29 L397.00,177.29 L397.40,177.29 L397.80,177.29 L398.20,177.29 L398.60,177.28 L399.00,177.28 L399.40,177.28 L399.80,177.28 L400.20,177.28 L400.60,177.28 L401.00,177.28 L401.40,177.28 L401.80,177.27 L402.20,177.27 L402.60,177.27 L403.00,177.27 L403.40,177.27 L403.80,177.27 L404.20,177.26 L404.60,177.26 L405.00,177.26 L405.40,177.26 L405.80,177.26 L406.20,177.25 L406.60,177.25 L407.00,177.25 L407.40,177.24 L407.80,177.24 L408.20,177.24 L408.60,177.23 L409.00,177.23 L409.40,177.23 L409.80,177.22 L410.20,177.22 L410.60,177.21 L411.00,177.21 L411.40,177.20 L411.80,177.20 L412.20,177.19 L412.60,177.19 L413.00,177.18 L413.40,177.17 L413.80,177.17 L414.20,177.16 L414.60,177.15 L415.00,177.14 L415.40,177.13 L415.80,177.12 L416.20,177.12 L416.60,177.11 L417.00,177.09 L417.40,177.08 L417.80,177.07 L418.20,177.06 L418.60,177.05 L419.00,177.03 L419.40,177.02 L419.80,177.01 L420.20,176.99 L420.60,176.98 L421.00,176.96 L421.40,176.94 L421.80,176.92 L422.20,176.90 L422.60,176.88 L423.00,176.86 L423.40,176.84 L423.80,176.82 L424.20,176.79 L424.60,176.77 L425.00,176.74 L425.40,176.71 L425.80,176.68 L426.20,176.65 L426.60,176.62 L427.00,176.58 L427.40,176.55 L427.80,176.51 L428.20,176.47 L428.60,176.43 L429.00,176.38 L429.40,176.33 L429.80,176.29 L430.20,176.23 L430.60,176.18 L431.00,176.12 L431.40,176.06 L431.80,175.99 L432.20,175.92 L432.60,175.85 L433.00,175.77 L433.40,175.68 L433.80,175.59 L434.20,175.49 L434.60,175.39 L435.00,175.27 L435.40,175.15 L435.80,175.02 L436.20,174.88 L436.60,174.72 L437.00,174.56 L437.40,174.37 L437.80,174.17 L438.20,173.96 L438.60,173.72 L439.00,173.47 L439.40,173.19 L439.80,172.88 L440.20,172.55 L440.60,172.18 L441.00,171.78 L441.40,171.35 L441.80,170.88 L442.20,170.36 L442.60,169.81 L443.00,169.20 L443.40,168.54 L443.80,167.83 L444.20,167.05 L444.60,166.22 L445.00,165.32 L445.40,164.36 L445.80,163.32 L446.20,162.21 L446.60,161.02 L447.00,159.76 L447.40,158.41 L447.80,156.98 L448.20,155.47 L448.60,153.88 L449.00,152.19 L449.40,150.43 L449.80,148.58 L450.20,146.65 L450.60,144.65 L451.00,142.57 L451.40,140.41 L451.80,138.20 L452.20,135.92 L452.60,133.59 L453.00,131.21 L453.40,128.81 L453.80,126.37 L454.20,123.93 L454.60,121.49 L455.00,119.06 L455.40,116.67 L455.80,114.32 L456.20,112.05 L456.60,109.86 L457.00,107.78 L457.40,105.83 L457.80,104.04 L458.20,102.42 L458.60,100.99 L459.00,99.78 L459.40,98.81 L459.80,98.08 L460.20,97.61 L460.60,97.41 L461.00,97.46 L461.40,97.70 L461.80,98.15 L462.20,98.78 L462.60,99.60 L463.00,100.59 L463.40,101.74 L463.80,103.04 L464.20,104.49 L464.60,106.05 L465.00,107.73 L465.40,109.51 L465.80,111.36 L466.20,113.29 L466.60,115.28 L467.00,117.31 L467.40,119.38 L467.80,121.46 L468.20,123.56 L468.60,125.67 L469.00,127.76 L469.40,129.85 L469.80,131.91 L470.20,133.95 L470.60,135.95 L471.00,137.92 L471.40,139.84 L471.80,141.72 L472.20,143.55 L472.60,145.32 L473.00,147.04 L473.40,148.70 L473.80,150.30 L474.20,151.84 L474.60,153.32 L475.00,154.74 L475.40,156.09 L475.80,157.39 L476.20,158.62 L476.60,159.79 L477.00,160.90 L477.40,161.96 L477.80,162.95 L478.20,163.89 L478.60,164.78 L479.00,165.61 L479.40,166.40 L479.80,167.13 L480.20,167.82 L480.60,168.47 L481.00,169.07 L481.40,169.63 L481.80,170.16 L482.20,170.64 L482.60,171.10 L483.00,171.52 L483.40,171.91 L483.80,172.28 L484.20,172.61 L484.60,172.93 L485.00,173.21 L485.40,173.48 L485.80,173.73 L486.20,173.96 L486.60,174.17 L487.00,174.37 L487.40,174.55 L487.80,174.72 L488.20,174.88 L488.60,175.03 L489.00,175.16 L489.40,175.29 L489.80,175.40 L490.20,175.51 L490.60,175.61 L491.00,175.71 L491.40,175.80 L491.80,175.88 L492.20,175.96 L492.60,176.03 L493.00,176.09 L493.40,176.16 L493.80,176.22 L494.20,176.27 L494.60,176.33 L495.00,176.38 L495.40,176.42 L495.80,176.47 L496.20,176.51 L496.60,176.55 L497.00,176.59 L497.40,176.62 L497.80,176.65 L498.20,176.69 L498.60,176.72 L499.00,176.75 L499.40,176.77 L499.80,176.80 L500.20,176.82 L500.60,176.85 L501.00,176.87 L501.40,176.89 L501.80,176.91 L502.20,176.93 L502.60,176.95 L503.00,176.97 L503.40,176.98 L503.80,177.00 L504.20,177.01 L504.60,177.03 L505.00,177.04 L505.40,177.06 L505.80,177.07 L506.20,177.08 L506.60,177.09 L507.00,177.10 L507.40,177.11 L507.80,177.12 L508.20,177.13 L508.60,177.14 L509.00,177.15 L509.40,177.16 L509.80,177.16 L510.20,177.17 L510.60,177.18 L511.00,177.18 L511.40,177.19 L511.80,177.20 L512.20,177.20 L512.60,177.21 L513.00,177.21 L513.40,177.22 L513.80,177.22 L514.20,177.23 L514.60,177.23 L515.00,177.23 L515.40,177.24 L515.80,177.24 L516.20,177.24 L516.60,177.25 L517.00,177.25 L517.40,177.25 L517.80,177.26 L518.20,177.26 L518.60,177.26 L519.00,177.26 L519.40,177.26 L519.80,177.27 L520.20,177.27 L520.60,177.27 L521.00,177.27 L521.40,177.27 L521.80,177.28 L522.20,177.28 L522.60,177.28 L523.00,177.28 L523.40,177.28 L523.80,177.28 L524.20,177.28 L524.60,177.28 L525.00,177.28 L525.40,177.29 L525.80,177.29 L526.20,177.29" fill="none" stroke="#31a05a" stroke-width="1.5"/>
<path d="M291.00,177.30 L291.40,177.30 L291.80,177.30 L292.20,177.30 L292.60,177.30 L293.00,177.30 L293.40,177.30 L293.80,177.30 L294.20,177.30 L294.60,177.30 L295.00,177.30 L295.40,177.30 L295.80,177.30 L296.20,177.30 L296.60,177.30 L297.00,177.30 L297.40,177.30 L297.80,177.30 L298.20,177.30 L298.60,177.30 L299.00,177.30 L299.40,177.30 L299.80,177.30 L300.20,177.30 L300.60,177.30 L301.00,177.30 L301.40,177.30 L301.80,177.30 L302.20,177.30 L302.60,177.30 L303.00,177.30 L303.40,177.30 L303.80,177.30 L304.20,177.30 L304.60,177.30 L305.00,177.30 L305.40,177.30 L305.80,177.30 L306.20,177.30 L306.60,177.30 L307.00,177.30 L307.40,177.30 L307.80,177.30 L308.20,177.30 L308.60,177.30 L309.00,177.30 L309.40,177.30 L309.80,177.30 L310.20,177.30 L310.60,177.30 L311.00,177.30 L311.40,177.30 L311.80,177.30 L312.20,177.30 L312.60,177.30 L313.00,177.30 L313.40,177.30 L313.80,177.30 L314.20,177.30 L314.60,177.30 L315.00,177.30 L315.40,177.30 L315.80,177.30 L316.20,177.30 L316.60,177.30 L317.00,177.30 L317.40,177.30 L317.80,177.30 L318.20,177.30 L318.60,177.30 L319.00,177.30 L319.40,177.30 L319.80,177.30 L320.20,177.30 L320.60,177.30 L321.00,177.30 L321.40,177.30 L321.80,177.30 L322.20,177.30 L322.60,177.30 L323.00,177.30 L323.40,177.30 L323.80,177.30 L324.20,177.30 L324.60,177.30 L325.00,177.30 L325.40,177.30 L325.80,177.30 L326.20,177.30 L326.60,177.30 L327.00,177.30 L327.40,177.30 L327.80,177.30 L328.20,177.30 L328.60,177.30 L329.00,177.30 L329.40,177.30 L329.80,177.30 L330.20,177.30 L330.60,177.30 L331.00,177.30 L331.40,177.30 L331.80,177.30 L332.20,177.30 L332.60,177.30 L333.00,177.30 L333.40,177.30 L333.80,177.30 L334.20,177.30 L334.60,177.30 L335.00,177.30 L335.40,177.30 L335.80,177.30 L336.20,177.30 L336.60,177.30 L337.00,177.30 L337.40,177.30 L337.80,177.30 L338.20,177.30 L338.60,177.30 L339.00,177.30 L339.40,177.30 L339.80,177.30 L340.20,177.30 L340.60,177.30 L341.00,177.30 L341.40,177.30 L341.80,177.30 L342.20,177.30 L342.60,177.30 L343.00,177.30 L343.40,177.30 L343.80,177.30 L344.20,177.30 L344.60,177.30 L345.00,177.30 L345.40,177.30 L345.80,177.30 L346.20,177.30 L346.60,177.30 L347.00,177.30 L347.40,177.30 L347.80,177.30 L348.20,177.30 L348.60,177.30 L349.00,177.30 L349.40,177.30 L349.80,177.30 L350.20,177.30 L350.60,177.30 L351.00,177.30 L351.40,177.30 L351.80,177.30 L352.20,177.30 L352.60,177.30 L353.00,177.30 L353.40,177.30 L353.80,177.30 L354.20,177.30 L354.60,177.30 L355.00,177.30 L355.40,177.30 L355.80,177.30 L356.20,177.30 L356.60,177.30 L357.00,177.30 L357.40,177.30 L357.80,177.30 L358.20,177.30 L358.60,177.30 L359.00,177.30 L359.40,177.30 L359.80,177.30 L360.20,177.30 L360.60,177.30 L361.00,177.30 L361.40,177.30 L361.80,177.30 L362.20,177.30 L362.60,177.30 L363.00,177.30 L363.40,177.30 L363.80,177.30 L364.20,177.30 L364.60,177.30 L365.00,177.30 L365.40,177.30 L365.80,177.30 L366.20,177.30 L366.60,177.30 L367.00,177.30 L367.40,177.30 L367.80,177.30 L368.20,177.30 L368.60,177.30 L369.00,177.30 L369.40,177.30 L369.80,177.30 L370.20,177.30 L370.60,177.30 L371.00,177.30 L371.40,177.30 L371.80,177.30 L372.20,177.30 L372.60,177.30 L373.00,177.30 L373.40,177.30 L373.80,177.30 L374.20,177.30 L374.60,177.30 L375.00,177.30 L375.40,177.30 L375.80,177.30 L376.20,177.30 L376.60,177.30 L377.00,177.30 L377.40,177.30 L377.80,177.30 L378.20,177.30 L378.60,177.30 L379.00,177.30 L379.40,177.30 L379.80,177.30 L380.20,177.30 L380.60,177.30 L381.00,177.30 L381.40,177.30 L381.80,177.30 L382.20,177.30 L382.60,177.30 L383.00,177.30 L383.40,177.30 L383.80,177.30 L384.20,177.30 L384.60,177.30 L385.00,177.30 L385.40,177.30 L385.80,177.30 L386.20,177.30 L386.60,177.30 L387.00,177.30 L387.40,177.30 L387.80,177.30 L388.20,177.30 L388.60,177.30 L389.00,177.30 L389.40,177.30 L389.80,177.30 L390.20,177.30 L390.60,177.30 L391.00,177.30 L391.40,177.30 L391.80,177.30 L392.20,177.30 L392.60,177.30 L393.00,177.30 L393.40,177.29 L393.80,177.29 L394.20,177.29 L394.60,177.29 L395.00,177.29 L395.40,177.29 L395.80,177.29 L396.20,177.29 L396.60,177.29 L397.00,177.29 L397.40,177.29 L397.80,177.29 L398.20,177.29 L398.60,177.29 L399.00,177.29 L399.40,177.29 L399.80,177.29 L400.20,177.29 L400.60,177.28 L401.00,177.28 L401.40,177.28 L401.80,177.28 L402.20,177.28 L402.60,177.28 L403.00,177.28 L403.40,177.28 L403.80,177.27 L404.20,177.27 L404.60,177.27 L405.00,177.27 L405.40,177.27 L405.80,177.27 L406.20,177.26 L406.60,177.26 L407.00,177.26 L407.40,177.26 L407.80,177.26 L408.20,177.25 L408.60,177.25 L409.00,177.25 L409.40,177.24 L409.80,177.24 L410.20,177.24 L410.60,177.23 L411.00,177.23 L411.40,177.23 L411.80,177.22 L412.20,177.22 L412.60,177.21 L413.00,177.21 L413.40,177.20 L413.80,177.20 L414.20,177.19 L414.60,177.19 L415.00,177.18 L415.40,177.18 L415.80,177.17 L416.20,177.16 L416.60,177.15 L417.00,177.15 L417.40,177.14 L417.80,177.13 L418.20,177.12 L418.60,177.11 L419.00,177.10 L419.40,177.09 L419.80,177.08 L420.20,177.07 L420.60,177.06 L421.00,177.04 L421.40,177.03 L421.80,177.02 L422.20,177.00 L422.60,176.99 L423.00,176.97 L423.40,176.96 L423.80,176.94 L424.20,176.92 L424.60,176.90 L425.00,176.88 L425.40,176.86 L425.80,176.84 L426.20,176.81 L426.60,176.79 L427.00,176.76 L427.40,176.74 L427.80,176.71 L428.20,176.68 L428.60,176.65 L429.00,176.61 L429.40,176.58 L429.80,176.54 L430.20,176.50 L430.60,176.46 L431.00,176.42 L431.40,176.37 L431.80,176.33 L432.20,176.27 L432.60,176.22 L433.00,176.16 L433.40,176.10 L433.80,176.03 L434.20,175.96 L434.60,175.89 L435.00,175.81 L435.40,175.72 L435.80,175.62 L436.20,175.52 L436.60,175.41 L437.00,175.29 L437.40,175.16 L437.80,175.02 L438.20,174.87 L438.60,174.70 L439.00,174.51 L439.40,174.31 L439.80,174.09 L440.20,173.85 L440.60,173.59 L441.00,173.31 L441.40,172.99 L441.80,172.65 L442.20,172.28 L442.60,171.87 L443.00,171.42 L443.40,170.94 L443.80,170.41 L444.20,169.84 L444.60,169.22 L445.00,168.55 L445.40,167.83 L445.80,167.05 L446.20,166.21 L446.60,165.31 L447.00,164.35 L447.40,163.32 L447.80,162.22 L448.20,161.06 L448.60,159.82 L449.00,158.52 L449.40,157.15 L449.80,155.70 L450.20,154.19 L450.60,152.62 L451.00,150.97 L451.40,149.27 L451.80,147.51 L452.20,145.70 L452.60,143.84 L453.00,141.94 L453.40,140.01 L453.80,138.06 L454.20,136.09 L454.60,134.11 L455.00,132.15 L455.40,130.21 L455.80,128.30 L456.20,126.44 L456.60,124.65 L457.00,122.95 L457.40,121.35 L457.80,119.88 L458.20,118.55 L458.60,117.37 L459.00,116.37 L459.40,115.57 L459.80,114.96 L460.20,114.57 L460.60,114.41 L461.00,114.44 L461.40,114.64 L461.80,114.99 L462.20,115.49 L462.60,116.13 L463.00,116.91 L463.40,117.82 L463.80,118.84 L464.20,119.98 L464.60,121.21 L465.00,122.53 L465.40,123.93 L465.80,125.39 L466.20,126.91 L466.60,128.48 L467.00,130.07 L467.40,131.70 L467.80,133.34 L468.20,135.00 L468.60,136.65 L469.00,138.30 L469.40,139.94 L469.80,141.57 L470.20,143.17 L470.60,144.75 L471.00,146.30 L471.40,147.81 L471.80,149.29 L472.20,150.73 L472.60,152.13 L473.00,153.48 L473.40,154.78 L473.80,156.05 L474.20,157.26 L474.60,158.42 L475.00,159.54 L475.40,160.61 L475.80,161.62 L476.20,162.59 L476.60,163.52 L477.00,164.39 L477.40,165.22 L477.80,166.01 L478.20,166.75 L478.60,167.44 L479.00,168.10 L479.40,168.72 L479.80,169.30 L480.20,169.84 L480.60,170.35 L481.00,170.82 L481.40,171.26 L481.80,171.68 L482.20,172.06 L482.60,172.42 L483.00,172.75 L483.40,173.06 L483.80,173.34 L484.20,173.61 L484.60,173.86 L485.00,174.08 L485.40,174.30 L485.80,174.49 L486.20,174.67 L486.60,174.84 L487.00,175.00 L487.40,175.14 L487.80,175.27 L488.20,175.40 L488.60,175.51 L489.00,175.62 L489.40,175.72 L489.80,175.81 L490.20,175.89 L490.60,175.97 L491.00,176.05 L491.40,176.12 L491.80,176.18 L492.20,176.24 L492.60,176.30 L493.00,176.35 L493.40,176.40 L493.80,176.45 L494.20,176.49 L494.60,176.53 L495.00,176.57 L495.40,176.61 L495.80,176.64 L496.20,176.68 L496.60,176.71 L497.00,176.74 L497.40,176.77 L497.80,176.79 L498.20,176.82 L498.60,176.84 L499.00,176.86 L499.40,176.89 L499.80,176.91 L500.20,176.92 L500.60,176.94 L501.00,176.96 L501.40,176.98 L501.80,176.99 L502.20,177.01 L502.60,177.02 L503.00,177.04 L503.40,177.05 L503.80,177.06 L504.20,177.07 L504.60,177.09 L505.00,177.10 L505.40,177.11 L505.80,177.12 L506.20,177.13 L506.60,177.14 L507.00,177.14 L507.40,177.15 L507.80,177.16 L508.20,177.17 L508.60,177.17 L509.00,177.18 L509.40,177.19 L509.80,177.19 L510.20,177.20 L510.60,177.20 L511.00,177.21 L511.40,177.21 L511.80,177.22 L512.20,177.22 L512.60,177.23 L513.00,177.23 L513.40,177.23 L513.80,177.24 L514.20,177.24 L514.60,177.24 L515.00,177.25 L515.40,177.25 L515.80,177.25 L516.20,177.26 L516.60,177.26 L517.00,177.26 L517.40,177.26 L517.80,177.26 L518.20,177.27 L518.60,177.27 L519.00,177.27 L519.40,177.27 L519.80,177.27 L520.20,177.28 L520.60,177.28 L521.00,177.28 L521.40,177.28 L521.80,177.28 L522.20,177.28 L522.60,177.28 L523.00,177.28 L523.40,177.28 L523.80,177.29 L524.20,177.29 L524.60,177.29 L525.00,177.29 L525.40,177.29 L525.80,177.29 L526.20,177.29" fill="none" stroke="#e044f0" stroke-width="1.5"/>
<line x1="289.45" y1="178.4" x2="527.75" y2="178.4" stroke="#000" stroke-width="1.5"/>
<line x1="527.0" y1="4.8" x2="527.0" y2="178.4" stroke="#000" stroke-width="1.5"/>
<line x1="290.20" y1="178.4" x2="290.20" y2="181.4" stroke="#000" stroke-width="1.3"/>
<text x="290.20" y="190.9" font-size="9.3" text-anchor="middle" font-family="Liberation Serif, serif" font-weight="bold" stroke="#000">400</text>
<line x1="319.80" y1="178.4" x2="319.80" y2="180.4" stroke="#000" stroke-width="1.3"/>
<line x1="349.40" y1="178.4" x2="349.40" y2="181.4" stroke="#000" stroke-width="1.3"/>
<text x="349.40" y="190.9" font-size="9.3" text-anchor="middle" font-family="Liberation Serif, serif" font-weight="bold" stroke="#000">500</text>
<line x1="379.00" y1="178.4" x2="379.00" y2="180.4" stroke="#000" stroke-width="1.3"/>
<line x1="408.60" y1="178.4" x2="408.60" y2="181.4" stroke="#000" stroke-width="1.3"/>
<text x="408.60" y="190.9" font-size="9.3" text-anchor="middle" font-family="Liberation Serif, serif" font-weight="bold" stroke="#000">600</text>
<line x1="438.20" y1="178.4" x2="438.20" y2="180.4" stroke="#000" stroke-width="1.3"/>
<line x1="467.80" y1="178.4" x2="467.80" y2="181.4" stroke="#000" stroke-width="1.3"/>
<text x="467.80" y="190.9" font-size="9.3" text-anchor="middle" font-family="Liberation Serif, serif" font-weight="bold" stroke="#000">700</text>
<line x1="497.40" y1="178.4" x2="497.40" y2="180.4" stroke="#000" stroke-width="1.3"/>
<line x1="527.00" y1="178.4" x2="527.00" y2="181.4" stroke="#000" stroke-width="1.3"/>
<text x="527.00" y="190.9" font-size="9.3" text-anchor="middle" font-family="Liberation Serif, serif" font-weight="bold" stroke="#000">800</text>
<text x="375.4" y="202.3" font-size="9.3" font-family="Liberation Serif, serif" font-weight="bold" stroke="#000">Wavelength (nm)</text>
<text transform="translate(281.3,92.0) rotate(-90)" font-size="10" text-anchor="middle" font-family="Liberation Serif, serif" font-weight="bold" stroke="#000">Absorbance (a.u.)</text>
<text transform="translate(544.5,91.6) rotate(-90)" font-size="10" text-anchor="middle" font-family="Liberation Serif, serif" font-weight="bold" stroke="#000">PL intensity (a.u.)</text>
<line x1="346" y1="17.60" x2="363.6" y2="17.60" stroke="#000000" stroke-width="3"/>
<text x="368.2" y="21.80" font-size="10.7" fill="#000000" font-family="Liberation Serif, serif" font-weight="bold" stroke="#000000">Pristine</text>
<line x1="346" y1="31.70" x2="363.6" y2="31.70" stroke="#ff1a1a" stroke-width="3"/>
<text x="368.2" y="35.90" font-size="10.7" fill="#ff0000" font-family="Liberation Serif, serif" font-weight="bold" stroke="#ff0000">0.025 M cys</text>
<line x1="346" y1="44.90" x2="363.6" y2="44.90" stroke="#0022ff" stroke-width="3"/>
<text x="368.2" y="49.10" font-size="10.7" fill="#0a0aff" font-family="Liberation Serif, serif" font-weight="bold" stroke="#0a0aff">0.050 M cys</text>
<line x1="346" y1="58.10" x2="363.6" y2="58.10" stroke="#107a10" stroke-width="3"/>
<text x="368.2" y="62.30" font-size="10.7" fill="#0a800a" font-family="Liberation Serif, serif" font-weight="bold" stroke="#0a800a">0.075 M cys</text>
<line x1="346" y1="71.50" x2="363.6" y2="71.50" stroke="#d050f8" stroke-width="3"/>
<text x="368.2" y="75.70" font-size="10.7" fill="#dd44f4" font-family="Liberation Serif, serif" font-weight="bold" stroke="#dd44f4">0.100 M cys</text>
<text x="5.2" y="219.6" font-size="21" font-family="Liberation Serif, serif" font-weight="bold" stroke="#000">c</text>
<path d="M27.00,373.78 L27.45,374.46 L27.90,374.32 L28.35,373.85 L28.80,374.51 L29.25,374.42 L29.70,374.19 L30.15,374.60 L30.60,373.69 L31.05,374.37 L31.50,374.62 L31.95,374.54 L32.40,374.94 L32.85,373.80 L33.30,373.65 L33.75,374.52 L34.20,374.63 L34.65,375.46 L35.10,374.71 L35.55,373.96 L36.00,374.80 L36.45,373.98 L36.90,373.66 L37.35,375.70 L37.80,374.56 L38.25,374.76 L38.70,374.68 L39.15,375.31 L39.60,374.54 L40.05,375.01 L40.50,373.89 L40.95,373.70 L41.40,375.11 L41.85,375.14 L42.30,374.66 L42.75,374.51 L43.20,374.48 L43.65,374.06 L44.10,375.17 L44.55,374.73 L45.00,374.65 L45.45,374.59 L45.90,374.92 L46.35,374.65 L46.80,374.77 L47.25,373.82 L47.70,374.66 L48.15,375.49 L48.60,374.14 L49.05,374.34 L49.50,374.85 L49.95,374.88 L50.40,374.71 L50.85,373.59 L51.30,374.65 L51.75,373.81 L52.20,373.99 L52.65,374.67 L53.10,374.25 L53.55,374.80 L54.00,375.97 L54.45,374.79 L54.90,374.76 L55.35,373.95 L55.80,374.08 L56.25,373.87 L56.80,374.40 L58.50,290.00 L60.30,224.50 L60.80,227.23 L61.25,229.48 L61.70,232.29 L62.15,234.99 L62.60,236.70 L63.05,238.57 L63.50,240.67 L63.95,243.90 L64.40,245.50 L64.85,247.96 L65.30,249.69 L65.75,250.36 L66.20,252.63 L66.65,252.66 L67.10,256.71 L67.55,257.34 L68.00,257.69 L68.45,258.31 L68.90,260.64 L69.35,260.26 L69.80,262.18 L70.25,264.36 L70.70,264.97 L71.15,265.62 L71.60,267.65 L72.05,267.24 L72.50,269.12 L72.95,269.50 L73.40,270.16 L73.85,271.96 L74.30,271.80 L74.75,274.66 L75.20,273.74 L75.65,276.34 L76.10,274.96 L76.55,276.91 L77.00,276.40 L77.45,277.03 L77.90,278.80 L78.35,279.86 L78.80,279.19 L79.25,281.59 L79.70,280.87 L80.15,282.17 L80.60,282.99 L81.05,283.77 L81.50,282.72 L81.95,285.73 L82.40,285.60 L82.85,285.50 L83.30,285.67 L83.75,285.79 L84.20,286.59 L84.65,288.49 L85.10,288.43 L85.55,288.43 L86.00,289.40 L86.45,291.40 L86.90,290.61 L87.35,290.96 L87.80,292.84 L88.25,292.73 L88.70,292.95 L89.15,293.00 L89.60,292.84 L90.05,293.60 L90.50,294.58 L90.95,295.25 L91.40,296.13 L91.85,296.75 L92.30,296.99 L92.75,297.46 L93.20,297.06 L93.65,296.72 L94.10,298.32 L94.55,298.47 L95.00,299.13 L95.45,299.84 L95.90,299.60 L96.35,300.13 L96.80,301.27 L97.25,301.86 L97.70,301.74 L98.15,302.97 L98.60,302.89 L99.05,302.75 L99.50,303.91 L99.95,305.61 L100.40,304.22 L100.85,305.92 L101.30,306.47 L101.75,306.95 L102.20,305.72 L102.65,308.10 L103.10,307.16 L103.55,307.29 L104.00,307.69 L104.45,308.65 L104.90,308.64 L105.35,308.86 L105.80,310.26 L106.25,309.22 L106.70,309.37 L107.15,311.02 L107.60,311.32 L108.05,311.95 L108.50,310.79 L108.95,312.65 L109.40,312.58 L109.85,313.83 L110.30,312.07 L110.75,313.44 L111.20,313.44 L111.65,312.86 L112.10,313.81 L112.55,315.43 L113.00,314.65 L113.45,314.80 L113.90,316.24 L114.35,316.65 L114.80,316.97 L115.25,316.05 L115.70,316.88 L116.15,317.96 L116.60,317.10 L117.05,317.34 L117.50,318.76 L117.95,319.58 L118.40,317.99 L118.85,317.28 L119.30,318.38 L119.75,318.99 L120.20,319.90 L120.65,320.72 L121.10,320.48 L121.55,320.39 L122.00,321.27 L122.45,320.78 L122.90,321.71 L123.35,321.58 L123.80,324.18 L124.25,323.16 L124.70,322.28 L125.15,322.44 L125.60,323.11 L126.05,322.54 L126.50,323.45 L126.95,323.71 L127.40,325.11 L127.85,324.46 L128.30,324.47 L128.75,324.35 L129.20,324.72 L129.65,325.76 L130.10,325.91 L130.55,327.11 L131.00,326.13 L131.45,327.56 L131.90,327.25 L132.35,327.31 L132.80,326.16 L133.25,326.90 L133.70,328.57 L134.15,329.27 L134.60,328.68 L135.05,329.30 L135.50,328.72 L135.95,328.98 L136.40,329.01 L136.85,330.39 L137.30,330.18 L137.75,330.00 L138.20,330.16 L138.65,331.01 L139.10,331.07 L139.55,330.48 L140.00,332.49 L140.45,331.69 L140.90,331.73 L141.35,332.98 L141.80,332.88 L142.25,332.31 L142.70,332.96 L143.15,332.05 L143.60,332.56 L144.05,331.63 L144.50,334.28 L144.95,332.30 L145.40,334.31 L145.85,333.45 L146.30,333.55 L146.75,334.30 L147.20,334.82 L147.65,335.26 L148.10,336.27 L148.55,335.48 L149.00,336.04 L149.45,335.19 L149.90,336.30 L150.35,336.10 L150.80,335.86 L151.25,336.31 L151.70,336.52 L152.15,336.88 L152.60,337.21 L153.05,336.76 L153.50,336.78 L153.95,338.00 L154.40,336.47 L154.85,337.40 L155.30,339.10 L155.75,336.29 L156.20,337.88 L156.65,339.02 L157.10,337.55 L157.55,340.70 L158.00,337.24 L158.45,340.22 L158.90,340.48 L159.35,340.19 L159.80,339.56 L160.25,340.13 L160.70,339.42 L161.15,340.78 L161.60,339.59 L162.05,340.34 L162.50,341.39 L162.95,340.07 L163.40,340.76 L163.85,341.28 L164.30,340.38 L164.75,342.29 L165.20,341.87 L165.65,340.72 L166.10,341.90 L166.55,341.55 L167.00,341.78 L167.45,342.44 L167.90,342.04 L168.35,343.36 L168.80,342.34 L169.25,343.66 L169.70,343.09 L170.15,343.86 L170.60,343.03 L171.05,343.19 L171.50,342.88 L171.95,344.23 L172.40,344.62 L172.85,345.59 L173.30,345.15 L173.75,344.56 L174.20,344.37 L174.65,344.92 L175.10,344.77 L175.55,345.94 L176.00,345.71 L176.45,344.60 L176.90,344.83 L177.35,346.40 L177.80,345.79 L178.25,345.54 L178.70,346.66 L179.15,345.68 L179.60,345.89 L180.05,345.88 L180.50,344.96 L180.95,347.06 L181.40,345.73 L181.85,346.30 L182.30,346.30 L182.75,347.45 L183.20,347.01 L183.65,347.19 L184.10,346.13 L184.55,347.36 L185.00,346.50 L185.45,347.87 L185.90,348.02 L186.35,347.87 L186.80,349.43 L187.25,348.48 L187.70,348.64 L188.15,348.44 L188.60,348.31 L189.05,349.24 L189.50,349.44 L189.95,347.87 L190.40,349.63 L190.85,349.36 L191.30,349.78 L191.75,349.54 L192.20,348.45 L192.65,348.60 L193.10,350.81 L193.55,349.81 L194.00,348.74 L194.45,350.08 L194.90,349.69 L195.35,348.75 L195.80,348.54 L196.25,349.13 L196.70,350.54 L197.15,350.41 L197.60,350.37 L198.05,350.84 L198.50,351.16 L198.95,349.37 L199.40,350.73 L199.85,350.45 L200.30,350.27 L200.75,350.84 L201.20,351.23 L201.65,351.23 L202.10,350.49 L202.55,351.26 L203.00,353.10 L203.45,351.05 L203.90,350.69 L204.35,352.16 L204.80,352.47 L205.25,352.47 L205.70,351.45 L206.15,353.02 L206.60,351.86 L207.05,351.71 L207.50,352.16 L207.95,352.60 L208.40,353.26 L208.85,353.28 L209.30,352.92 L209.75,353.67 L210.20,353.16 L210.65,353.81 L211.10,352.28 L211.55,352.25 L212.00,353.98 L212.45,352.54 L212.90,353.38 L213.35,353.61 L213.80,353.42 L214.25,353.52 L214.70,354.89 L215.15,352.23 L215.60,354.69 L216.05,355.76 L216.50,354.25 L216.95,354.30 L217.40,354.89 L217.85,355.74 L218.30,353.71 L218.75,354.68 L219.20,354.56 L219.65,355.16 L220.10,354.95 L220.55,355.38 L221.00,354.69 L221.45,355.09 L221.90,354.66 L222.35,354.74 L222.80,355.18 L223.25,355.25 L223.70,354.60 L224.15,356.59 L224.60,355.47 L225.05,354.66 L225.50,356.47 L225.95,355.25 L226.40,356.20 L226.85,355.90 L227.30,356.15 L227.75,356.17 L228.20,355.71 L228.65,356.21 L229.10,357.67 L229.55,354.75 L230.00,356.43 L230.45,356.75 L230.90,355.77 L231.35,355.62 L231.80,358.15 L232.25,356.44 L232.70,358.22 L233.15,357.21 L233.60,356.95 L234.05,357.29 L234.50,357.47 L234.95,357.91 L235.40,357.45 L235.85,357.31 L236.30,357.39 L236.75,358.28 L237.20,357.96 L237.65,356.75 L238.10,357.07 L238.55,357.80 L239.00,357.19 L239.45,357.43 L239.90,357.08 L240.35,357.62 L240.80,358.16 L241.25,358.62 L241.70,357.99 L242.15,359.49 L242.60,358.04 L243.05,360.39 L243.50,358.91 L243.95,358.61 L244.40,357.97 L244.85,356.40 L245.30,358.32 L245.75,358.61 L246.20,359.89 L246.65,357.63 L247.10,359.98 L247.55,358.53 L248.00,359.27 L248.45,357.03 L248.90,358.96 L249.35,358.68 L249.80,359.45 L250.25,359.09 L250.70,358.28 L251.15,359.79 L251.60,359.66 L252.05,359.65 L252.50,359.99 L252.95,360.10 L253.40,359.37 L253.85,358.48 L254.30,358.51 L254.75,360.48 L255.20,360.08 L255.65,359.70 L256.10,359.38 L256.55,359.75 L257.00,359.79 L257.45,359.59 L257.90,359.38 L258.35,361.44 L258.80,360.13 L259.25,359.59 L259.70,359.15 L260.15,359.60 L260.60,360.66 L261.05,360.74 L261.50,360.10 L261.95,360.33" fill="none" stroke="#3c3c3c" stroke-width="1.4" stroke-linejoin="round"/>
<path d="M27.00,370.25 L27.45,369.85 L27.90,371.05 L28.35,370.59 L28.80,371.64 L29.25,370.02 L29.70,370.33 L30.15,370.84 L30.60,370.28 L31.05,369.71 L31.50,369.93 L31.95,370.45 L32.40,370.57 L32.85,370.35 L33.30,370.90 L33.75,370.90 L34.20,370.56 L34.65,370.41 L35.10,370.27 L35.55,370.68 L36.00,370.86 L36.45,370.43 L36.90,370.62 L37.35,370.24 L37.80,369.69 L38.25,369.90 L38.70,370.78 L39.15,370.62 L39.60,371.20 L40.05,370.43 L40.50,370.83 L40.95,371.06 L41.40,370.90 L41.85,370.10 L42.30,370.31 L42.75,370.46 L43.20,369.91 L43.65,370.64 L44.10,370.91 L44.55,370.16 L45.00,371.39 L45.45,370.25 L45.90,370.30 L46.35,370.28 L46.80,370.05 L47.25,370.61 L47.70,370.41 L48.15,371.23 L48.60,370.70 L49.05,370.67 L49.50,370.29 L49.95,369.69 L50.40,370.36 L50.85,369.97 L51.30,370.88 L51.75,370.38 L52.20,371.23 L52.65,370.77 L53.10,370.82 L53.55,370.52 L54.00,370.50 L54.45,370.73 L54.90,370.86 L55.35,370.04 L55.80,370.65 L56.25,371.71 L56.80,370.40 L58.50,290.00 L60.30,224.50 L60.80,227.40 L61.25,229.78 L61.70,231.82 L62.15,233.51 L62.60,237.44 L63.05,238.62 L63.50,240.65 L63.95,243.50 L64.40,245.63 L64.85,244.84 L65.30,247.70 L65.75,248.83 L66.20,250.03 L66.65,251.38 L67.10,252.27 L67.55,254.58 L68.00,255.03 L68.45,255.93 L68.90,257.60 L69.35,258.35 L69.80,259.01 L70.25,259.84 L70.70,261.74 L71.15,261.73 L71.60,262.14 L72.05,262.41 L72.50,263.56 L72.95,263.82 L73.40,265.37 L73.85,266.20 L74.30,265.28 L74.75,267.41 L75.20,268.52 L75.65,268.83 L76.10,268.68 L76.55,270.86 L77.00,270.10 L77.45,270.32 L77.90,271.01 L78.35,272.34 L78.80,273.60 L79.25,274.29 L79.70,274.17 L80.15,273.72 L80.60,274.63 L81.05,274.99 L81.50,276.01 L81.95,275.40 L82.40,277.23 L82.85,278.10 L83.30,278.04 L83.75,278.95 L84.20,278.45 L84.65,278.57 L85.10,279.62 L85.55,281.34 L86.00,281.71 L86.45,281.13 L86.90,282.75 L87.35,282.13 L87.80,283.86 L88.25,283.58 L88.70,283.37 L89.15,284.68 L89.60,284.01 L90.05,284.33 L90.50,284.39 L90.95,286.01 L91.40,286.21 L91.85,286.61 L92.30,286.79 L92.75,288.50 L93.20,287.60 L93.65,287.80 L94.10,289.58 L94.55,290.10 L95.00,289.74 L95.45,288.68 L95.90,289.87 L96.35,291.11 L96.80,291.08 L97.25,292.55 L97.70,290.88 L98.15,292.70 L98.60,292.16 L99.05,293.90 L99.50,293.30 L99.95,294.44 L100.40,293.64 L100.85,293.47 L101.30,294.05 L101.75,294.76 L102.20,294.83 L102.65,296.75 L103.10,297.20 L103.55,296.81 L104.00,296.25 L104.45,297.24 L104.90,297.19 L105.35,299.04 L105.80,298.59 L106.25,299.05 L106.70,298.77 L107.15,297.98 L107.60,299.19 L108.05,299.28 L108.50,300.66 L108.95,300.80 L109.40,300.50 L109.85,301.11 L110.30,302.81 L110.75,301.37 L111.20,301.72 L111.65,302.52 L112.10,302.51 L112.55,303.02 L113.00,304.01 L113.45,305.16 L113.90,303.01 L114.35,304.56 L114.80,304.91 L115.25,305.13 L115.70,305.36 L116.15,305.56 L116.60,306.80 L117.05,306.07 L117.50,306.61 L117.95,307.00 L118.40,307.37 L118.85,307.47 L119.30,308.58 L119.75,308.16 L120.20,308.58 L120.65,308.71 L121.10,308.33 L121.55,308.74 L122.00,308.86 L122.45,310.02 L122.90,309.66 L123.35,309.70 L123.80,310.88 L124.25,311.36 L124.70,310.03 L125.15,312.72 L125.60,311.83 L126.05,312.01 L126.50,313.09 L126.95,312.66 L127.40,312.46 L127.85,314.68 L128.30,312.65 L128.75,313.60 L129.20,314.52 L129.65,313.43 L130.10,314.37 L130.55,314.97 L131.00,316.63 L131.45,314.58 L131.90,315.42 L132.35,316.16 L132.80,316.01 L133.25,315.36 L133.70,316.73 L134.15,316.76 L134.60,317.24 L135.05,317.96 L135.50,318.12 L135.95,317.94 L136.40,318.11 L136.85,317.36 L137.30,318.27 L137.75,318.75 L138.20,318.55 L138.65,319.13 L139.10,318.71 L139.55,320.59 L140.00,321.25 L140.45,319.70 L140.90,320.48 L141.35,320.26 L141.80,321.53 L142.25,321.17 L142.70,321.14 L143.15,321.15 L143.60,321.61 L144.05,321.04 L144.50,322.43 L144.95,321.67 L145.40,322.76 L145.85,322.69 L146.30,323.57 L146.75,323.00 L147.20,323.94 L147.65,322.79 L148.10,324.07 L148.55,323.69 L149.00,324.18 L149.45,324.30 L149.90,325.11 L150.35,323.24 L150.80,325.08 L151.25,324.01 L151.70,326.10 L152.15,324.07 L152.60,324.94 L153.05,324.67 L153.50,327.18 L153.95,325.32 L154.40,326.49 L154.85,326.23 L155.30,325.53 L155.75,326.75 L156.20,327.63 L156.65,327.23 L157.10,328.20 L157.55,327.47 L158.00,327.91 L158.45,327.82 L158.90,328.51 L159.35,329.78 L159.80,328.88 L160.25,328.95 L160.70,328.55 L161.15,328.63 L161.60,330.36 L162.05,328.73 L162.50,329.05 L162.95,329.79 L163.40,329.73 L163.85,331.57 L164.30,328.71 L164.75,330.79 L165.20,331.21 L165.65,330.09 L166.10,330.59 L166.55,331.51 L167.00,332.51 L167.45,330.89 L167.90,330.59 L168.35,332.54 L168.80,333.08 L169.25,331.94 L169.70,330.79 L170.15,333.51 L170.60,332.51 L171.05,333.60 L171.50,332.93 L171.95,332.86 L172.40,332.96 L172.85,334.46 L173.30,334.58 L173.75,332.23 L174.20,333.23 L174.65,335.27 L175.10,333.92 L175.55,333.38 L176.00,334.48 L176.45,334.55 L176.90,334.70 L177.35,334.58 L177.80,334.84 L178.25,334.88 L178.70,335.58 L179.15,334.92 L179.60,335.42 L180.05,335.67 L180.50,336.82 L180.95,336.31 L181.40,336.11 L181.85,336.70 L182.30,336.74 L182.75,337.35 L183.20,337.08 L183.65,338.12 L184.10,337.94 L184.55,337.10 L185.00,336.97 L185.45,338.01 L185.90,337.89 L186.35,337.59 L186.80,336.75 L187.25,336.63 L187.70,338.28 L188.15,338.71 L188.60,338.86 L189.05,337.52 L189.50,339.27 L189.95,338.30 L190.40,339.07 L190.85,339.21 L191.30,338.48 L191.75,338.75 L192.20,337.83 L192.65,338.76 L193.10,338.26 L193.55,339.95 L194.00,339.80 L194.45,340.52 L194.90,340.25 L195.35,339.67 L195.80,340.47 L196.25,340.07 L196.70,340.89 L197.15,340.79 L197.60,339.99 L198.05,340.80 L198.50,340.95 L198.95,340.81 L199.40,341.76 L199.85,342.44 L200.30,341.10 L200.75,341.22 L201.20,340.00 L201.65,341.59 L202.10,341.48 L202.55,340.38 L203.00,342.21 L203.45,342.52 L203.90,341.70 L204.35,342.06 L204.80,341.75 L205.25,343.06 L205.70,341.57 L206.15,342.51 L206.60,344.20 L207.05,342.97 L207.50,343.36 L207.95,343.03 L208.40,342.41 L208.85,343.31 L209.30,343.72 L209.75,342.82 L210.20,343.87 L210.65,344.60 L211.10,344.57 L211.55,342.81 L212.00,343.33 L212.45,342.98 L212.90,344.95 L213.35,344.73 L213.80,344.88 L214.25,343.87 L214.70,343.76 L215.15,344.72 L215.60,344.83 L216.05,344.25 L216.50,345.04 L216.95,345.48 L217.40,345.28 L217.85,344.48 L218.30,343.82 L218.75,345.21 L219.20,345.59 L219.65,345.38 L220.10,345.35 L220.55,345.25 L221.00,346.32 L221.45,345.87 L221.90,346.08 L222.35,345.40 L222.80,345.73 L223.25,346.36 L223.70,345.62 L224.15,345.53 L224.60,346.26 L225.05,347.41 L225.50,346.79 L225.95,347.76 L226.40,346.72 L226.85,346.68 L227.30,346.00 L227.75,346.65 L228.20,348.14 L228.65,347.44 L229.10,347.80 L229.55,347.86 L230.00,347.44 L230.45,347.38 L230.90,347.68 L231.35,348.14 L231.80,348.07 L232.25,348.16 L232.70,348.00 L233.15,347.43 L233.60,347.86 L234.05,347.46 L234.50,348.89 L234.95,346.79 L235.40,348.18 L235.85,350.08 L236.30,348.24 L236.75,347.75 L237.20,348.61 L237.65,349.59 L238.10,348.65 L238.55,349.26 L239.00,348.97 L239.45,348.70 L239.90,351.24 L240.35,349.15 L240.80,348.79 L241.25,348.89 L241.70,349.57 L242.15,349.66 L242.60,349.98 L243.05,349.60 L243.50,348.57 L243.95,350.00 L244.40,349.48 L244.85,349.56 L245.30,348.79 L245.75,349.49 L246.20,349.44 L246.65,349.99 L247.10,349.06 L247.55,350.18 L248.00,350.29 L248.45,349.48 L248.90,349.89 L249.35,349.79 L249.80,351.08 L250.25,348.74 L250.70,350.33 L251.15,349.47 L251.60,350.38 L252.05,351.34 L252.50,350.36 L252.95,350.96 L253.40,350.33 L253.85,352.34 L254.30,351.68 L254.75,351.88 L255.20,350.22 L255.65,350.44 L256.10,352.02 L256.55,351.18 L257.00,351.19 L257.45,351.66 L257.90,350.61 L258.35,352.08 L258.80,351.61 L259.25,351.98 L259.70,351.23 L260.15,352.12 L260.60,351.32 L261.05,352.53 L261.50,352.71 L261.95,352.61" fill="none" stroke="#ff1a1a" stroke-width="1.4" stroke-linejoin="round"/>
<path d="M27.00,369.06 L27.45,369.12 L27.90,367.45 L28.35,369.22 L28.80,368.66 L29.25,368.85 L29.70,368.66 L30.15,368.10 L30.60,368.53 L31.05,369.13 L31.50,369.51 L31.95,368.49 L32.40,368.35 L32.85,369.53 L33.30,368.36 L33.75,369.84 L34.20,368.83 L34.65,368.36 L35.10,369.29 L35.55,369.65 L36.00,368.08 L36.45,369.58 L36.90,368.66 L37.35,369.54 L37.80,368.61 L38.25,368.01 L38.70,369.05 L39.15,369.26 L39.60,369.85 L40.05,369.66 L40.50,369.15 L40.95,368.68 L41.40,368.54 L41.85,368.65 L42.30,368.38 L42.75,368.66 L43.20,367.53 L43.65,368.89 L44.10,368.79 L44.55,370.08 L45.00,369.18 L45.45,368.56 L45.90,369.08 L46.35,368.19 L46.80,368.50 L47.25,367.87 L47.70,369.52 L48.15,369.10 L48.60,368.21 L49.05,368.77 L49.50,369.27 L49.95,369.05 L50.40,368.99 L50.85,368.37 L51.30,368.48 L51.75,368.85 L52.20,369.26 L52.65,368.39 L53.10,368.24 L53.55,369.37 L54.00,368.33 L54.45,369.34 L54.90,368.92 L55.35,369.24 L55.80,369.67 L56.25,369.14 L56.80,368.80 L58.50,290.00 L60.30,224.50 L60.80,226.85 L61.25,226.73 L61.70,228.27 L62.15,230.76 L62.60,232.79 L63.05,233.84 L63.50,235.79 L63.95,235.07 L64.40,236.01 L64.85,237.73 L65.30,237.81 L65.75,238.66 L66.20,238.68 L66.65,241.38 L67.10,240.37 L67.55,242.61 L68.00,241.67 L68.45,244.70 L68.90,243.54 L69.35,245.96 L69.80,244.48 L70.25,246.21 L70.70,248.35 L71.15,247.24 L71.60,248.68 L72.05,248.83 L72.50,247.81 L72.95,250.78 L73.40,251.50 L73.85,250.71 L74.30,252.81 L74.75,252.16 L75.20,252.55 L75.65,254.02 L76.10,253.95 L76.55,257.18 L77.00,254.26 L77.45,256.86 L77.90,257.61 L78.35,255.47 L78.80,256.21 L79.25,258.79 L79.70,258.35 L80.15,259.64 L80.60,260.82 L81.05,259.95 L81.50,259.82 L81.95,258.81 L82.40,261.93 L82.85,261.39 L83.30,262.98 L83.75,263.38 L84.20,262.39 L84.65,265.66 L85.10,265.54 L85.55,265.79 L86.00,264.41 L86.45,265.57 L86.90,265.89 L87.35,266.46 L87.80,266.26 L88.25,268.11 L88.70,268.36 L89.15,268.92 L89.60,268.57 L90.05,270.62 L90.50,270.06 L90.95,267.85 L91.40,270.17 L91.85,271.11 L92.30,272.45 L92.75,271.73 L93.20,272.19 L93.65,272.23 L94.10,273.84 L94.55,273.25 L95.00,273.52 L95.45,273.80 L95.90,275.37 L96.35,274.79 L96.80,274.16 L97.25,276.63 L97.70,275.83 L98.15,277.17 L98.60,277.58 L99.05,278.72 L99.50,278.96 L99.95,277.89 L100.40,278.64 L100.85,278.01 L101.30,281.06 L101.75,280.33 L102.20,281.56 L102.65,280.40 L103.10,279.21 L103.55,282.80 L104.00,281.88 L104.45,282.28 L104.90,282.58 L105.35,283.47 L105.80,283.73 L106.25,282.18 L106.70,284.95 L107.15,283.86 L107.60,284.27 L108.05,286.60 L108.50,286.22 L108.95,285.44 L109.40,284.42 L109.85,286.59 L110.30,287.27 L110.75,287.06 L111.20,286.35 L111.65,287.10 L112.10,287.02 L112.55,288.68 L113.00,289.56 L113.45,290.08 L113.90,288.83 L114.35,290.04 L114.80,290.65 L115.25,290.02 L115.70,290.67 L116.15,293.04 L116.60,291.64 L117.05,292.57 L117.50,291.71 L117.95,292.46 L118.40,291.19 L118.85,293.03 L119.30,294.44 L119.75,295.57 L120.20,295.07 L120.65,294.92 L121.10,294.66 L121.55,294.38 L122.00,295.08 L122.45,296.08 L122.90,295.13 L123.35,296.97 L123.80,295.55 L124.25,295.13 L124.70,296.12 L125.15,295.83 L125.60,296.39 L126.05,298.93 L126.50,298.03 L126.95,298.69 L127.40,299.83 L127.85,300.21 L128.30,298.91 L128.75,300.84 L129.20,300.28 L129.65,300.22 L130.10,300.89 L130.55,299.49 L131.00,300.34 L131.45,301.23 L131.90,302.15 L132.35,301.55 L132.80,302.04 L133.25,303.30 L133.70,303.97 L134.15,303.66 L134.60,304.38 L135.05,303.14 L135.50,303.49 L135.95,304.32 L136.40,304.03 L136.85,304.10 L137.30,306.31 L137.75,304.90 L138.20,304.47 L138.65,306.03 L139.10,307.50 L139.55,306.18 L140.00,307.47 L140.45,306.22 L140.90,306.42 L141.35,306.49 L141.80,307.23 L142.25,309.26 L142.70,306.82 L143.15,309.58 L143.60,307.44 L144.05,308.38 L144.50,309.59 L144.95,309.64 L145.40,309.57 L145.85,308.07 L146.30,310.12 L146.75,309.11 L147.20,312.58 L147.65,310.31 L148.10,310.90 L148.55,309.93 L149.00,310.76 L149.45,310.26 L149.90,312.54 L150.35,311.65 L150.80,312.62 L151.25,311.72 L151.70,312.11 L152.15,313.94 L152.60,312.13 L153.05,311.61 L153.50,313.81 L153.95,312.64 L154.40,313.49 L154.85,314.92 L155.30,313.58 L155.75,315.33 L156.20,314.14 L156.65,316.31 L157.10,316.37 L157.55,314.96 L158.00,315.41 L158.45,315.06 L158.90,316.20 L159.35,317.26 L159.80,315.13 L160.25,317.46 L160.70,315.65 L161.15,316.27 L161.60,315.64 L162.05,319.34 L162.50,317.70 L162.95,318.07 L163.40,317.44 L163.85,319.21 L164.30,316.55 L164.75,318.67 L165.20,320.82 L165.65,318.69 L166.10,319.24 L166.55,320.02 L167.00,318.88 L167.45,319.82 L167.90,320.86 L168.35,320.36 L168.80,320.70 L169.25,320.24 L169.70,321.03 L170.15,320.98 L170.60,322.42 L171.05,321.95 L171.50,321.26 L171.95,319.46 L172.40,322.49 L172.85,322.70 L173.30,321.38 L173.75,320.58 L174.20,321.53 L174.65,323.57 L175.10,321.96 L175.55,322.68 L176.00,323.46 L176.45,324.54 L176.90,323.59 L177.35,323.69 L177.80,323.46 L178.25,325.59 L178.70,325.26 L179.15,324.38 L179.60,323.38 L180.05,324.09 L180.50,325.49 L180.95,324.48 L181.40,326.10 L181.85,325.79 L182.30,325.89 L182.75,326.38 L183.20,326.40 L183.65,325.34 L184.10,325.98 L184.55,328.54 L185.00,325.51 L185.45,326.32 L185.90,327.87 L186.35,326.92 L186.80,326.49 L187.25,326.19 L187.70,328.02 L188.15,328.60 L188.60,329.10 L189.05,328.04 L189.50,329.09 L189.95,327.37 L190.40,328.60 L190.85,327.99 L191.30,328.90 L191.75,329.57 L192.20,330.00 L192.65,328.30 L193.10,330.48 L193.55,329.05 L194.00,328.70 L194.45,329.62 L194.90,328.60 L195.35,330.06 L195.80,330.46 L196.25,330.16 L196.70,330.96 L197.15,330.34 L197.60,330.77 L198.05,329.60 L198.50,331.08 L198.95,330.41 L199.40,330.91 L199.85,331.37 L200.30,331.76 L200.75,330.24 L201.20,330.45 L201.65,331.72 L202.10,332.55 L202.55,332.58 L203.00,333.19 L203.45,333.69 L203.90,333.10 L204.35,332.76 L204.80,331.98 L205.25,332.19 L205.70,332.75 L206.15,333.54 L206.60,333.62 L207.05,333.55 L207.50,333.54 L207.95,334.37 L208.40,334.11 L208.85,334.32 L209.30,334.45 L209.75,333.81 L210.20,333.49 L210.65,334.98 L211.10,335.04 L211.55,334.59 L212.00,334.53 L212.45,337.08 L212.90,334.46 L213.35,335.07 L213.80,335.62 L214.25,334.46 L214.70,335.72 L215.15,337.35 L215.60,336.69 L216.05,336.53 L216.50,336.61 L216.95,336.29 L217.40,337.17 L217.85,336.28 L218.30,336.15 L218.75,336.74 L219.20,337.57 L219.65,337.17 L220.10,337.59 L220.55,335.27 L221.00,338.27 L221.45,339.41 L221.90,338.62 L222.35,337.24 L222.80,336.87 L223.25,337.99 L223.70,336.96 L224.15,338.61 L224.60,337.59 L225.05,339.03 L225.50,339.49 L225.95,336.54 L226.40,338.74 L226.85,337.95 L227.30,337.41 L227.75,338.23 L228.20,338.69 L228.65,339.92 L229.10,337.72 L229.55,340.13 L230.00,341.10 L230.45,339.93 L230.90,339.98 L231.35,339.57 L231.80,338.63 L232.25,340.26 L232.70,340.22 L233.15,340.63 L233.60,342.38 L234.05,340.82 L234.50,340.65 L234.95,341.76 L235.40,339.24 L235.85,339.52 L236.30,340.30 L236.75,340.14 L237.20,341.45 L237.65,340.63 L238.10,342.58 L238.55,342.47 L239.00,341.89 L239.45,340.94 L239.90,341.93 L240.35,342.19 L240.80,340.59 L241.25,341.96 L241.70,342.37 L242.15,342.01 L242.60,343.32 L243.05,343.09 L243.50,341.34 L243.95,342.28 L244.40,341.50 L244.85,342.86 L245.30,341.64 L245.75,343.34 L246.20,342.94 L246.65,343.55 L247.10,342.63 L247.55,341.53 L248.00,344.52 L248.45,342.86 L248.90,344.33 L249.35,343.56 L249.80,343.86 L250.25,344.98 L250.70,343.72 L251.15,344.76 L251.60,342.24 L252.05,344.44 L252.50,343.52 L252.95,343.70 L253.40,343.90 L253.85,344.28 L254.30,345.54 L254.75,342.46 L255.20,344.24 L255.65,343.64 L256.10,345.41 L256.55,344.05 L257.00,344.92 L257.45,344.23 L257.90,345.26 L258.35,345.65 L258.80,344.45 L259.25,344.93 L259.70,343.68 L260.15,345.30 L260.60,345.87 L261.05,344.67 L261.50,346.26 L261.95,343.45" fill="none" stroke="#1e62e0" stroke-width="1.4" stroke-linejoin="round"/>
<path d="M27.00,366.07 L27.45,366.31 L27.90,366.76 L28.35,367.01 L28.80,366.96 L29.25,366.97 L29.70,367.36 L30.15,366.76 L30.60,366.37 L31.05,366.38 L31.50,368.06 L31.95,365.82 L32.40,366.91 L32.85,367.73 L33.30,367.24 L33.75,366.59 L34.20,367.00 L34.65,367.43 L35.10,367.60 L35.55,366.55 L36.00,367.38 L36.45,367.13 L36.90,367.55 L37.35,367.70 L37.80,366.83 L38.25,366.28 L38.70,367.20 L39.15,367.89 L39.60,367.34 L40.05,367.12 L40.50,368.20 L40.95,366.48 L41.40,367.45 L41.85,366.71 L42.30,367.02 L42.75,367.04 L43.20,367.76 L43.65,366.53 L44.10,366.73 L44.55,366.20 L45.00,367.24 L45.45,366.77 L45.90,367.21 L46.35,366.46 L46.80,366.82 L47.25,367.52 L47.70,366.91 L48.15,367.31 L48.60,367.26 L49.05,366.82 L49.50,366.22 L49.95,367.49 L50.40,367.09 L50.85,367.49 L51.30,365.99 L51.75,366.17 L52.20,365.93 L52.65,366.56 L53.10,367.52 L53.55,367.28 L54.00,366.98 L54.45,367.07 L54.90,367.38 L55.35,366.85 L55.80,367.20 L56.25,367.07 L56.80,367.00 L58.50,290.00 L60.30,224.50 L60.80,225.74 L61.25,229.53 L61.70,233.14 L62.15,234.00 L62.60,236.24 L63.05,237.83 L63.50,239.76 L63.95,242.70 L64.40,243.30 L64.85,244.30 L65.30,244.22 L65.75,247.53 L66.20,247.83 L66.65,249.22 L67.10,252.40 L67.55,253.50 L68.00,252.64 L68.45,255.78 L68.90,256.51 L69.35,256.55 L69.80,258.63 L70.25,257.76 L70.70,258.94 L71.15,259.60 L71.60,260.65 L72.05,262.92 L72.50,262.01 L72.95,262.88 L73.40,263.73 L73.85,265.27 L74.30,265.53 L74.75,267.08 L75.20,266.52 L75.65,266.70 L76.10,267.88 L76.55,268.86 L77.00,268.70 L77.45,270.16 L77.90,271.85 L78.35,270.58 L78.80,271.56 L79.25,273.05 L79.70,272.05 L80.15,272.39 L80.60,272.68 L81.05,274.28 L81.50,274.83 L81.95,274.79 L82.40,275.38 L82.85,276.75 L83.30,276.88 L83.75,275.61 L84.20,277.09 L84.65,277.59 L85.10,278.47 L85.55,278.18 L86.00,278.27 L86.45,278.81 L86.90,278.22 L87.35,279.93 L87.80,279.90 L88.25,281.08 L88.70,280.35 L89.15,281.17 L89.60,281.14 L90.05,281.45 L90.50,283.15 L90.95,282.64 L91.40,283.69 L91.85,282.88 L92.30,284.16 L92.75,283.18 L93.20,284.44 L93.65,284.78 L94.10,285.94 L94.55,285.99 L95.00,286.07 L95.45,287.17 L95.90,287.03 L96.35,287.63 L96.80,288.14 L97.25,287.86 L97.70,288.02 L98.15,288.82 L98.60,288.59 L99.05,289.53 L99.50,290.39 L99.95,290.53 L100.40,289.93 L100.85,289.57 L101.30,290.82 L101.75,291.08 L102.20,292.32 L102.65,291.52 L103.10,291.97 L103.55,292.99 L104.00,292.39 L104.45,292.94 L104.90,294.65 L105.35,294.79 L105.80,294.45 L106.25,294.48 L106.70,293.86 L107.15,295.30 L107.60,295.23 L108.05,295.65 L108.50,295.39 L108.95,296.06 L109.40,296.23 L109.85,296.90 L110.30,298.02 L110.75,297.51 L111.20,296.29 L111.65,297.09 L112.10,296.91 L112.55,297.79 L113.00,299.09 L113.45,299.25 L113.90,298.78 L114.35,299.71 L114.80,299.22 L115.25,299.00 L115.70,299.28 L116.15,299.97 L116.60,301.95 L117.05,300.15 L117.50,302.35 L117.95,302.69 L118.40,301.82 L118.85,302.19 L119.30,302.03 L119.75,302.74 L120.20,303.51 L120.65,303.28 L121.10,304.28 L121.55,304.69 L122.00,304.31 L122.45,304.56 L122.90,304.52 L123.35,305.08 L123.80,304.24 L124.25,305.63 L124.70,305.73 L125.15,305.18 L125.60,307.69 L126.05,305.60 L126.50,305.92 L126.95,307.02 L127.40,305.61 L127.85,306.71 L128.30,306.40 L128.75,307.06 L129.20,307.92 L129.65,308.50 L130.10,309.32 L130.55,309.34 L131.00,309.86 L131.45,309.64 L131.90,309.09 L132.35,310.50 L132.80,309.54 L133.25,309.67 L133.70,311.50 L134.15,311.18 L134.60,310.98 L135.05,311.60 L135.50,311.92 L135.95,310.47 L136.40,311.64 L136.85,311.05 L137.30,312.25 L137.75,311.87 L138.20,313.61 L138.65,313.20 L139.10,312.42 L139.55,313.23 L140.00,312.55 L140.45,313.70 L140.90,314.29 L141.35,314.29 L141.80,312.86 L142.25,314.27 L142.70,315.11 L143.15,315.16 L143.60,316.01 L144.05,314.38 L144.50,315.95 L144.95,315.27 L145.40,316.11 L145.85,316.47 L146.30,316.88 L146.75,316.13 L147.20,316.90 L147.65,316.09 L148.10,316.10 L148.55,317.77 L149.00,317.51 L149.45,316.54 L149.90,317.31 L150.35,318.15 L150.80,319.50 L151.25,319.31 L151.70,319.31 L152.15,317.56 L152.60,319.02 L153.05,319.64 L153.50,319.76 L153.95,319.97 L154.40,319.66 L154.85,321.34 L155.30,321.32 L155.75,320.32 L156.20,319.84 L156.65,322.30 L157.10,320.52 L157.55,322.01 L158.00,322.73 L158.45,320.77 L158.90,321.87 L159.35,321.57 L159.80,322.39 L160.25,322.42 L160.70,323.81 L161.15,322.97 L161.60,322.69 L162.05,323.72 L162.50,322.84 L162.95,322.94 L163.40,325.06 L163.85,322.94 L164.30,323.35 L164.75,323.92 L165.20,323.26 L165.65,322.64 L166.10,325.18 L166.55,323.96 L167.00,324.31 L167.45,324.60 L167.90,324.30 L168.35,324.39 L168.80,325.48 L169.25,327.32 L169.70,326.23 L170.15,326.40 L170.60,324.86 L171.05,326.13 L171.50,325.42 L171.95,327.04 L172.40,326.45 L172.85,326.80 L173.30,326.86 L173.75,326.64 L174.20,326.09 L174.65,327.82 L175.10,326.49 L175.55,326.80 L176.00,327.61 L176.45,327.45 L176.90,328.32 L177.35,329.03 L177.80,328.61 L178.25,328.72 L178.70,328.73 L179.15,329.50 L179.60,327.62 L180.05,329.42 L180.50,328.59 L180.95,328.51 L181.40,329.58 L181.85,329.42 L182.30,330.29 L182.75,330.82 L183.20,328.39 L183.65,330.21 L184.10,331.88 L184.55,331.19 L185.00,331.76 L185.45,330.89 L185.90,329.87 L186.35,330.24 L186.80,331.75 L187.25,332.07 L187.70,330.94 L188.15,331.42 L188.60,331.95 L189.05,330.57 L189.50,331.75 L189.95,333.35 L190.40,333.91 L190.85,332.32 L191.30,333.90 L191.75,332.26 L192.20,332.17 L192.65,331.23 L193.10,333.75 L193.55,332.88 L194.00,335.04 L194.45,333.65 L194.90,333.67 L195.35,332.30 L195.80,334.90 L196.25,333.62 L196.70,333.90 L197.15,332.48 L197.60,334.95 L198.05,335.12 L198.50,334.04 L198.95,334.69 L199.40,335.03 L199.85,335.57 L200.30,335.05 L200.75,336.38 L201.20,335.02 L201.65,334.86 L202.10,335.08 L202.55,333.64 L203.00,335.05 L203.45,336.53 L203.90,336.08 L204.35,335.38 L204.80,336.37 L205.25,334.71 L205.70,336.12 L206.15,336.84 L206.60,337.07 L207.05,336.08 L207.50,337.45 L207.95,338.28 L208.40,336.67 L208.85,337.65 L209.30,336.03 L209.75,335.83 L210.20,337.87 L210.65,337.55 L211.10,337.77 L211.55,337.29 L212.00,337.61 L212.45,338.54 L212.90,339.33 L213.35,337.98 L213.80,337.00 L214.25,339.30 L214.70,338.90 L215.15,339.06 L215.60,338.78 L216.05,340.49 L216.50,338.90 L216.95,339.33 L217.40,337.65 L217.85,338.71 L218.30,338.72 L218.75,339.31 L219.20,339.69 L219.65,338.96 L220.10,340.92 L220.55,338.92 L221.00,339.48 L221.45,340.09 L221.90,339.06 L222.35,340.52 L222.80,340.66 L223.25,340.06 L223.70,341.81 L224.15,340.53 L224.60,340.77 L225.05,339.93 L225.50,339.48 L225.95,340.35 L226.40,340.68 L226.85,340.67 L227.30,341.67 L227.75,339.39 L228.20,340.42 L228.65,339.99 L229.10,342.46 L229.55,341.11 L230.00,341.24 L230.45,340.88 L230.90,342.47 L231.35,341.57 L231.80,342.13 L232.25,340.52 L232.70,343.01 L233.15,342.51 L233.60,342.72 L234.05,343.31 L234.50,342.32 L234.95,342.43 L235.40,343.17 L235.85,343.04 L236.30,342.61 L236.75,342.91 L237.20,342.58 L237.65,343.57 L238.10,343.82 L238.55,343.20 L239.00,344.69 L239.45,342.20 L239.90,343.26 L240.35,344.80 L240.80,343.27 L241.25,342.47 L241.70,344.79 L242.15,344.23 L242.60,343.00 L243.05,344.56 L243.50,343.28 L243.95,343.12 L244.40,344.09 L244.85,343.91 L245.30,343.52 L245.75,344.15 L246.20,343.74 L246.65,344.61 L247.10,344.63 L247.55,345.28 L248.00,344.45 L248.45,343.86 L248.90,343.94 L249.35,344.82 L249.80,346.23 L250.25,345.78 L250.70,344.73 L251.15,345.99 L251.60,344.48 L252.05,346.19 L252.50,345.20 L252.95,346.14 L253.40,346.10 L253.85,345.49 L254.30,346.01 L254.75,345.03 L255.20,345.85 L255.65,346.78 L256.10,349.12 L256.55,346.63 L257.00,346.23 L257.45,345.47 L257.90,347.09 L258.35,345.12 L258.80,345.82 L259.25,346.76 L259.70,345.65 L260.15,347.78 L260.60,347.51 L261.05,346.32 L261.50,346.39 L261.95,345.88" fill="none" stroke="#31a05a" stroke-width="1.4" stroke-linejoin="round"/>
<path d="M27.00,371.27 L27.45,372.20 L27.90,372.29 L28.35,372.15 L28.80,372.11 L29.25,371.70 L29.70,372.16 L30.15,371.24 L30.60,371.98 L31.05,372.72 L31.50,372.64 L31.95,371.74 L32.40,371.81 L32.85,372.67 L33.30,372.87 L33.75,371.23 L34.20,371.76 L34.65,372.09 L35.10,372.59 L35.55,371.56 L36.00,372.30 L36.45,371.83 L36.90,373.17 L37.35,372.19 L37.80,371.91 L38.25,371.81 L38.70,372.51 L39.15,372.32 L39.60,371.43 L40.05,372.09 L40.50,371.31 L40.95,371.60 L41.40,371.33 L41.85,371.31 L42.30,371.63 L42.75,371.49 L43.20,372.24 L43.65,372.38 L44.10,371.86 L44.55,371.42 L45.00,372.38 L45.45,370.96 L45.90,371.01 L46.35,372.34 L46.80,372.31 L47.25,372.47 L47.70,371.87 L48.15,371.34 L48.60,371.72 L49.05,372.26 L49.50,371.59 L49.95,371.63 L50.40,371.28 L50.85,371.39 L51.30,372.40 L51.75,372.21 L52.20,371.39 L52.65,371.44 L53.10,371.70 L53.55,372.25 L54.00,371.39 L54.45,371.89 L54.90,370.90 L55.35,371.35 L55.80,372.19 L56.25,372.43 L56.80,372.00 L58.50,290.00 L60.30,224.50 L60.80,226.34 L61.25,228.91 L61.70,232.20 L62.15,233.46 L62.60,235.35 L63.05,238.01 L63.50,239.61 L63.95,242.00 L64.40,243.45 L64.85,244.09 L65.30,245.95 L65.75,247.46 L66.20,247.97 L66.65,249.60 L67.10,252.27 L67.55,251.73 L68.00,254.76 L68.45,255.43 L68.90,256.26 L69.35,257.83 L69.80,258.84 L70.25,260.37 L70.70,260.22 L71.15,261.30 L71.60,262.21 L72.05,264.60 L72.50,264.81 L72.95,264.35 L73.40,265.58 L73.85,266.12 L74.30,267.40 L74.75,268.30 L75.20,270.50 L75.65,268.33 L76.10,271.04 L76.55,271.32 L77.00,271.19 L77.45,272.24 L77.90,272.64 L78.35,273.66 L78.80,274.95 L79.25,273.78 L79.70,276.37 L80.15,275.77 L80.60,277.67 L81.05,277.47 L81.50,278.60 L81.95,278.68 L82.40,279.59 L82.85,279.39 L83.30,279.30 L83.75,280.87 L84.20,281.41 L84.65,282.88 L85.10,280.50 L85.55,282.26 L86.00,283.63 L86.45,282.48 L86.90,283.67 L87.35,285.79 L87.80,285.76 L88.25,284.61 L88.70,286.68 L89.15,286.96 L89.60,287.11 L90.05,287.28 L90.50,287.61 L90.95,287.27 L91.40,287.94 L91.85,289.24 L92.30,289.25 L92.75,290.87 L93.20,289.75 L93.65,288.71 L94.10,290.57 L94.55,291.40 L95.00,291.87 L95.45,292.05 L95.90,291.82 L96.35,293.84 L96.80,292.71 L97.25,294.06 L97.70,293.75 L98.15,293.49 L98.60,295.70 L99.05,293.33 L99.50,294.86 L99.95,296.14 L100.40,295.95 L100.85,297.09 L101.30,296.86 L101.75,296.98 L102.20,299.17 L102.65,297.86 L103.10,298.26 L103.55,297.96 L104.00,298.55 L104.45,299.88 L104.90,300.16 L105.35,300.12 L105.80,299.97 L106.25,301.28 L106.70,299.95 L107.15,301.24 L107.60,301.64 L108.05,301.55 L108.50,302.58 L108.95,302.34 L109.40,302.57 L109.85,304.72 L110.30,304.31 L110.75,304.95 L111.20,304.47 L111.65,305.43 L112.10,305.61 L112.55,306.23 L113.00,307.36 L113.45,305.85 L113.90,306.50 L114.35,306.59 L114.80,304.48 L115.25,306.27 L115.70,307.56 L116.15,308.29 L116.60,307.75 L117.05,309.25 L117.50,309.65 L117.95,308.76 L118.40,310.34 L118.85,310.86 L119.30,310.25 L119.75,309.53 L120.20,311.53 L120.65,310.68 L121.10,310.81 L121.55,311.44 L122.00,311.27 L122.45,312.67 L122.90,312.75 L123.35,313.33 L123.80,313.16 L124.25,312.48 L124.70,313.20 L125.15,314.19 L125.60,313.57 L126.05,316.16 L126.50,314.22 L126.95,314.24 L127.40,315.72 L127.85,315.71 L128.30,315.43 L128.75,315.55 L129.20,316.27 L129.65,316.81 L130.10,317.02 L130.55,316.53 L131.00,317.29 L131.45,317.84 L131.90,318.03 L132.35,315.59 L132.80,317.37 L133.25,317.70 L133.70,318.33 L134.15,318.86 L134.60,319.63 L135.05,319.66 L135.50,319.38 L135.95,319.72 L136.40,321.18 L136.85,319.76 L137.30,320.63 L137.75,321.75 L138.20,321.13 L138.65,319.69 L139.10,321.62 L139.55,321.32 L140.00,321.74 L140.45,322.78 L140.90,322.60 L141.35,322.31 L141.80,323.35 L142.25,323.25 L142.70,323.24 L143.15,323.60 L143.60,323.79 L144.05,323.59 L144.50,323.73 L144.95,324.28 L145.40,323.81 L145.85,323.82 L146.30,325.82 L146.75,324.96 L147.20,325.32 L147.65,325.45 L148.10,325.77 L148.55,325.98 L149.00,326.22 L149.45,325.81 L149.90,327.23 L150.35,326.30 L150.80,327.71 L151.25,325.85 L151.70,326.65 L152.15,328.29 L152.60,327.69 L153.05,327.52 L153.50,328.45 L153.95,327.65 L154.40,328.63 L154.85,327.22 L155.30,328.65 L155.75,328.70 L156.20,329.72 L156.65,330.15 L157.10,329.13 L157.55,331.04 L158.00,329.68 L158.45,328.85 L158.90,328.80 L159.35,331.73 L159.80,330.78 L160.25,330.57 L160.70,330.68 L161.15,330.62 L161.60,332.51 L162.05,331.68 L162.50,333.17 L162.95,331.96 L163.40,330.63 L163.85,333.04 L164.30,332.36 L164.75,332.63 L165.20,334.06 L165.65,332.95 L166.10,334.12 L166.55,333.47 L167.00,333.12 L167.45,334.17 L167.90,333.56 L168.35,335.01 L168.80,334.98 L169.25,334.52 L169.70,335.07 L170.15,335.20 L170.60,334.77 L171.05,335.75 L171.50,335.13 L171.95,335.88 L172.40,334.94 L172.85,335.83 L173.30,336.21 L173.75,335.52 L174.20,335.94 L174.65,336.02 L175.10,337.05 L175.55,336.19 L176.00,337.16 L176.45,338.07 L176.90,337.40 L177.35,336.17 L177.80,337.54 L178.25,338.33 L178.70,337.55 L179.15,338.67 L179.60,338.48 L180.05,338.48 L180.50,338.15 L180.95,338.12 L181.40,338.44 L181.85,338.81 L182.30,339.27 L182.75,339.34 L183.20,338.98 L183.65,339.37 L184.10,339.74 L184.55,338.47 L185.00,339.21 L185.45,339.32 L185.90,339.87 L186.35,339.96 L186.80,340.11 L187.25,339.81 L187.70,341.03 L188.15,340.88 L188.60,339.67 L189.05,340.96 L189.50,340.30 L189.95,342.41 L190.40,341.02 L190.85,341.20 L191.30,341.66 L191.75,341.59 L192.20,341.81 L192.65,343.06 L193.10,342.27 L193.55,342.82 L194.00,343.15 L194.45,341.80 L194.90,343.79 L195.35,343.21 L195.80,343.52 L196.25,342.36 L196.70,343.66 L197.15,343.50 L197.60,342.95 L198.05,345.04 L198.50,343.96 L198.95,343.51 L199.40,343.93 L199.85,344.55 L200.30,344.82 L200.75,344.55 L201.20,345.11 L201.65,345.40 L202.10,343.62 L202.55,344.26 L203.00,344.06 L203.45,344.89 L203.90,345.95 L204.35,345.50 L204.80,344.42 L205.25,345.06 L205.70,346.09 L206.15,345.11 L206.60,345.52 L207.05,345.91 L207.50,344.53 L207.95,346.46 L208.40,346.25 L208.85,346.52 L209.30,345.54 L209.75,345.79 L210.20,346.01 L210.65,346.71 L211.10,346.69 L211.55,346.83 L212.00,348.09 L212.45,347.85 L212.90,346.54 L213.35,346.68 L213.80,348.44 L214.25,347.12 L214.70,348.40 L215.15,348.65 L215.60,347.25 L216.05,347.54 L216.50,347.88 L216.95,347.31 L217.40,347.33 L217.85,347.83 L218.30,348.80 L218.75,347.98 L219.20,348.25 L219.65,348.16 L220.10,347.62 L220.55,349.71 L221.00,347.12 L221.45,348.39 L221.90,349.33 L222.35,348.05 L222.80,349.54 L223.25,350.09 L223.70,348.70 L224.15,349.53 L224.60,348.70 L225.05,349.92 L225.50,349.71 L225.95,349.88 L226.40,350.78 L226.85,350.23 L227.30,350.93 L227.75,350.52 L228.20,349.32 L228.65,350.43 L229.10,350.67 L229.55,349.40 L230.00,351.42 L230.45,350.62 L230.90,350.91 L231.35,350.11 L231.80,350.87 L232.25,351.11 L232.70,350.75 L233.15,351.11 L233.60,349.65 L234.05,352.17 L234.50,350.51 L234.95,349.84 L235.40,350.78 L235.85,350.94 L236.30,351.98 L236.75,351.04 L237.20,351.95 L237.65,351.16 L238.10,353.45 L238.55,352.36 L239.00,353.42 L239.45,351.42 L239.90,352.67 L240.35,351.61 L240.80,352.75 L241.25,352.90 L241.70,351.38 L242.15,351.77 L242.60,351.82 L243.05,351.66 L243.50,352.27 L243.95,352.18 L244.40,351.91 L244.85,353.06 L245.30,353.44 L245.75,352.21 L246.20,352.80 L246.65,353.27 L247.10,353.17 L247.55,352.91 L248.00,354.03 L248.45,354.12 L248.90,354.07 L249.35,353.52 L249.80,355.12 L250.25,355.01 L250.70,353.58 L251.15,353.84 L251.60,354.82 L252.05,353.49 L252.50,354.40 L252.95,354.21 L253.40,353.75 L253.85,354.14 L254.30,353.27 L254.75,354.05 L255.20,353.10 L255.65,356.15 L256.10,355.67 L256.55,355.54 L257.00,354.95 L257.45,355.50 L257.90,355.75 L258.35,355.63 L258.80,355.62 L259.25,354.40 L259.70,355.39 L260.15,354.78 L260.60,354.38 L261.05,354.47 L261.50,355.63 L261.95,356.12" fill="none" stroke="#e044f0" stroke-width="1.4" stroke-linejoin="round"/>
<rect x="26.2" y="209.2" width="236.7" height="170.7" fill="none" stroke="#000" stroke-width="1.5"/>
<line x1="26.20" y1="379.9" x2="26.20" y2="382.9" stroke="#000" stroke-width="1.3"/>
<text x="26.20" y="393.6" font-size="10" text-anchor="middle" font-family="Liberation Serif, serif" font-weight="bold" stroke="#000">0</text>
<line x1="49.87" y1="379.9" x2="49.87" y2="381.9" stroke="#000" stroke-width="1.3"/>
<line x1="73.54" y1="379.9" x2="73.54" y2="382.9" stroke="#000" stroke-width="1.3"/>
<text x="73.54" y="393.6" font-size="10" text-anchor="middle" font-family="Liberation Serif, serif" font-weight="bold" stroke="#000">20</text>
<line x1="97.21" y1="379.9" x2="97.21" y2="381.9" stroke="#000" stroke-width="1.3"/>
<line x1="120.88" y1="379.9" x2="120.88" y2="382.9" stroke="#000" stroke-width="1.3"/>
<text x="120.88" y="393.6" font-size="10" text-anchor="middle" font-family="Liberation Serif, serif" font-weight="bold" stroke="#000">40</text>
<line x1="144.55" y1="379.9" x2="144.55" y2="381.9" stroke="#000" stroke-width="1.3"/>
<line x1="168.22" y1="379.9" x2="168.22" y2="382.9" stroke="#000" stroke-width="1.3"/>
<text x="168.22" y="393.6" font-size="10" text-anchor="middle" font-family="Liberation Serif, serif" font-weight="bold" stroke="#000">60</text>
<line x1="191.89" y1="379.9" x2="191.89" y2="381.9" stroke="#000" stroke-width="1.3"/>
<line x1="215.56" y1="379.9" x2="215.56" y2="382.9" stroke="#000" stroke-width="1.3"/>
<text x="215.56" y="393.6" font-size="10" text-anchor="middle" font-family="Liberation Serif, serif" font-weight="bold" stroke="#000">80</text>
<line x1="239.23" y1="379.9" x2="239.23" y2="381.9" stroke="#000" stroke-width="1.3"/>
<line x1="262.90" y1="379.9" x2="262.90" y2="382.9" stroke="#000" stroke-width="1.3"/>
<text x="262.90" y="393.6" font-size="10" text-anchor="middle" font-family="Liberation Serif, serif" font-weight="bold" stroke="#000">100</text>
<text x="144.4" y="404.9" font-size="10.4" text-anchor="middle" font-family="Liberation Serif, serif" font-weight="bold" stroke="#000">Time (ns)</text>
<text transform="translate(12.3,293.9) rotate(-90)" font-size="10" text-anchor="middle" font-family="Liberation Serif, serif" font-weight="bold" stroke="#000">PL Intensity (normalized)</text>
<line x1="178.6" y1="217.80" x2="196.3" y2="217.80" stroke="#000000" stroke-width="3"/>
<text x="201.4" y="222.20" font-size="10.7" fill="#000000" font-family="Liberation Serif, serif" font-weight="bold" stroke="#000000">Pristine</text>
<line x1="178.6" y1="232.60" x2="196.3" y2="232.60" stroke="#ff1a1a" stroke-width="3"/>
<text x="201.4" y="237.00" font-size="10.7" fill="#ff0000" font-family="Liberation Serif, serif" font-weight="bold" stroke="#ff0000">0.025 M cys</text>
<line x1="178.6" y1="245.30" x2="196.3" y2="245.30" stroke="#0022ff" stroke-width="3"/>
<text x="201.4" y="249.70" font-size="10.7" fill="#0a0aff" font-family="Liberation Serif, serif" font-weight="bold" stroke="#0a0aff">0.050 M cys</text>
<line x1="178.6" y1="258.40" x2="196.3" y2="258.40" stroke="#107a10" stroke-width="3"/>
<text x="201.4" y="262.80" font-size="10.7" fill="#0a800a" font-family="Liberation Serif, serif" font-weight="bold" stroke="#0a800a">0.075 M cys</text>
<line x1="178.6" y1="271.80" x2="196.3" y2="271.80" stroke="#d050f8" stroke-width="3"/>
<text x="201.4" y="276.20" font-size="10.7" fill="#dd44f4" font-family="Liberation Serif, serif" font-weight="bold" stroke="#dd44f4">0.100 M cys</text>
<text x="272.4" y="225.2" font-size="21" font-family="Liberation Serif, serif" font-weight="bold" stroke="#000">d</text>
<defs><radialGradient id="g0" cx="0.42" cy="0.32" r="0.7"><stop offset="0" stop-color="#ffffff"/><stop offset="0.3" stop-color="#000000"/><stop offset="1" stop-color="#000000"/></radialGradient><radialGradient id="g1" cx="0.42" cy="0.32" r="0.7"><stop offset="0" stop-color="#ffffff"/><stop offset="0.3" stop-color="#ff0000"/><stop offset="1" stop-color="#ff0000"/></radialGradient><radialGradient id="g2" cx="0.42" cy="0.32" r="0.7"><stop offset="0" stop-color="#ffffff"/><stop offset="0.3" stop-color="#0000ff"/><stop offset="1" stop-color="#0000ff"/></radialGradient><radialGradient id="g3" cx="0.42" cy="0.32" r="0.7"><stop offset="0" stop-color="#ffffff"/><stop offset="0.3" stop-color="#008000"/><stop offset="1" stop-color="#008000"/></radialGradient><radialGradient id="g4" cx="0.42" cy="0.32" r="0.7"><stop offset="0" stop-color="#ffffff"/><stop offset="0.3" stop-color="#e040f0"/><stop offset="1" stop-color="#e040f0"/></radialGradient></defs>
<polyline points="314.4,288.5 361.9,259.0 410.0,216.7 458.1,265.4 505.8,276.4" fill="none" stroke="#e2da4e" stroke-width="1.8" stroke-dasharray="3.6,3.4"/>
<ellipse cx="314.4" cy="288.5" rx="2.8" ry="3.9" fill="url(#g0)"/>
<ellipse cx="361.9" cy="259.0" rx="2.8" ry="3.9" fill="url(#g1)"/>
<ellipse cx="410.0" cy="216.7" rx="2.8" ry="3.9" fill="url(#g2)"/>
<ellipse cx="458.1" cy="265.4" rx="2.8" ry="3.9" fill="url(#g3)"/>
<ellipse cx="505.8" cy="276.4" rx="2.8" ry="3.9" fill="url(#g4)"/>
<polyline points="314.4,374.5 361.9,330.2 410.0,304.6 458.1,352.7 505.8,356.8" fill="none" stroke="#e2da4e" stroke-width="1.8" stroke-dasharray="3.6,3.4"/>
<ellipse cx="314.4" cy="374.5" rx="2.8" ry="3.9" fill="url(#g0)"/>
<ellipse cx="361.9" cy="330.2" rx="2.8" ry="3.9" fill="url(#g1)"/>
<ellipse cx="410.0" cy="304.6" rx="2.8" ry="3.9" fill="url(#g2)"/>
<ellipse cx="458.1" cy="352.7" rx="2.8" ry="3.9" fill="url(#g3)"/>
<ellipse cx="505.8" cy="356.8" rx="2.8" ry="3.9" fill="url(#g4)"/>
<rect x="290.2" y="209.1" width="240.2" height="172.9" fill="none" stroke="#000" stroke-width="1.5"/>
<line x1="290.2" y1="295.6" x2="530.4" y2="295.6" stroke="#000" stroke-width="1.5"/>
<line x1="314.4" y1="382.0" x2="314.4" y2="385.0" stroke="#000" stroke-width="1.3"/>
<line x1="338.15" y1="382.0" x2="338.15" y2="384.0" stroke="#000" stroke-width="1.3"/>
<line x1="361.9" y1="382.0" x2="361.9" y2="385.0" stroke="#000" stroke-width="1.3"/>
<line x1="385.95" y1="382.0" x2="385.95" y2="384.0" stroke="#000" stroke-width="1.3"/>
<line x1="410.0" y1="382.0" x2="410.0" y2="385.0" stroke="#000" stroke-width="1.3"/>
<line x1="434.05" y1="382.0" x2="434.05" y2="384.0" stroke="#000" stroke-width="1.3"/>
<line x1="458.1" y1="382.0" x2="458.1" y2="385.0" stroke="#000" stroke-width="1.3"/>
<line x1="481.95000000000005" y1="382.0" x2="481.95000000000005" y2="384.0" stroke="#000" stroke-width="1.3"/>
<line x1="505.8" y1="382.0" x2="505.8" y2="385.0" stroke="#000" stroke-width="1.3"/>
<text x="294" y="221.0" font-size="11" textLength="75.3" lengthAdjust="spacingAndGlyphs" font-family="Liberation Serif, serif" font-weight="bold" stroke="#000">PL intesity (a.u.)</text>
<text x="291.5" y="274.6" font-size="10.6" fill="#000" font-family="Liberation Serif, serif" font-weight="bold" stroke="#000">(685 nm)</text>
<text x="352.8" y="274.6" font-size="10.6" fill="#ff0000" font-family="Liberation Serif, serif" font-weight="bold" stroke="#ff0000">(686 nm)</text>
<text x="416.9" y="223.4" font-size="10.6" fill="#0000ff" font-family="Liberation Serif, serif" font-weight="bold" stroke="#0000ff">(686 nm)</text>
<text x="449.2" y="257.4" font-size="10.6" fill="#008000" font-family="Liberation Serif, serif" font-weight="bold" stroke="#008000">(687 nm)</text>
<text x="488.6" y="270.8" font-size="10.6" fill="#e040f0" font-family="Liberation Serif, serif" font-weight="bold" stroke="#e040f0">(688 nm)</text>
<text x="292.4" y="304.4" font-size="8.5" font-family="Liberation Serif, serif" font-weight="bold" stroke="#000">τ</text>
<text x="297.0" y="308.7" font-size="10.1" font-family="Liberation Serif, serif" font-weight="bold" stroke="#000">ave</text>
<text x="315.0" y="304.3" font-size="9.3" textLength="16.6" lengthAdjust="spacingAndGlyphs" font-family="Liberation Serif, serif" font-weight="bold" stroke="#000">(ns)</text>
<text transform="translate(312.9,405.2) rotate(-45)" font-size="10.4" text-anchor="middle" dominant-baseline="central" fill="#000" font-family="Liberation Serif, serif" font-weight="bold" stroke="#000">pristine</text>
<text transform="translate(360.29999999999995,406.0) rotate(-45)" font-size="10.4" text-anchor="middle" dominant-baseline="central" fill="#ff0000" font-family="Liberation Serif, serif" font-weight="bold" stroke="#ff0000">0.025 M Cys</text>
<text transform="translate(408.4,406.0) rotate(-45)" font-size="10.4" text-anchor="middle" dominant-baseline="central" fill="#0000ff" font-family="Liberation Serif, serif" font-weight="bold" stroke="#0000ff">0.050 M Cys</text>
<text transform="translate(456.5,406.0) rotate(-45)" font-size="10.4" text-anchor="middle" dominant-baseline="central" fill="#008000" font-family="Liberation Serif, serif" font-weight="bold" stroke="#008000">0.075 M Cys</text>
<text transform="translate(504.2,406.0) rotate(-45)" font-size="10.4" text-anchor="middle" dominant-baseline="central" fill="#e040f0" font-family="Liberation Serif, serif" font-weight="bold" stroke="#e040f0">0.100 M Cys</text>
</svg></body></html>
